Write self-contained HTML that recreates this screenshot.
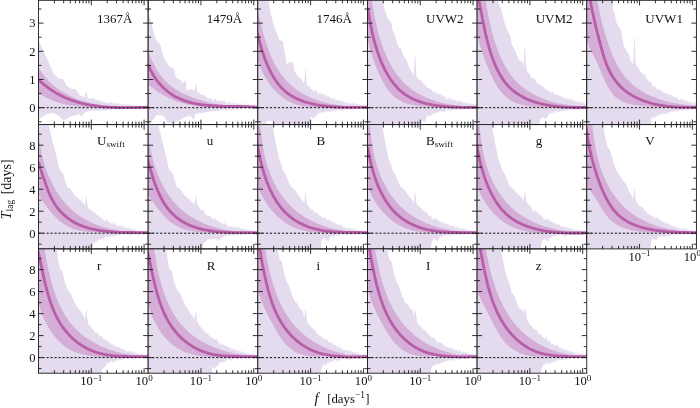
<!DOCTYPE html>
<html><head><meta charset="utf-8"><style>html,body{margin:0;padding:0;background:#fff;overflow:hidden}svg{display:block}</style></head>
<body><svg width="700" height="408" viewBox="0 0 700 408">
<rect width="700" height="408" fill="#fff"/>
<defs>
<clipPath id="c00"><rect x="38.50" y="0.30" width="109.65" height="124.30"/></clipPath>
<clipPath id="c01"><rect x="148.15" y="0.30" width="109.65" height="124.30"/></clipPath>
<clipPath id="c02"><rect x="257.80" y="0.30" width="109.65" height="124.30"/></clipPath>
<clipPath id="c03"><rect x="367.45" y="0.30" width="109.65" height="124.30"/></clipPath>
<clipPath id="c04"><rect x="477.10" y="0.30" width="109.65" height="124.30"/></clipPath>
<clipPath id="c05"><rect x="586.75" y="0.30" width="109.65" height="124.30"/></clipPath>
<clipPath id="c10"><rect x="38.50" y="124.60" width="109.65" height="124.30"/></clipPath>
<clipPath id="c11"><rect x="148.15" y="124.60" width="109.65" height="124.30"/></clipPath>
<clipPath id="c12"><rect x="257.80" y="124.60" width="109.65" height="124.30"/></clipPath>
<clipPath id="c13"><rect x="367.45" y="124.60" width="109.65" height="124.30"/></clipPath>
<clipPath id="c14"><rect x="477.10" y="124.60" width="109.65" height="124.30"/></clipPath>
<clipPath id="c15"><rect x="586.75" y="124.60" width="109.65" height="124.30"/></clipPath>
<clipPath id="c20"><rect x="38.50" y="248.90" width="109.65" height="124.30"/></clipPath>
<clipPath id="c21"><rect x="148.15" y="248.90" width="109.65" height="124.30"/></clipPath>
<clipPath id="c22"><rect x="257.80" y="248.90" width="109.65" height="124.30"/></clipPath>
<clipPath id="c23"><rect x="367.45" y="248.90" width="109.65" height="124.30"/></clipPath>
<clipPath id="c24"><rect x="477.10" y="248.90" width="109.65" height="124.30"/></clipPath>
<clipPath id="c25"><rect x="586.75" y="248.90" width="109.65" height="124.30"/></clipPath>
</defs>
<g clip-path="url(#c00)">
<path d="M38.0,38.4 53.7,73.7 58.4,78.5 63.2,79.2 67.1,86.3 71.0,88.7 75.7,89.5 80.5,95.7 84.9,97.0 85.6,93.6 85.9,91.8 86.5,91.8 86.8,93.6 87.5,97.0 88.3,98.1 88.9,98.3 90.1,98.4 91.3,98.4 92.4,97.2 93.5,99.1 94.5,99.1 95.5,99.2 96.4,100.3 97.3,100.7 98.2,99.4 99.0,99.9 99.8,100.5 100.6,101.9 101.3,101.9 102.1,100.2 102.8,100.5 103.5,102.5 104.1,103.4 104.8,101.9 105.4,101.4 106.0,103.2 106.6,101.9 107.2,103.1 107.8,104.0 108.3,103.1 108.9,102.7 109.4,103.4 109.9,102.1 110.4,102.6 110.9,102.3 111.4,102.8 111.8,102.5 112.3,102.9 112.8,102.8 113.2,103.3 113.6,103.3 114.1,103.6 114.5,104.8 114.9,101.9 115.3,104.8 115.7,103.3 116.1,102.4 116.5,103.5 116.9,103.8 117.2,104.8 117.6,102.7 118.0,104.1 118.3,104.0 118.7,102.2 119.0,102.8 119.4,104.6 119.7,104.7 120.0,105.1 120.4,104.6 120.7,104.5 121.0,104.3 121.3,105.4 121.6,103.4 121.9,104.1 122.2,104.7 122.5,102.7 122.8,105.6 123.1,103.6 123.4,104.3 123.7,106.6 123.9,103.6 124.2,103.9 124.5,106.1 124.7,103.4 125.0,104.1 125.3,105.1 125.5,105.0 125.8,105.2 126.0,105.0 126.3,106.0 126.5,105.7 126.8,105.3 127.0,104.0 127.3,104.0 127.5,102.9 127.7,105.5 128.0,103.0 128.2,105.7 128.4,106.7 128.7,103.8 128.9,104.2 129.1,104.4 129.3,105.8 129.5,104.1 129.8,104.8 130.0,104.5 130.2,104.8 130.4,106.3 130.6,104.1 130.8,105.1 131.0,105.4 131.2,106.0 131.4,103.9 131.6,106.3 131.8,105.6 132.0,106.0 132.2,105.3 132.4,103.6 132.6,104.6 132.8,106.0 133.0,105.3 133.1,105.2 133.3,107.0 133.5,107.5 133.7,105.2 133.9,107.2 134.0,103.3 134.2,103.2 134.4,106.2 134.6,105.1 134.7,105.9 134.9,105.8 135.1,105.3 135.3,106.0 135.4,105.5 135.6,103.8 135.8,105.6 135.9,105.6 136.1,107.2 136.2,104.3 136.4,105.4 136.6,105.0 136.7,105.3 136.9,107.1 137.0,105.8 137.2,105.0 137.3,105.6 137.5,106.2 137.7,104.5 137.8,105.2 138.0,107.0 138.1,106.4 138.3,105.5 138.4,105.0 138.5,105.4 138.7,104.0 138.8,106.5 139.0,105.9 139.1,105.7 139.3,104.3 139.4,104.8 139.5,106.1 139.7,105.8 139.8,105.1 140.0,106.1 140.1,106.5 140.2,104.9 140.4,105.1 140.5,104.7 140.6,104.5 140.8,106.4 140.9,106.1 141.0,106.0 141.2,104.5 141.3,104.6 141.4,105.6 141.6,105.3 141.7,105.8 141.8,105.0 141.9,106.3 142.1,107.5 142.2,107.3 142.3,107.3 142.4,105.8 142.6,106.6 142.7,105.4 142.8,106.7 142.9,105.4 143.0,105.3 143.2,105.1 143.3,106.5 143.4,106.0 143.5,106.0 143.6,104.6 143.8,105.9 143.9,104.3 144.0,107.3 144.1,105.7 144.2,106.0 144.3,105.7 144.4,104.2 144.6,104.5 144.7,105.8 144.8,107.3 144.9,104.7 145.0,105.1 145.1,105.8 145.2,104.2 145.3,104.2 145.4,105.5 145.5,105.8 145.7,105.5 145.8,107.4 145.9,105.7 146.0,106.3 146.1,107.5 146.2,107.6 146.3,104.3 146.4,105.5 146.5,107.1 146.6,104.5 146.7,105.0 146.8,104.6 146.9,104.6 147.0,104.8 147.1,106.1 147.2,107.2 147.3,107.5 147.4,106.0 147.5,104.0 147.6,105.9 147.7,105.6 147.8,106.3 147.9,105.9 148.0,104.2 148.1,106.4 148.1,107.5 148.0,107.3 147.9,107.4 147.8,106.7 147.7,108.7 147.6,109.2 147.5,108.6 147.4,108.0 147.3,108.7 147.2,107.3 147.1,107.1 147.0,108.2 146.9,108.0 146.8,109.3 146.7,105.5 146.6,108.2 146.5,106.8 146.4,108.0 146.3,108.1 146.2,109.1 146.1,107.5 146.0,107.6 145.9,107.8 145.8,108.7 145.7,108.3 145.5,108.8 145.4,107.4 145.3,108.5 145.2,107.7 145.1,108.3 145.0,108.7 144.9,109.2 144.8,108.6 144.7,108.7 144.6,108.1 144.4,109.3 144.3,108.7 144.2,108.2 144.1,108.8 144.0,107.9 143.9,108.5 143.8,109.5 143.6,107.6 143.5,108.0 143.4,108.0 143.3,109.2 143.2,107.0 143.0,108.1 142.9,107.2 142.8,107.6 142.7,109.1 142.6,109.3 142.4,108.7 142.3,108.5 142.2,107.7 142.1,109.7 141.9,108.9 141.8,108.6 141.7,108.7 141.6,106.4 141.4,107.2 141.3,109.4 141.2,108.1 141.0,107.6 140.9,108.1 140.8,108.3 140.6,108.4 140.5,108.2 140.4,110.0 140.2,107.2 140.1,109.0 140.0,109.2 139.8,108.8 139.7,108.0 139.5,107.3 139.4,109.5 139.3,108.0 139.1,107.4 139.0,108.6 138.8,109.4 138.7,108.4 138.5,109.3 138.4,107.3 138.3,108.2 138.1,108.6 138.0,107.7 137.8,107.1 137.7,109.7 137.5,108.8 137.3,107.3 137.2,108.9 137.0,107.4 136.9,109.7 136.7,108.1 136.6,109.5 136.4,108.3 136.2,109.7 136.1,107.6 135.9,108.0 135.8,107.8 135.6,107.5 135.4,106.4 135.3,108.2 135.1,109.1 134.9,108.7 134.7,109.2 134.6,108.6 134.4,108.9 134.2,107.7 134.0,108.6 133.9,107.0 133.7,109.7 133.5,109.8 133.3,108.2 133.1,108.6 133.0,107.6 132.8,107.7 132.6,107.9 132.4,107.0 132.2,108.3 132.0,108.3 131.8,108.3 131.6,109.5 131.4,109.0 131.2,108.7 131.0,107.8 130.8,109.3 130.6,107.4 130.4,108.4 130.2,108.8 130.0,108.6 129.8,108.7 129.5,107.9 129.3,107.7 129.1,109.9 128.9,106.5 128.7,108.1 128.4,108.8 128.2,109.3 128.0,108.0 127.7,110.0 127.5,108.6 127.3,110.2 127.0,108.8 126.8,108.8 126.5,109.1 126.3,109.2 126.0,108.7 125.8,109.4 125.5,108.6 125.3,108.2 125.0,109.0 124.7,107.5 124.5,108.5 124.2,108.5 123.9,108.1 123.7,109.3 123.4,109.8 123.1,107.7 122.8,108.3 122.5,109.3 122.2,109.9 121.9,109.9 121.6,109.5 121.3,108.9 121.0,109.8 120.7,109.1 120.4,108.9 120.0,108.7 119.7,110.5 119.4,110.1 119.0,109.6 118.7,110.3 118.3,108.9 118.0,108.8 117.6,109.0 117.2,108.5 116.9,110.5 116.5,110.4 116.1,109.1 115.7,108.9 115.3,109.5 114.9,109.4 114.5,108.7 114.1,109.7 113.6,108.9 113.2,108.9 112.8,108.8 112.3,109.5 111.8,109.7 111.4,110.7 110.9,110.8 110.4,110.0 109.9,110.7 109.4,109.4 108.9,109.8 108.3,109.5 107.8,109.3 107.2,110.6 106.6,110.7 106.0,109.4 105.4,110.8 104.8,110.1 104.1,110.9 103.5,110.7 102.8,109.2 102.1,111.3 101.3,110.8 100.6,110.8 99.8,110.6 99.0,110.6 89.9,110.7 85.2,112.3 81.6,116.2 78.8,113.9 74.2,115.5 69.4,117.0 66.3,119.4 63.2,120.2 58.4,115.5 53.7,113.1 47.4,113.9 41.9,117.0 38.0,120.2 Z" fill="#e4dbee"/>
<path d="M37.6,66.2 38.1,67.1 38.7,68.0 39.3,68.9 39.8,69.8 40.4,70.7 41.0,71.6 41.6,72.4 42.2,73.3 42.8,74.1 43.5,74.9 44.1,75.7 44.8,76.5 45.4,77.3 46.1,78.1 46.8,78.8 47.4,79.6 48.1,80.3 48.8,81.0 49.5,81.7 50.3,82.4 51.0,83.1 51.7,83.8 52.5,84.5 53.2,85.1 54.0,85.7 54.7,86.4 55.5,87.0 56.3,87.6 57.1,88.2 57.9,88.8 58.7,89.4 59.5,89.9 60.3,90.5 61.1,91.0 61.9,91.5 62.8,92.1 63.6,92.6 64.5,93.1 65.3,93.5 66.2,94.0 67.0,94.5 67.9,94.9 68.8,95.4 69.7,95.8 70.6,96.2 71.4,96.7 72.3,97.1 73.2,97.5 74.2,97.8 75.1,98.2 76.0,98.6 76.9,98.9 77.8,99.3 78.8,99.6 79.7,99.9 80.6,100.3 81.6,100.6 82.5,100.9 83.5,101.1 84.4,101.4 85.4,101.7 86.4,102.0 87.3,102.2 88.3,102.5 89.3,102.7 90.2,102.9 91.2,103.1 92.2,103.4 93.2,103.6 94.2,103.8 95.1,104.0 96.1,104.1 97.1,104.3 98.1,104.5 99.1,104.6 100.1,104.8 101.1,104.9 102.1,105.1 103.1,105.2 104.1,105.3 105.1,105.5 106.1,105.6 107.2,105.7 108.2,105.8 109.2,105.9 110.2,106.0 111.2,106.1 112.2,106.2 113.2,106.2 114.2,106.3 115.3,106.4 116.3,106.4 117.3,106.5 118.3,106.5 119.3,106.6 120.3,106.6 121.3,106.7 122.3,106.7 123.4,106.7 124.4,106.8 125.4,106.8 126.4,106.8 127.4,106.8 128.4,106.9 129.4,106.9 130.4,106.9 131.4,106.9 132.4,106.9 133.4,106.9 134.4,106.9 135.4,106.9 136.4,106.9 137.4,106.9 138.4,106.8 139.4,106.8 140.4,106.8 141.3,106.8 142.3,106.8 143.3,106.8 144.3,106.7 145.2,106.7 146.2,106.7 147.2,106.7 148.1,106.7 149.1,106.6 150.0,106.6 150.1,107.7 149.1,107.6 148.2,107.5 147.2,107.4 146.3,107.3 145.3,107.2 144.4,107.1 143.4,107.1 142.5,107.0 141.5,106.9 140.5,106.9 139.5,106.8 138.6,106.8 137.6,106.8 136.6,106.7 135.6,106.7 134.6,106.7 133.6,106.7 132.7,106.6 131.7,106.6 130.7,106.6 129.7,106.6 128.7,106.6 127.7,106.6 126.7,106.6 125.7,106.7 124.7,106.7 123.7,106.7 122.7,106.7 121.7,106.7 120.6,106.7 119.6,106.8 118.6,106.8 117.6,106.8 116.6,106.8 115.6,106.9 114.6,106.9 113.5,106.9 112.5,107.0 111.5,107.0 110.5,107.0 109.5,107.0 108.5,107.1 107.4,107.1 106.4,107.1 105.4,107.1 104.4,107.2 103.4,107.2 102.3,107.2 101.3,107.2 100.3,107.2 99.3,107.2 98.3,107.2 97.2,107.2 96.2,107.2 95.2,107.2 94.2,107.2 93.2,107.2 92.2,107.2 91.1,107.2 90.1,107.2 89.1,107.1 88.1,107.1 87.1,107.1 86.1,107.0 85.1,107.0 84.1,106.9 83.1,106.8 82.1,106.8 81.1,106.7 80.1,106.6 79.1,106.5 78.1,106.4 77.1,106.3 76.1,106.2 75.1,106.1 74.1,106.0 73.1,105.8 72.1,105.7 71.1,105.5 70.2,105.4 69.2,105.2 68.2,105.0 67.2,104.9 66.3,104.7 65.3,104.4 64.3,104.2 63.4,104.0 62.4,103.8 61.5,103.5 60.5,103.3 59.6,103.0 58.6,102.7 57.7,102.4 56.7,102.1 55.8,101.8 54.9,101.5 53.9,101.1 53.0,100.8 52.1,100.4 51.2,100.0 50.3,99.6 49.4,99.2 48.5,98.8 47.6,98.3 46.7,97.9 45.8,97.4 44.9,97.0 44.0,96.5 43.1,95.9 42.2,95.4 41.4,94.9 40.5,94.3 39.6,93.8 38.8,93.2 37.9,92.6 Z" fill="#d4aed6"/>
<path d="M38.2,79.5 39.0,80.2 39.7,80.9 40.5,81.6 41.3,82.3 42.0,83.0 42.8,83.6 43.6,84.3 44.4,84.9 45.2,85.6 46.0,86.2 46.8,86.8 47.6,87.4 48.4,88.0 49.3,88.6 50.1,89.2 50.9,89.7 51.8,90.3 52.6,90.8 53.5,91.4 54.3,91.9 55.2,92.4 56.0,92.9 56.9,93.4 57.7,93.9 58.6,94.4 59.5,94.8 60.4,95.3 61.3,95.8 62.2,96.2 63.0,96.6 63.9,97.0 64.8,97.5 65.7,97.9 66.7,98.2 67.6,98.6 68.5,99.0 69.4,99.4 70.3,99.7 71.2,100.1 72.2,100.4 73.1,100.7 74.0,101.0 75.0,101.4 75.9,101.7 76.9,101.9 77.8,102.2 78.8,102.5 79.7,102.8 80.7,103.0 81.6,103.3 82.6,103.5 83.5,103.7 84.5,103.9 85.5,104.2 86.4,104.4 87.4,104.6 88.4,104.7 89.4,104.9 90.3,105.1 91.3,105.3 92.3,105.4 93.3,105.6 94.3,105.7 95.2,105.9 96.2,106.0 97.2,106.1 98.2,106.2 99.2,106.4 100.2,106.5 101.2,106.6 102.2,106.7 103.2,106.8 104.2,106.8 105.2,106.9 106.2,107.0 107.2,107.1 108.2,107.1 109.2,107.2 110.2,107.2 111.2,107.3 112.2,107.3 113.2,107.4 114.2,107.4 115.2,107.5 116.2,107.5 117.2,107.5 118.2,107.5 119.2,107.6 120.2,107.6 121.2,107.6 122.3,107.6 123.3,107.6 124.3,107.6 125.3,107.6 126.3,107.6 127.3,107.6 128.3,107.6 129.3,107.6 130.3,107.6 131.3,107.6 132.3,107.6 133.3,107.6 134.3,107.6 135.3,107.6 136.3,107.5 137.3,107.5 138.3,107.5 139.3,107.5 140.3,107.5 141.3,107.5 142.3,107.4 143.3,107.4 144.2,107.4 145.2,107.4 146.2,107.4 147.2,107.4 148.2,107.3 149.2,107.3 150.1,107.3" fill="none" stroke="#b85ea8" stroke-width="2.8" stroke-linejoin="round"/>
<line x1="38.50" y1="107.70" x2="148.15" y2="107.70" stroke="#111" stroke-width="1" stroke-dasharray="2.2,1.8"/>
</g>
<path d="M91.30,124.60v-5M91.30,0.30v5M144.10,124.60v-5M144.10,0.30v5M54.39,124.60v-3M54.39,0.30v3M63.69,124.60v-3M63.69,0.30v3M70.29,124.60v-3M70.29,0.30v3M75.41,124.60v-3M75.41,0.30v3M79.59,124.60v-3M79.59,0.30v3M83.12,124.60v-3M83.12,0.30v3M86.18,124.60v-3M86.18,0.30v3M88.88,124.60v-3M88.88,0.30v3M107.19,124.60v-3M107.19,0.30v3M116.49,124.60v-3M116.49,0.30v3M123.09,124.60v-3M123.09,0.30v3M128.21,124.60v-3M128.21,0.30v3M132.39,124.60v-3M132.39,0.30v3M135.92,124.60v-3M135.92,0.30v3M138.98,124.60v-3M138.98,0.30v3M141.68,124.60v-3M141.68,0.30v3M38.50,107.70h5M148.15,107.70h-5M38.50,79.50h5M148.15,79.50h-5M38.50,51.30h5M148.15,51.30h-5M38.50,23.10h5M148.15,23.10h-5M38.50,121.80h3M148.15,121.80h-3M38.50,93.60h3M148.15,93.60h-3M38.50,65.40h3M148.15,65.40h-3M38.50,37.20h3M148.15,37.20h-3M38.50,9.00h3M148.15,9.00h-3" stroke="#1a1a1a" stroke-width="0.9" fill="none"/>
<rect x="38.50" y="0.30" width="109.65" height="124.30" fill="none" stroke="#1a1a1a" stroke-width="0.9"/>
<text x="97.10" y="23.10" font-family="'Liberation Serif', 'DejaVu Serif', serif" font-size="13" fill="#111">1367Å</text>
<text x="35.50" y="112.00" font-family="'Liberation Serif', 'DejaVu Serif', serif" font-size="12.5" text-anchor="end" fill="#111">0</text>
<text x="35.50" y="83.80" font-family="'Liberation Serif', 'DejaVu Serif', serif" font-size="12.5" text-anchor="end" fill="#111">1</text>
<text x="35.50" y="55.60" font-family="'Liberation Serif', 'DejaVu Serif', serif" font-size="12.5" text-anchor="end" fill="#111">2</text>
<text x="35.50" y="27.40" font-family="'Liberation Serif', 'DejaVu Serif', serif" font-size="12.5" text-anchor="end" fill="#111">3</text>
<g clip-path="url(#c01)">
<path d="M148.2,11.0 149.6,15.7 151.5,23.5 153.5,31.4 155.8,39.2 160.2,45.0 163.7,56.5 165.4,61.1 170.0,66.9 173.5,68.0 175.2,75.0 177.0,78.4 180.4,79.6 182.7,83.0 186.1,80.0 186.7,91.1 190.5,88.7 193.6,90.3 194.5,91.4 195.2,86.1 195.5,83.2 196.1,83.2 196.4,86.1 197.1,91.4 198.5,92.9 199.8,93.7 200.9,94.5 202.1,95.1 203.1,94.2 204.2,96.4 205.1,95.1 206.1,97.2 207.0,96.8 207.8,98.8 208.7,97.9 209.5,98.4 210.2,97.6 211.0,99.6 211.7,98.9 212.4,99.9 213.1,100.2 213.8,100.3 214.4,99.4 215.1,97.9 215.7,98.7 216.3,100.9 216.8,101.1 217.4,101.5 218.0,99.8 218.5,99.5 219.0,101.5 219.5,101.6 220.0,100.9 220.5,101.0 221.0,99.8 221.5,101.0 222.0,102.7 222.4,100.6 222.9,101.1 223.3,101.6 223.7,101.5 224.1,100.1 224.6,101.5 225.0,101.6 225.4,101.9 225.8,101.9 226.1,102.4 226.5,101.5 226.9,104.3 227.3,102.3 227.6,104.2 228.0,104.2 228.3,102.9 228.7,101.7 229.0,100.7 229.3,101.4 229.7,102.7 230.0,103.2 230.3,102.3 230.6,102.6 231.0,105.9 231.3,103.5 231.6,102.0 231.9,103.9 232.2,102.4 232.5,100.9 232.7,103.6 233.0,102.7 233.3,103.5 233.6,105.3 233.9,103.6 234.1,102.7 234.4,105.2 234.7,101.5 234.9,102.5 235.2,105.1 235.4,105.2 235.7,103.5 235.9,103.0 236.2,104.1 236.4,104.1 236.7,104.0 236.9,103.3 237.2,102.5 237.4,103.1 237.6,103.5 237.9,103.5 238.1,103.3 238.3,103.8 238.5,102.2 238.8,104.9 239.0,105.4 239.2,103.4 239.4,102.7 239.6,104.4 239.8,104.7 240.0,104.0 240.2,105.2 240.5,103.7 240.7,103.2 240.9,105.8 241.1,103.8 241.3,103.9 241.5,102.0 241.7,104.0 241.8,103.8 242.0,104.4 242.2,105.1 242.4,104.6 242.6,103.3 242.8,105.5 243.0,104.9 243.2,105.1 243.3,104.4 243.5,104.6 243.7,103.2 243.9,103.0 244.0,103.9 244.2,103.9 244.4,104.8 244.6,101.3 244.7,104.0 244.9,103.8 245.1,105.7 245.2,104.0 245.4,104.1 245.6,104.7 245.7,105.1 245.9,102.7 246.1,103.4 246.2,105.3 246.4,105.0 246.5,104.7 246.7,106.2 246.8,103.1 247.0,104.8 247.2,104.2 247.3,105.0 247.5,104.0 247.6,105.0 247.8,107.4 247.9,105.4 248.1,105.1 248.2,106.5 248.3,105.6 248.5,107.1 248.6,104.1 248.8,103.9 248.9,102.9 249.1,104.0 249.2,103.1 249.3,106.5 249.5,105.1 249.6,105.6 249.8,105.2 249.9,105.0 250.0,104.8 250.2,103.6 250.3,106.6 250.4,104.7 250.6,106.9 250.7,105.8 250.8,103.7 250.9,104.7 251.1,104.7 251.2,104.5 251.3,104.5 251.5,105.0 251.6,104.5 251.7,104.3 251.8,105.2 252.0,105.1 252.1,104.6 252.2,105.5 252.3,104.7 252.5,105.5 252.6,105.1 252.7,106.3 252.8,103.3 252.9,106.9 253.1,104.7 253.2,106.4 253.3,104.6 253.4,105.0 253.5,105.6 253.6,104.8 253.7,104.7 253.9,105.0 254.0,106.7 254.1,103.4 254.2,105.1 254.3,106.6 254.4,104.9 254.5,106.8 254.6,103.0 254.8,103.8 254.9,104.7 255.0,104.4 255.1,104.5 255.2,105.8 255.3,104.1 255.4,105.5 255.5,105.5 255.6,105.1 255.7,107.4 255.8,104.9 255.9,107.4 256.0,104.7 256.1,105.8 256.2,105.7 256.3,104.6 256.5,106.1 256.6,106.7 256.7,106.1 256.8,105.5 256.9,106.8 257.0,106.2 257.1,105.9 257.2,102.5 257.3,105.2 257.4,106.3 257.4,104.2 257.5,102.3 257.6,104.5 257.7,105.2 257.7,108.4 257.6,107.8 257.5,109.0 257.4,108.2 257.4,107.7 257.3,109.4 257.2,107.8 257.1,108.3 257.0,107.6 256.9,108.5 256.8,108.2 256.7,108.3 256.6,108.6 256.5,108.0 256.3,107.9 256.2,109.5 256.1,108.4 256.0,108.3 255.9,108.8 255.8,108.5 255.7,108.0 255.6,108.6 255.5,110.1 255.4,107.5 255.3,107.8 255.2,109.1 255.1,109.6 255.0,108.8 254.9,107.7 254.8,107.2 254.6,108.4 254.5,108.9 254.4,108.2 254.3,108.1 254.2,108.7 254.1,109.0 254.0,108.6 253.9,108.0 253.7,107.8 253.6,108.5 253.5,108.8 253.4,107.9 253.3,107.7 253.2,109.0 253.1,109.0 252.9,109.9 252.8,108.3 252.7,108.8 252.6,107.3 252.5,107.7 252.3,107.2 252.2,108.0 252.1,108.7 252.0,110.0 251.8,108.6 251.7,109.4 251.6,108.5 251.5,107.8 251.3,108.0 251.2,107.8 251.1,108.6 250.9,109.1 250.8,108.9 250.7,107.7 250.6,108.7 250.4,107.2 250.3,107.0 250.2,107.6 250.0,108.6 249.9,108.2 249.8,108.8 249.6,109.7 249.5,107.7 249.3,107.5 249.2,109.1 249.1,109.2 248.9,108.4 248.8,107.3 248.6,108.6 248.5,107.2 248.3,109.2 248.2,109.6 248.1,107.7 247.9,108.5 247.8,110.1 247.6,108.7 247.5,107.8 247.3,109.4 247.2,108.6 247.0,108.6 246.8,108.2 246.7,109.4 246.5,108.7 246.4,109.0 246.2,107.6 246.1,108.7 245.9,108.6 245.7,107.5 245.6,108.6 245.4,109.5 245.2,109.3 245.1,107.8 244.9,108.6 244.7,108.9 244.6,108.1 244.4,108.6 244.2,109.2 244.0,109.2 243.9,108.7 243.7,108.0 243.5,107.6 243.3,108.8 243.2,108.8 243.0,109.2 242.8,109.3 242.6,109.1 242.4,109.4 242.2,109.6 242.0,108.6 241.8,110.0 241.7,109.2 241.5,109.4 241.3,108.8 241.1,108.8 240.9,109.0 240.7,109.0 240.5,110.8 240.2,109.4 240.0,109.2 239.8,109.1 239.6,108.0 239.4,109.8 239.2,108.6 239.0,110.4 238.8,109.5 238.5,109.2 238.3,108.6 238.1,110.3 237.9,108.7 237.6,109.4 237.4,111.6 237.2,108.9 236.9,109.2 236.7,110.7 236.4,109.3 236.2,108.8 235.9,109.4 235.7,109.6 235.4,107.8 235.2,106.8 234.9,108.1 234.7,108.9 234.4,109.3 234.1,109.7 233.9,110.0 233.6,109.3 233.3,107.8 233.0,110.1 232.7,109.7 232.5,109.6 232.2,109.3 231.9,111.2 231.6,108.3 231.3,109.6 231.0,111.0 230.6,108.1 230.3,109.0 230.0,108.6 229.7,110.7 229.3,110.3 229.0,109.8 228.7,109.8 228.3,109.1 228.0,110.3 227.6,110.2 227.3,109.5 226.9,109.2 226.5,109.9 226.1,110.8 225.8,109.9 225.4,111.1 225.0,109.8 224.6,109.3 224.1,108.5 223.7,110.0 223.3,110.8 222.9,110.5 222.4,111.3 222.0,108.8 221.5,110.7 221.0,110.0 220.5,110.7 220.0,110.2 219.5,111.4 219.0,111.0 218.5,110.7 218.0,109.9 217.4,113.0 216.8,110.1 216.3,110.7 215.7,110.9 215.1,111.4 214.4,111.3 213.8,110.1 213.1,111.0 212.4,112.0 211.7,111.0 211.0,111.0 210.2,111.6 209.5,111.6 208.7,111.8 201.5,113.1 195.2,113.9 193.6,120.2 190.5,115.5 185.7,117.0 179.4,120.2 173.2,123.3 167.7,122.5 163.7,116.2 159.8,114.7 155.9,115.5 152.7,120.2 148.0,121.7 Z" fill="#e4dbee"/>
<path d="M147.5,48.8 147.8,49.7 148.1,50.6 148.4,51.5 148.7,52.4 149.1,53.3 149.4,54.2 149.7,55.1 150.1,56.0 150.5,56.9 150.8,57.8 151.2,58.8 151.6,59.7 152.0,60.6 152.5,61.5 152.9,62.4 153.3,63.3 153.8,64.2 154.2,65.2 154.7,66.1 155.2,67.0 155.7,67.8 156.2,68.7 156.7,69.6 157.3,70.5 157.8,71.3 158.4,72.2 159.0,73.0 159.5,73.9 160.1,74.7 160.7,75.5 161.4,76.3 162.0,77.1 162.6,77.9 163.3,78.7 164.0,79.4 164.6,80.2 165.3,80.9 166.0,81.6 166.7,82.3 167.5,83.0 168.2,83.7 168.9,84.3 169.7,85.0 170.4,85.6 171.2,86.2 172.0,86.8 172.8,87.4 173.6,87.9 174.4,88.5 175.2,89.0 176.0,89.6 176.8,90.1 177.7,90.6 178.5,91.1 179.3,91.5 180.2,92.0 181.1,92.4 181.9,92.9 182.8,93.3 183.7,93.7 184.6,94.2 185.5,94.6 186.3,95.0 187.2,95.3 188.2,95.7 189.1,96.1 190.0,96.5 190.9,96.8 191.8,97.2 192.7,97.5 193.7,97.9 194.6,98.2 195.5,98.6 196.5,98.9 197.4,99.2 198.4,99.5 199.3,99.8 200.3,100.1 201.2,100.4 202.2,100.7 203.2,101.0 204.1,101.3 205.1,101.5 206.1,101.8 207.1,102.0 208.0,102.3 209.0,102.5 210.0,102.7 211.0,103.0 212.0,103.2 212.9,103.4 213.9,103.6 214.9,103.8 215.9,104.0 216.9,104.1 217.9,104.3 218.9,104.5 219.9,104.6 220.9,104.8 221.9,104.9 222.9,105.0 223.9,105.1 224.9,105.3 225.9,105.4 226.9,105.4 227.9,105.5 228.9,105.6 229.9,105.7 230.9,105.7 231.9,105.8 233.0,105.8 234.0,105.9 235.0,105.9 236.0,106.0 237.0,106.0 238.0,106.0 239.0,106.0 240.0,106.0 241.0,106.1 242.0,106.1 243.0,106.1 244.0,106.1 245.0,106.1 246.0,106.1 247.0,106.1 248.0,106.1 249.0,106.2 249.9,106.2 250.9,106.2 251.9,106.2 252.9,106.2 253.9,106.3 254.9,106.3 255.8,106.3 256.8,106.4 257.8,106.4 258.8,106.5 259.7,106.5 259.8,107.6 258.8,107.5 257.8,107.5 256.9,107.5 255.9,107.4 254.9,107.4 253.9,107.4 253.0,107.4 252.0,107.3 251.0,107.3 250.0,107.3 249.0,107.3 248.0,107.3 247.0,107.3 246.0,107.3 245.0,107.3 244.1,107.3 243.1,107.3 242.1,107.3 241.1,107.3 240.1,107.4 239.1,107.4 238.0,107.4 237.0,107.4 236.0,107.4 235.0,107.4 234.0,107.4 233.0,107.5 232.0,107.5 231.0,107.5 230.0,107.5 229.0,107.5 228.0,107.5 227.0,107.5 226.0,107.5 224.9,107.5 223.9,107.5 222.9,107.5 221.9,107.5 220.9,107.5 219.9,107.5 218.9,107.5 217.9,107.5 216.9,107.5 215.9,107.5 214.8,107.4 213.8,107.4 212.8,107.4 211.8,107.3 210.8,107.3 209.8,107.2 208.8,107.2 207.8,107.1 206.8,107.1 205.8,107.0 204.8,106.9 203.8,106.9 202.8,106.8 201.8,106.7 200.9,106.6 199.9,106.5 198.9,106.4 197.9,106.2 196.9,106.1 195.9,106.0 194.9,105.8 194.0,105.7 193.0,105.5 192.0,105.4 191.1,105.2 190.1,105.0 189.1,104.8 188.2,104.6 187.2,104.4 186.2,104.2 185.3,104.0 184.3,103.7 183.4,103.5 182.4,103.2 181.5,102.9 180.6,102.6 179.6,102.4 178.7,102.1 177.8,101.7 176.8,101.4 175.9,101.1 175.0,100.7 174.1,100.4 173.2,100.0 172.3,99.6 171.4,99.2 170.5,98.8 169.6,98.4 168.7,98.0 167.8,97.5 166.9,97.1 166.0,96.6 165.1,96.2 164.3,95.7 163.4,95.2 162.5,94.7 161.7,94.2 160.8,93.6 160.0,93.1 159.1,92.6 158.3,92.0 157.5,91.4 156.7,90.9 155.8,90.3 155.0,89.7 154.2,89.1 153.4,88.4 152.6,87.8 151.8,87.2 151.0,86.5 150.2,85.9 149.5,85.2 148.7,84.5 147.9,83.8 147.2,83.1 Z" fill="#d4aed6"/>
<path d="M147.7,64.0 148.1,65.0 148.5,65.9 148.9,66.8 149.4,67.7 149.8,68.6 150.2,69.5 150.7,70.4 151.2,71.2 151.7,72.1 152.1,73.0 152.6,73.9 153.2,74.8 153.7,75.6 154.2,76.5 154.8,77.3 155.3,78.1 155.9,79.0 156.5,79.8 157.0,80.6 157.6,81.4 158.3,82.2 158.9,82.9 159.5,83.7 160.2,84.4 160.9,85.2 161.5,85.9 162.2,86.6 162.9,87.3 163.6,88.0 164.4,88.7 165.1,89.3 165.8,90.0 166.6,90.6 167.4,91.2 168.1,91.8 168.9,92.4 169.7,93.0 170.5,93.6 171.3,94.1 172.1,94.7 173.0,95.2 173.8,95.7 174.6,96.2 175.5,96.7 176.4,97.1 177.2,97.6 178.1,98.0 179.0,98.4 179.9,98.8 180.8,99.2 181.7,99.6 182.6,99.9 183.5,100.3 184.4,100.6 185.3,100.9 186.3,101.3 187.2,101.6 188.1,101.8 189.1,102.1 190.0,102.4 191.0,102.6 191.9,102.9 192.9,103.1 193.9,103.3 194.9,103.5 195.8,103.7 196.8,103.9 197.8,104.1 198.8,104.3 199.8,104.4 200.8,104.6 201.8,104.7 202.8,104.8 203.8,105.0 204.8,105.1 205.8,105.2 206.8,105.3 207.9,105.4 208.9,105.5 209.9,105.6 210.9,105.7 211.9,105.7 213.0,105.8 214.0,105.9 215.0,105.9 216.0,106.0 217.1,106.0 218.1,106.1 219.1,106.1 220.2,106.2 221.2,106.2 222.2,106.2 223.2,106.3 224.3,106.3 225.3,106.3 226.3,106.3 227.3,106.3 228.4,106.4 229.4,106.4 230.4,106.4 231.4,106.4 232.5,106.4 233.5,106.4 234.5,106.4 235.5,106.5 236.5,106.5 237.5,106.5 238.5,106.5 239.5,106.5 240.5,106.5 241.5,106.5 242.5,106.6 243.5,106.6 244.5,106.6 245.5,106.6 246.5,106.7 247.4,106.7 248.4,106.7 249.4,106.8 250.3,106.8 251.3,106.9 252.3,106.9 253.2,107.0 254.1,107.0 255.1,107.1 256.0,107.2 256.9,107.3 257.9,107.4 258.8,107.5 259.7,107.6" fill="none" stroke="#b85ea8" stroke-width="2.8" stroke-linejoin="round"/>
<line x1="148.15" y1="107.70" x2="257.80" y2="107.70" stroke="#111" stroke-width="1" stroke-dasharray="2.2,1.8"/>
</g>
<path d="M200.95,124.60v-5M200.95,0.30v5M253.75,124.60v-5M253.75,0.30v5M164.04,124.60v-3M164.04,0.30v3M173.34,124.60v-3M173.34,0.30v3M179.94,124.60v-3M179.94,0.30v3M185.06,124.60v-3M185.06,0.30v3M189.24,124.60v-3M189.24,0.30v3M192.77,124.60v-3M192.77,0.30v3M195.83,124.60v-3M195.83,0.30v3M198.53,124.60v-3M198.53,0.30v3M216.84,124.60v-3M216.84,0.30v3M226.14,124.60v-3M226.14,0.30v3M232.74,124.60v-3M232.74,0.30v3M237.86,124.60v-3M237.86,0.30v3M242.04,124.60v-3M242.04,0.30v3M245.57,124.60v-3M245.57,0.30v3M248.63,124.60v-3M248.63,0.30v3M251.33,124.60v-3M251.33,0.30v3M148.15,107.70h5M257.80,107.70h-5M148.15,79.50h5M257.80,79.50h-5M148.15,51.30h5M257.80,51.30h-5M148.15,23.10h5M257.80,23.10h-5M148.15,121.80h3M257.80,121.80h-3M148.15,93.60h3M257.80,93.60h-3M148.15,65.40h3M257.80,65.40h-3M148.15,37.20h3M257.80,37.20h-3M148.15,9.00h3M257.80,9.00h-3" stroke="#1a1a1a" stroke-width="0.9" fill="none"/>
<rect x="148.15" y="0.30" width="109.65" height="124.30" fill="none" stroke="#1a1a1a" stroke-width="0.9"/>
<text x="206.75" y="23.10" font-family="'Liberation Serif', 'DejaVu Serif', serif" font-size="13" fill="#111">1479Å</text>
<g clip-path="url(#c02)">
<path d="M256.8,-29.7 268.4,-29.7 268.5,0.3 270.2,11.5 273.1,23.0 277.2,34.6 279.5,40.3 282.9,40.9 283.5,46.1 285.3,55.7 286.6,64.3 290.0,62.1 293.2,62.8 294.7,71.4 297.9,76.2 301.0,78.5 303.4,82.4 304.2,84.1 304.9,74.9 305.2,69.9 305.8,69.9 306.1,74.9 306.8,84.1 307.3,85.6 308.2,86.2 309.4,86.5 310.6,88.1 311.7,89.3 312.8,90.0 313.8,91.7 314.8,90.3 315.7,90.6 316.6,91.6 317.5,91.6 318.3,94.7 319.1,94.1 319.9,91.6 320.6,93.6 321.4,94.6 322.1,92.5 322.8,95.9 323.4,94.4 324.1,94.0 324.7,95.1 325.3,94.6 325.9,96.9 326.5,96.6 327.1,95.9 327.6,95.7 328.2,96.9 328.7,95.7 329.2,97.3 329.7,96.6 330.2,97.9 330.7,98.7 331.1,97.8 331.6,98.2 332.1,98.6 332.5,99.5 332.9,99.5 333.4,99.4 333.8,99.5 334.2,98.0 334.6,97.3 335.0,98.3 335.4,103.0 335.8,99.9 336.2,99.2 336.5,100.5 336.9,100.1 337.3,100.8 337.6,100.9 338.0,99.4 338.3,99.6 338.7,101.6 339.0,99.6 339.3,100.9 339.7,100.1 340.0,101.2 340.3,101.7 340.6,100.3 340.9,102.2 341.2,100.4 341.5,100.4 341.8,101.0 342.1,101.4 342.4,100.6 342.7,98.5 343.0,100.7 343.2,101.8 343.5,102.2 343.8,101.8 344.0,104.5 344.3,102.4 344.6,101.0 344.8,101.9 345.1,102.3 345.3,102.7 345.6,102.8 345.8,102.7 346.1,101.6 346.3,103.7 346.6,103.4 346.8,102.3 347.0,101.9 347.3,103.2 347.5,102.5 347.7,101.4 348.0,103.5 348.2,102.4 348.4,104.8 348.6,99.3 348.8,103.9 349.1,102.2 349.3,101.8 349.5,103.3 349.7,105.7 349.9,101.7 350.1,104.0 350.3,104.1 350.5,103.6 350.7,102.5 350.9,102.9 351.1,105.4 351.3,103.0 351.5,103.5 351.7,103.8 351.9,104.2 352.1,105.0 352.3,105.1 352.4,103.1 352.6,102.2 352.8,104.0 353.0,102.0 353.2,102.4 353.3,103.1 353.5,102.4 353.7,103.0 353.9,104.2 354.0,104.2 354.2,104.2 354.4,103.0 354.6,105.0 354.7,104.6 354.9,101.7 355.1,103.5 355.2,104.8 355.4,103.5 355.5,104.9 355.7,103.9 355.9,106.4 356.0,103.8 356.2,103.1 356.3,104.1 356.5,103.3 356.6,103.7 356.8,103.4 357.0,103.0 357.1,105.2 357.3,104.1 357.4,104.4 357.6,102.5 357.7,105.6 357.8,102.3 358.0,104.0 358.1,104.3 358.3,102.6 358.4,105.9 358.6,103.7 358.7,103.8 358.8,104.6 359.0,105.2 359.1,105.0 359.3,103.6 359.4,104.6 359.5,104.4 359.7,105.4 359.8,105.7 359.9,104.6 360.1,104.8 360.2,105.5 360.3,104.6 360.5,104.8 360.6,105.8 360.7,104.8 360.9,104.9 361.0,104.0 361.1,104.2 361.2,104.7 361.4,105.6 361.5,103.3 361.6,104.4 361.7,105.1 361.9,105.5 362.0,104.9 362.1,104.1 362.2,105.4 362.3,104.9 362.5,105.2 362.6,104.1 362.7,105.0 362.8,104.6 362.9,104.4 363.1,103.6 363.2,103.6 363.3,103.2 363.4,106.2 363.5,104.3 363.6,106.9 363.7,103.0 363.9,104.7 364.0,106.2 364.1,103.7 364.2,103.7 364.3,105.3 364.4,105.5 364.5,105.0 364.6,104.2 364.7,104.9 364.8,107.1 365.0,106.2 365.1,105.1 365.2,104.2 365.3,104.7 365.4,106.7 365.5,106.2 365.6,103.5 365.7,104.3 365.8,105.7 365.9,106.9 366.0,103.6 366.1,105.2 366.2,106.5 366.3,106.3 366.4,103.7 366.5,104.5 366.6,105.7 366.7,104.7 366.8,105.8 366.9,105.2 367.0,106.5 367.1,103.6 367.2,104.9 367.3,106.6 367.4,104.1 367.4,108.2 367.3,109.3 367.2,107.8 367.1,108.7 367.0,108.9 366.9,107.8 366.8,108.2 366.7,108.3 366.6,107.7 366.5,109.0 366.4,108.7 366.3,109.6 366.2,107.9 366.1,107.9 366.0,109.1 365.9,108.1 365.8,108.9 365.7,110.2 365.6,109.9 365.5,108.6 365.4,107.4 365.3,109.8 365.2,108.9 365.1,108.0 365.0,108.6 364.8,107.8 364.7,108.1 364.6,109.3 364.5,109.7 364.4,107.1 364.3,109.2 364.2,110.0 364.1,107.4 364.0,108.9 363.9,108.7 363.7,108.5 363.6,109.2 363.5,109.0 363.4,108.2 363.3,108.8 363.2,109.2 363.1,109.7 362.9,108.4 362.8,108.7 362.7,109.4 362.6,108.8 362.5,109.8 362.3,109.6 362.2,108.9 362.1,109.7 362.0,108.5 361.9,108.8 361.7,108.6 361.6,108.7 361.5,108.7 361.4,108.2 361.2,108.7 361.1,109.3 361.0,108.3 360.9,109.0 360.7,109.0 360.6,108.0 360.5,109.1 360.3,108.0 360.2,108.6 360.1,107.6 359.9,109.1 359.8,111.0 359.7,106.9 359.5,109.0 359.4,108.9 359.3,109.5 359.1,108.5 359.0,107.7 358.8,109.3 358.7,108.5 358.6,109.8 358.4,108.0 358.3,107.8 358.1,108.0 358.0,108.9 357.8,108.2 357.7,109.2 357.6,108.8 357.4,109.5 357.3,108.5 357.1,107.7 357.0,109.5 356.8,108.8 356.6,109.6 356.5,109.5 356.3,108.6 356.2,109.6 356.0,109.6 355.9,108.9 355.7,108.6 355.5,107.3 355.4,110.1 355.2,108.4 355.1,109.9 354.9,108.3 354.7,109.1 354.6,108.9 354.4,109.3 354.2,109.0 354.0,109.6 353.9,109.9 353.7,109.9 353.5,108.9 353.3,108.0 353.2,108.8 353.0,109.3 352.8,108.2 352.6,108.9 352.4,109.2 352.3,108.2 352.1,108.9 351.9,109.6 351.7,109.1 351.5,108.8 351.3,110.5 351.1,110.5 350.9,109.9 350.7,108.8 350.5,109.1 350.3,108.6 350.1,109.7 349.9,109.2 349.7,109.6 349.5,109.3 349.3,109.3 349.1,110.1 348.8,109.3 348.6,107.2 348.4,108.9 348.2,109.4 348.0,110.6 347.7,109.4 347.5,109.8 347.3,108.9 347.0,109.8 346.8,108.8 346.6,108.6 346.3,108.4 346.1,108.9 345.8,110.2 345.6,108.7 345.3,109.5 345.1,109.7 344.8,108.2 344.6,108.8 344.3,108.9 344.0,109.2 343.8,109.8 343.5,110.1 343.2,109.5 343.0,108.8 342.7,110.6 342.4,110.8 342.1,110.3 341.8,110.9 341.5,110.8 341.2,109.0 340.9,110.9 340.6,111.1 340.3,109.8 340.0,110.3 339.7,110.4 339.3,111.5 339.0,110.0 338.7,110.1 338.3,109.1 338.0,110.8 337.6,110.7 337.3,108.9 336.9,110.7 336.5,109.8 336.2,109.9 335.8,110.1 335.4,112.0 335.0,110.3 334.6,111.4 334.2,109.9 333.8,110.1 333.4,112.1 332.9,111.2 332.5,110.4 332.1,112.7 331.6,110.6 331.1,111.5 330.7,110.8 330.2,112.8 329.7,111.7 329.2,111.4 328.7,111.0 328.2,111.1 327.6,111.9 327.1,111.7 326.5,111.4 325.9,109.9 325.3,112.8 324.7,112.6 324.1,112.1 323.4,112.2 322.8,111.2 322.1,112.7 321.4,112.6 320.6,112.7 319.9,112.2 319.1,113.0 318.3,113.9 316.7,115.5 313.6,118.6 310.5,117.0 308.9,134.3 273.5,134.3 272.7,121.7 269.6,120.5 266.4,121.7 265.6,134.3 257.0,134.3 Z" fill="#e4dbee"/>
<path d="M257.1,8.0 257.3,8.9 257.6,9.8 257.8,10.7 258.0,11.7 258.2,12.6 258.4,13.6 258.6,14.5 258.8,15.4 259.1,16.4 259.3,17.3 259.5,18.3 259.7,19.3 260.0,20.2 260.2,21.2 260.4,22.1 260.6,23.1 260.9,24.1 261.1,25.1 261.4,26.0 261.6,27.0 261.9,28.0 262.1,29.0 262.4,29.9 262.6,30.9 262.9,31.9 263.1,32.9 263.4,33.8 263.7,34.8 263.9,35.8 264.2,36.8 264.5,37.7 264.8,38.7 265.1,39.7 265.4,40.7 265.7,41.6 266.0,42.6 266.3,43.6 266.6,44.5 267.0,45.5 267.3,46.5 267.6,47.4 268.0,48.4 268.3,49.3 268.7,50.3 269.0,51.2 269.4,52.2 269.8,53.1 270.1,54.0 270.5,55.0 270.9,55.9 271.3,56.8 271.7,57.7 272.1,58.7 272.6,59.6 273.0,60.5 273.4,61.4 273.9,62.3 274.3,63.1 274.8,64.0 275.2,64.9 275.7,65.8 276.2,66.6 276.7,67.5 277.2,68.3 277.7,69.2 278.2,70.0 278.8,70.8 279.3,71.6 279.9,72.4 280.4,73.2 281.0,74.0 281.6,74.8 282.2,75.6 282.8,76.4 283.4,77.1 284.0,77.9 284.6,78.6 285.3,79.3 285.9,80.1 286.6,80.8 287.2,81.5 287.9,82.2 288.6,82.9 289.3,83.5 290.0,84.2 290.7,84.9 291.5,85.5 292.2,86.1 293.0,86.8 293.7,87.4 294.5,88.0 295.3,88.6 296.0,89.2 296.8,89.7 297.6,90.3 298.4,90.9 299.3,91.4 300.1,91.9 300.9,92.5 301.7,93.0 302.6,93.5 303.4,94.0 304.3,94.5 305.2,94.9 306.0,95.4 306.9,95.9 307.8,96.3 308.7,96.7 309.6,97.2 310.5,97.6 311.4,98.0 312.3,98.4 313.2,98.7 314.1,99.1 315.1,99.5 316.0,99.8 316.9,100.2 317.9,100.5 318.8,100.8 319.8,101.1 320.7,101.4 321.7,101.7 322.6,102.0 323.6,102.2 324.6,102.5 325.6,102.8 326.5,103.0 327.5,103.2 328.5,103.4 329.5,103.6 330.5,103.8 331.5,104.0 332.5,104.2 333.5,104.4 334.4,104.5 335.4,104.7 336.4,104.8 337.5,105.0 338.5,105.1 339.5,105.2 340.5,105.4 341.5,105.5 342.5,105.6 343.5,105.7 344.5,105.8 345.5,105.8 346.5,105.9 347.5,106.0 348.5,106.1 349.6,106.1 350.6,106.2 351.6,106.2 352.6,106.2 353.6,106.3 354.6,106.3 355.6,106.3 356.6,106.4 357.6,106.4 358.6,106.4 359.6,106.4 360.6,106.4 361.6,106.4 362.6,106.4 363.6,106.4 364.6,106.4 365.6,106.3 366.5,106.3 367.5,106.3 368.5,106.3 369.5,106.3 369.4,107.7 368.5,107.6 367.5,107.5 366.6,107.4 365.6,107.3 364.7,107.3 363.7,107.2 362.8,107.1 361.8,107.1 360.8,107.1 359.8,107.0 358.9,107.0 357.9,107.0 356.9,106.9 355.9,106.9 354.9,106.9 353.9,106.9 352.9,106.9 351.9,106.9 350.9,106.9 349.9,106.9 348.9,106.9 347.9,106.9 346.9,107.0 345.9,107.0 344.8,107.0 343.8,107.0 342.8,107.1 341.8,107.1 340.8,107.1 339.7,107.1 338.7,107.2 337.7,107.2 336.7,107.2 335.6,107.3 334.6,107.3 333.6,107.3 332.6,107.4 331.5,107.4 330.5,107.4 329.5,107.4 328.5,107.4 327.5,107.5 326.4,107.5 325.4,107.5 324.4,107.5 323.4,107.5 322.4,107.5 321.4,107.5 320.3,107.5 319.3,107.5 318.3,107.5 317.3,107.4 316.3,107.4 315.3,107.4 314.3,107.3 313.4,107.3 312.4,107.2 311.4,107.2 310.4,107.1 309.4,107.0 308.5,106.9 307.5,106.8 306.5,106.7 305.6,106.5 304.6,106.4 303.7,106.2 302.7,106.1 301.8,105.9 300.8,105.7 299.9,105.5 299.0,105.3 298.1,105.0 297.1,104.8 296.2,104.5 295.3,104.2 294.4,103.9 293.5,103.5 292.7,103.2 291.8,102.8 290.9,102.4 290.0,102.0 289.2,101.6 288.3,101.2 287.5,100.7 286.7,100.2 285.8,99.7 285.0,99.2 284.2,98.6 283.4,98.0 282.6,97.5 281.8,96.9 281.0,96.2 280.3,95.6 279.5,95.0 278.8,94.3 278.0,93.6 277.3,92.9 276.6,92.2 275.9,91.5 275.2,90.7 274.5,90.0 273.8,89.2 273.1,88.4 272.5,87.7 271.8,86.9 271.2,86.1 270.5,85.2 269.9,84.4 269.3,83.6 268.7,82.7 268.1,81.9 267.6,81.0 267.0,80.2 266.4,79.3 265.9,78.4 265.4,77.5 264.9,76.7 264.4,75.8 263.9,74.9 263.4,74.0 262.9,73.1 262.5,72.2 262.1,71.3 261.6,70.4 261.2,69.5 260.8,68.5 260.5,67.6 260.1,66.7 259.7,65.8 259.4,64.9 259.1,64.0 258.8,63.1 258.5,62.2 258.2,61.3 257.9,60.4 257.7,59.6 257.5,58.7 257.2,57.8 Z" fill="#d4aed6"/>
<path d="M257.1,32.6 257.3,33.5 257.6,34.4 257.8,35.4 258.1,36.3 258.3,37.2 258.5,38.1 258.8,39.1 259.1,40.0 259.3,41.0 259.6,41.9 259.8,42.9 260.1,43.8 260.4,44.8 260.7,45.7 260.9,46.7 261.2,47.7 261.5,48.6 261.8,49.6 262.1,50.5 262.4,51.5 262.7,52.5 263.1,53.5 263.4,54.4 263.7,55.4 264.1,56.3 264.4,57.3 264.7,58.3 265.1,59.2 265.5,60.2 265.8,61.1 266.2,62.1 266.6,63.0 267.0,64.0 267.4,64.9 267.8,65.9 268.2,66.8 268.6,67.7 269.0,68.6 269.5,69.6 269.9,70.5 270.4,71.4 270.8,72.3 271.3,73.1 271.8,74.0 272.3,74.9 272.7,75.8 273.3,76.6 273.8,77.5 274.3,78.3 274.8,79.1 275.4,80.0 275.9,80.8 276.5,81.6 277.0,82.4 277.6,83.1 278.2,83.9 278.8,84.7 279.4,85.4 280.1,86.1 280.7,86.8 281.3,87.5 282.0,88.2 282.7,88.9 283.4,89.6 284.0,90.2 284.8,90.9 285.5,91.5 286.2,92.1 286.9,92.7 287.7,93.2 288.5,93.8 289.2,94.3 290.0,94.9 290.8,95.4 291.6,95.9 292.4,96.4 293.3,96.8 294.1,97.3 295.0,97.8 295.8,98.2 296.7,98.6 297.6,99.0 298.4,99.4 299.3,99.8 300.2,100.2 301.1,100.5 302.1,100.9 303.0,101.2 303.9,101.5 304.8,101.8 305.8,102.1 306.7,102.4 307.7,102.7 308.7,103.0 309.6,103.2 310.6,103.5 311.6,103.7 312.6,103.9 313.6,104.2 314.6,104.4 315.6,104.6 316.6,104.8 317.6,104.9 318.6,105.1 319.6,105.3 320.6,105.5 321.6,105.6 322.6,105.7 323.7,105.9 324.7,106.0 325.7,106.1 326.8,106.2 327.8,106.4 328.8,106.5 329.9,106.5 330.9,106.6 331.9,106.7 333.0,106.8 334.0,106.9 335.0,106.9 336.1,107.0 337.1,107.0 338.1,107.1 339.2,107.1 340.2,107.2 341.2,107.2 342.3,107.3 343.3,107.3 344.3,107.3 345.3,107.3 346.3,107.4 347.4,107.4 348.4,107.4 349.4,107.4 350.4,107.4 351.4,107.4 352.4,107.4 353.4,107.4 354.4,107.4 355.3,107.4 356.3,107.4 357.3,107.4 358.3,107.4 359.2,107.4 360.2,107.4 361.1,107.4 362.1,107.4 363.0,107.4 363.9,107.4 364.8,107.4 365.7,107.4 366.6,107.4 367.5,107.4 368.4,107.4 369.3,107.4" fill="none" stroke="#b85ea8" stroke-width="2.8" stroke-linejoin="round"/>
<line x1="257.80" y1="107.70" x2="367.45" y2="107.70" stroke="#111" stroke-width="1" stroke-dasharray="2.2,1.8"/>
</g>
<path d="M310.60,124.60v-5M310.60,0.30v5M363.40,124.60v-5M363.40,0.30v5M273.69,124.60v-3M273.69,0.30v3M282.99,124.60v-3M282.99,0.30v3M289.59,124.60v-3M289.59,0.30v3M294.71,124.60v-3M294.71,0.30v3M298.89,124.60v-3M298.89,0.30v3M302.42,124.60v-3M302.42,0.30v3M305.48,124.60v-3M305.48,0.30v3M308.18,124.60v-3M308.18,0.30v3M326.49,124.60v-3M326.49,0.30v3M335.79,124.60v-3M335.79,0.30v3M342.39,124.60v-3M342.39,0.30v3M347.51,124.60v-3M347.51,0.30v3M351.69,124.60v-3M351.69,0.30v3M355.22,124.60v-3M355.22,0.30v3M358.28,124.60v-3M358.28,0.30v3M360.98,124.60v-3M360.98,0.30v3M257.80,107.70h5M367.45,107.70h-5M257.80,79.50h5M367.45,79.50h-5M257.80,51.30h5M367.45,51.30h-5M257.80,23.10h5M367.45,23.10h-5M257.80,121.80h3M367.45,121.80h-3M257.80,93.60h3M367.45,93.60h-3M257.80,65.40h3M367.45,65.40h-3M257.80,37.20h3M367.45,37.20h-3M257.80,9.00h3M367.45,9.00h-3" stroke="#1a1a1a" stroke-width="0.9" fill="none"/>
<rect x="257.80" y="0.30" width="109.65" height="124.30" fill="none" stroke="#1a1a1a" stroke-width="0.9"/>
<text x="316.40" y="23.10" font-family="'Liberation Serif', 'DejaVu Serif', serif" font-size="13" fill="#111">1746Å</text>
<g clip-path="url(#c03)">
<path d="M366.4,-29.7 382.6,-29.7 382.6,0.3 382.7,2.3 385.4,11.5 388.3,19.6 391.2,21.9 392.3,28.8 394.6,34.6 397.8,45.5 399.5,48.0 401.0,48.5 403.9,56.5 406.5,60.0 409.5,68.3 412.6,73.0 413.8,75.5 414.5,62.7 414.8,55.8 415.4,55.8 415.7,62.7 416.4,75.5 417.3,77.7 417.8,78.3 419.1,79.5 420.2,80.8 421.4,80.2 422.4,81.9 423.5,84.3 424.4,85.5 425.4,84.5 426.3,86.8 427.1,87.4 428.0,88.1 428.8,88.0 429.5,88.4 430.3,88.9 431.0,88.8 431.7,90.7 432.4,90.7 433.1,92.7 433.7,92.5 434.4,92.2 435.0,91.9 435.6,89.2 436.1,93.8 436.7,94.3 437.3,93.0 437.8,93.3 438.3,93.6 438.8,95.5 439.3,94.4 439.8,92.4 440.3,93.8 440.8,93.9 441.3,96.1 441.7,97.5 442.2,94.7 442.6,94.3 443.0,96.6 443.4,94.7 443.9,96.8 444.3,95.6 444.7,96.6 445.1,97.4 445.4,96.7 445.8,99.0 446.2,98.2 446.6,98.3 446.9,98.2 447.3,99.2 447.6,99.2 448.0,99.4 448.3,98.7 448.6,95.6 449.0,97.8 449.3,98.5 449.6,99.4 449.9,100.2 450.3,98.5 450.6,100.4 450.9,97.5 451.2,98.2 451.5,98.3 451.8,99.3 452.0,99.8 452.3,99.5 452.6,100.8 452.9,98.6 453.2,101.7 453.4,100.1 453.7,100.5 454.0,98.4 454.2,100.1 454.5,99.8 454.7,99.3 455.0,99.7 455.2,99.3 455.5,99.9 455.7,100.2 456.0,100.9 456.2,101.2 456.5,101.1 456.7,100.7 456.9,101.8 457.2,101.0 457.4,101.7 457.6,100.6 457.8,102.5 458.1,100.7 458.3,102.3 458.5,100.3 458.7,99.4 458.9,102.5 459.1,101.1 459.3,100.1 459.5,100.1 459.8,100.0 460.0,99.9 460.2,100.7 460.4,102.4 460.6,100.9 460.8,102.8 461.0,101.4 461.1,103.2 461.3,102.3 461.5,101.7 461.7,101.9 461.9,100.6 462.1,102.4 462.3,103.0 462.5,100.3 462.6,100.4 462.8,103.4 463.0,103.3 463.2,101.7 463.3,103.9 463.5,103.2 463.7,101.1 463.9,103.2 464.0,103.4 464.2,102.2 464.4,103.1 464.5,102.9 464.7,102.2 464.9,104.3 465.0,102.5 465.2,100.9 465.4,102.6 465.5,104.3 465.7,101.8 465.8,102.7 466.0,104.8 466.1,102.9 466.3,101.8 466.5,101.4 466.6,102.4 466.8,103.8 466.9,103.2 467.1,103.8 467.2,104.9 467.4,103.4 467.5,103.2 467.6,103.5 467.8,103.6 467.9,102.0 468.1,102.2 468.2,103.2 468.4,103.8 468.5,105.1 468.6,102.2 468.8,104.3 468.9,104.1 469.1,103.9 469.2,103.3 469.3,101.4 469.5,103.7 469.6,105.3 469.7,103.1 469.9,103.9 470.0,102.7 470.1,104.7 470.2,104.3 470.4,104.2 470.5,103.4 470.6,103.7 470.8,104.8 470.9,103.9 471.0,103.7 471.1,103.7 471.3,101.1 471.4,105.5 471.5,103.5 471.6,104.6 471.8,102.2 471.9,105.2 472.0,104.0 472.1,104.2 472.2,104.2 472.4,103.4 472.5,105.2 472.6,105.8 472.7,103.5 472.8,104.0 472.9,104.3 473.0,105.3 473.2,102.5 473.3,103.9 473.4,104.8 473.5,103.1 473.6,103.3 473.7,105.0 473.8,103.9 473.9,102.6 474.1,103.7 474.2,104.9 474.3,104.1 474.4,103.8 474.5,103.2 474.6,102.5 474.7,103.3 474.8,104.1 474.9,103.9 475.0,102.7 475.1,105.5 475.2,104.2 475.3,104.8 475.4,104.7 475.5,105.4 475.6,103.9 475.8,106.0 475.9,105.5 476.0,104.0 476.1,101.8 476.2,103.9 476.3,104.9 476.4,104.2 476.5,103.3 476.6,104.9 476.7,103.7 476.7,105.8 476.8,103.9 476.9,105.6 477.0,104.4 477.0,108.9 476.9,108.6 476.8,108.2 476.7,107.6 476.7,110.0 476.6,107.9 476.5,108.1 476.4,108.4 476.3,108.7 476.2,108.5 476.1,107.9 476.0,108.0 475.9,108.9 475.8,107.1 475.6,109.0 475.5,107.4 475.4,107.6 475.3,109.6 475.2,108.5 475.1,107.2 475.0,108.2 474.9,108.0 474.8,109.7 474.7,108.8 474.6,109.6 474.5,109.2 474.4,110.2 474.3,108.3 474.2,108.3 474.1,108.9 473.9,108.5 473.8,108.5 473.7,107.7 473.6,108.4 473.5,110.0 473.4,109.1 473.3,107.9 473.2,108.6 473.0,108.7 472.9,108.7 472.8,109.2 472.7,108.8 472.6,110.5 472.5,108.6 472.4,109.5 472.2,107.6 472.1,109.6 472.0,108.7 471.9,108.5 471.8,107.7 471.6,107.7 471.5,108.1 471.4,109.5 471.3,108.0 471.1,108.0 471.0,108.9 470.9,109.5 470.8,109.5 470.6,109.3 470.5,109.8 470.4,108.1 470.2,109.0 470.1,109.9 470.0,107.2 469.9,107.7 469.7,108.0 469.6,110.1 469.5,110.0 469.3,107.6 469.2,109.4 469.1,108.6 468.9,108.4 468.8,108.2 468.6,109.2 468.5,108.1 468.4,110.0 468.2,108.0 468.1,108.1 467.9,109.2 467.8,108.8 467.6,110.4 467.5,109.1 467.4,108.3 467.2,109.4 467.1,108.9 466.9,107.4 466.8,109.4 466.6,109.9 466.5,109.8 466.3,109.0 466.1,108.7 466.0,110.0 465.8,107.7 465.7,110.1 465.5,109.1 465.4,108.5 465.2,109.1 465.0,108.4 464.9,108.8 464.7,108.5 464.5,108.3 464.4,108.5 464.2,108.8 464.0,109.0 463.9,109.8 463.7,108.8 463.5,110.2 463.3,109.7 463.2,108.8 463.0,110.0 462.8,109.1 462.6,110.0 462.5,109.5 462.3,109.4 462.1,109.6 461.9,110.0 461.7,110.1 461.5,110.4 461.3,109.8 461.1,108.5 461.0,110.0 460.8,108.0 460.6,108.4 460.4,110.4 460.2,110.5 460.0,109.7 459.8,109.7 459.5,111.0 459.3,109.5 459.1,110.3 458.9,111.0 458.7,110.2 458.5,109.3 458.3,109.6 458.1,109.4 457.8,109.1 457.6,109.4 457.4,109.3 457.2,110.7 456.9,110.3 456.7,110.2 456.5,108.7 456.2,109.4 456.0,108.9 455.7,110.0 455.5,109.2 455.2,109.8 455.0,109.5 454.7,109.6 454.5,109.7 454.2,110.2 454.0,109.8 453.7,109.1 453.4,109.7 453.2,110.8 452.9,110.4 452.6,109.2 452.3,109.8 452.0,110.4 451.8,109.6 451.5,111.9 451.2,109.6 450.9,111.0 450.6,110.0 450.3,111.2 449.9,110.1 449.6,109.1 449.3,111.1 449.0,111.2 448.6,109.2 448.3,109.7 448.0,110.3 447.6,109.6 447.3,111.1 446.9,110.1 446.6,110.0 446.2,109.8 445.8,110.0 445.4,110.6 445.1,112.3 444.7,111.8 444.3,111.9 443.9,112.2 443.4,111.3 443.0,111.4 442.6,111.2 442.2,111.7 441.7,112.5 441.3,110.8 440.8,111.2 440.3,110.9 439.8,111.3 439.3,112.5 438.8,111.7 438.3,112.1 437.8,112.5 437.3,113.2 436.7,111.8 436.1,112.6 435.6,113.0 435.0,113.7 434.4,113.0 433.7,113.9 433.1,113.2 432.4,114.3 431.7,115.4 431.0,114.6 430.3,116.2 429.5,116.0 428.8,115.9 428.0,115.7 426.7,115.5 425.2,122.5 422.0,120.2 420.5,134.3 367.0,134.3 Z" fill="#e4dbee"/>
<path d="M366.7,-38.8 366.8,-37.9 367.0,-36.9 367.1,-35.9 367.2,-35.0 367.3,-34.0 367.5,-33.0 367.6,-32.1 367.7,-31.1 367.8,-30.1 368.0,-29.1 368.1,-28.2 368.2,-27.2 368.3,-26.2 368.5,-25.2 368.6,-24.2 368.7,-23.3 368.8,-22.3 368.9,-21.3 369.1,-20.3 369.2,-19.3 369.3,-18.3 369.4,-17.4 369.6,-16.4 369.7,-15.4 369.8,-14.4 369.9,-13.4 370.1,-12.4 370.2,-11.4 370.3,-10.4 370.4,-9.4 370.6,-8.5 370.7,-7.5 370.8,-6.5 371.0,-5.5 371.1,-4.5 371.2,-3.5 371.4,-2.5 371.5,-1.5 371.7,-0.5 371.8,0.5 372.0,1.4 372.1,2.4 372.3,3.4 372.4,4.4 372.6,5.4 372.8,6.4 372.9,7.4 373.1,8.4 373.3,9.4 373.4,10.4 373.6,11.4 373.8,12.3 374.0,13.3 374.1,14.3 374.3,15.3 374.5,16.3 374.7,17.3 374.9,18.3 375.1,19.2 375.3,20.2 375.5,21.2 375.7,22.2 376.0,23.2 376.2,24.2 376.4,25.1 376.6,26.1 376.9,27.1 377.1,28.1 377.3,29.0 377.6,30.0 377.9,31.0 378.1,32.0 378.4,32.9 378.6,33.9 378.9,34.9 379.2,35.9 379.5,36.8 379.8,37.8 380.0,38.7 380.3,39.7 380.7,40.7 381.0,41.6 381.3,42.6 381.6,43.5 381.9,44.5 382.3,45.5 382.6,46.4 382.9,47.4 383.3,48.3 383.7,49.3 384.0,50.2 384.4,51.1 384.8,52.1 385.2,53.0 385.5,53.9 385.9,54.9 386.3,55.8 386.8,56.7 387.2,57.6 387.6,58.5 388.0,59.5 388.5,60.4 388.9,61.3 389.4,62.1 389.8,63.0 390.3,63.9 390.8,64.8 391.3,65.7 391.8,66.5 392.3,67.4 392.8,68.2 393.3,69.1 393.8,69.9 394.4,70.8 394.9,71.6 395.5,72.4 396.0,73.2 396.6,74.0 397.2,74.8 397.8,75.6 398.4,76.4 399.0,77.1 399.6,77.9 400.2,78.6 400.9,79.4 401.5,80.1 402.1,80.8 402.8,81.5 403.5,82.2 404.2,82.9 404.9,83.6 405.6,84.3 406.3,84.9 407.0,85.6 407.7,86.2 408.5,86.8 409.2,87.4 410.0,88.0 410.7,88.6 411.5,89.2 412.3,89.8 413.1,90.3 413.9,90.9 414.7,91.4 415.5,91.9 416.4,92.5 417.2,93.0 418.1,93.5 418.9,93.9 419.8,94.4 420.6,94.9 421.5,95.3 422.4,95.8 423.3,96.2 424.2,96.6 425.1,97.1 426.0,97.5 426.9,97.9 427.8,98.2 428.7,98.6 429.7,99.0 430.6,99.3 431.5,99.7 432.5,100.0 433.4,100.3 434.4,100.7 435.3,101.0 436.3,101.3 437.3,101.6 438.2,101.8 439.2,102.1 440.2,102.4 441.2,102.6 442.1,102.9 443.1,103.1 444.1,103.3 445.1,103.5 446.1,103.8 447.1,104.0 448.1,104.2 449.1,104.3 450.1,104.5 451.1,104.7 452.1,104.8 453.1,105.0 454.1,105.1 455.1,105.3 456.2,105.4 457.2,105.5 458.2,105.6 459.2,105.7 460.2,105.8 461.2,105.9 462.2,106.0 463.2,106.0 464.2,106.1 465.3,106.1 466.3,106.2 467.3,106.2 468.3,106.3 469.3,106.3 470.3,106.3 471.3,106.3 472.3,106.3 473.3,106.3 474.3,106.3 475.3,106.3 476.3,106.2 477.2,106.2 478.2,106.1 479.2,106.1 479.1,107.7 478.1,107.6 477.1,107.5 476.1,107.4 475.2,107.4 474.2,107.3 473.2,107.2 472.2,107.2 471.2,107.1 470.2,107.1 469.3,107.0 468.3,107.0 467.3,106.9 466.3,106.9 465.3,106.9 464.3,106.9 463.3,106.9 462.3,106.9 461.3,106.8 460.3,106.8 459.3,106.8 458.3,106.8 457.3,106.8 456.3,106.8 455.3,106.9 454.3,106.9 453.3,106.9 452.3,106.9 451.3,106.9 450.3,106.9 449.3,106.9 448.3,106.9 447.3,106.9 446.3,106.9 445.3,107.0 444.3,107.0 443.3,107.0 442.3,107.0 441.3,107.0 440.3,107.0 439.3,107.0 438.2,107.0 437.2,107.0 436.2,107.0 435.2,106.9 434.2,106.9 433.2,106.9 432.2,106.9 431.2,106.8 430.2,106.8 429.1,106.8 428.1,106.7 427.1,106.7 426.1,106.6 425.1,106.5 424.1,106.5 423.0,106.4 422.0,106.3 421.0,106.2 420.0,106.1 419.0,106.0 418.0,105.9 417.0,105.7 416.0,105.6 415.0,105.4 414.0,105.3 413.0,105.1 412.0,104.9 411.0,104.7 410.0,104.5 409.1,104.2 408.1,104.0 407.2,103.7 406.2,103.4 405.3,103.1 404.4,102.7 403.5,102.4 402.6,102.0 401.7,101.6 400.9,101.2 400.0,100.7 399.2,100.2 398.4,99.7 397.6,99.2 396.8,98.7 396.0,98.1 395.3,97.6 394.5,97.0 393.8,96.3 393.1,95.7 392.4,95.0 391.7,94.3 391.1,93.6 390.4,92.9 389.8,92.2 389.2,91.4 388.6,90.6 388.0,89.8 387.4,89.0 386.9,88.2 386.3,87.4 385.8,86.6 385.2,85.7 384.7,84.8 384.2,84.0 383.7,83.1 383.2,82.2 382.8,81.3 382.3,80.4 381.8,79.5 381.4,78.6 380.9,77.7 380.5,76.8 380.0,75.8 379.6,74.9 379.2,74.0 378.7,73.1 378.3,72.1 377.9,71.2 377.5,70.3 377.1,69.3 376.7,68.4 376.3,67.5 376.0,66.5 375.6,65.6 375.2,64.6 374.9,63.7 374.5,62.7 374.2,61.8 373.8,60.8 373.5,59.9 373.2,58.9 372.8,58.0 372.5,57.0 372.2,56.1 371.9,55.1 371.6,54.2 371.3,53.2 371.0,52.3 370.7,51.3 370.5,50.4 370.2,49.4 369.9,48.5 369.7,47.5 369.4,46.6 369.2,45.7 368.9,44.7 368.7,43.8 368.4,42.8 368.2,41.9 368.0,41.0 367.8,40.0 367.6,39.1 367.4,38.2 Z" fill="#d4aed6"/>
<path d="M367.8,8.1 368.0,9.1 368.1,10.0 368.2,10.9 368.4,11.9 368.5,12.8 368.7,13.8 368.8,14.7 369.0,15.7 369.1,16.6 369.3,17.6 369.5,18.6 369.6,19.5 369.8,20.5 370.0,21.4 370.1,22.4 370.3,23.4 370.5,24.3 370.7,25.3 370.9,26.3 371.1,27.3 371.3,28.2 371.5,29.2 371.7,30.2 371.9,31.2 372.1,32.1 372.3,33.1 372.5,34.1 372.8,35.1 373.0,36.0 373.2,37.0 373.5,38.0 373.7,39.0 374.0,39.9 374.2,40.9 374.5,41.9 374.8,42.9 375.0,43.8 375.3,44.8 375.6,45.8 375.9,46.8 376.2,47.7 376.5,48.7 376.8,49.7 377.1,50.7 377.5,51.6 377.8,52.6 378.1,53.6 378.5,54.5 378.8,55.5 379.2,56.4 379.5,57.4 379.9,58.4 380.3,59.3 380.6,60.3 381.0,61.2 381.4,62.2 381.8,63.1 382.2,64.0 382.7,65.0 383.1,65.9 383.5,66.8 384.0,67.7 384.4,68.6 384.9,69.6 385.3,70.5 385.8,71.4 386.3,72.2 386.8,73.1 387.3,74.0 387.8,74.9 388.3,75.7 388.8,76.6 389.4,77.4 389.9,78.3 390.4,79.1 391.0,79.9 391.6,80.7 392.2,81.5 392.7,82.3 393.3,83.1 393.9,83.8 394.6,84.6 395.2,85.3 395.8,86.1 396.5,86.8 397.1,87.5 397.8,88.2 398.5,88.9 399.1,89.5 399.8,90.2 400.5,90.8 401.3,91.5 402.0,92.1 402.7,92.7 403.5,93.2 404.2,93.8 405.0,94.4 405.8,94.9 406.6,95.4 407.4,95.9 408.2,96.4 409.0,96.9 409.8,97.4 410.7,97.8 411.5,98.3 412.4,98.7 413.2,99.1 414.1,99.5 415.0,99.9 415.9,100.2 416.8,100.6 417.7,100.9 418.6,101.3 419.5,101.6 420.4,101.9 421.4,102.2 422.3,102.5 423.3,102.8 424.2,103.0 425.2,103.3 426.1,103.5 427.1,103.8 428.1,104.0 429.0,104.2 430.0,104.4 431.0,104.6 432.0,104.8 433.0,105.0 434.0,105.1 435.0,105.3 436.0,105.5 437.0,105.6 438.0,105.7 439.0,105.9 440.0,106.0 441.1,106.1 442.1,106.2 443.1,106.3 444.1,106.4 445.1,106.5 446.2,106.6 447.2,106.7 448.2,106.7 449.2,106.8 450.3,106.9 451.3,106.9 452.3,107.0 453.3,107.0 454.4,107.1 455.4,107.1 456.4,107.1 457.4,107.2 458.4,107.2 459.5,107.2 460.5,107.2 461.5,107.3 462.5,107.3 463.5,107.3 464.5,107.3 465.5,107.3 466.5,107.3 467.5,107.3 468.5,107.3 469.5,107.3 470.5,107.3 471.4,107.3 472.4,107.3 473.4,107.3 474.3,107.3 475.3,107.3 476.2,107.3 477.2,107.3 478.1,107.3 479.1,107.3" fill="none" stroke="#b85ea8" stroke-width="2.8" stroke-linejoin="round"/>
<line x1="367.45" y1="107.70" x2="477.10" y2="107.70" stroke="#111" stroke-width="1" stroke-dasharray="2.2,1.8"/>
</g>
<path d="M420.25,124.60v-5M420.25,0.30v5M473.05,124.60v-5M473.05,0.30v5M383.34,124.60v-3M383.34,0.30v3M392.64,124.60v-3M392.64,0.30v3M399.24,124.60v-3M399.24,0.30v3M404.36,124.60v-3M404.36,0.30v3M408.54,124.60v-3M408.54,0.30v3M412.07,124.60v-3M412.07,0.30v3M415.13,124.60v-3M415.13,0.30v3M417.83,124.60v-3M417.83,0.30v3M436.14,124.60v-3M436.14,0.30v3M445.44,124.60v-3M445.44,0.30v3M452.04,124.60v-3M452.04,0.30v3M457.16,124.60v-3M457.16,0.30v3M461.34,124.60v-3M461.34,0.30v3M464.87,124.60v-3M464.87,0.30v3M467.93,124.60v-3M467.93,0.30v3M470.63,124.60v-3M470.63,0.30v3M367.45,107.70h5M477.10,107.70h-5M367.45,79.50h5M477.10,79.50h-5M367.45,51.30h5M477.10,51.30h-5M367.45,23.10h5M477.10,23.10h-5M367.45,121.80h3M477.10,121.80h-3M367.45,93.60h3M477.10,93.60h-3M367.45,65.40h3M477.10,65.40h-3M367.45,37.20h3M477.10,37.20h-3M367.45,9.00h3M477.10,9.00h-3" stroke="#1a1a1a" stroke-width="0.9" fill="none"/>
<rect x="367.45" y="0.30" width="109.65" height="124.30" fill="none" stroke="#1a1a1a" stroke-width="0.9"/>
<text x="426.05" y="23.10" font-family="'Liberation Serif', 'DejaVu Serif', serif" font-size="13" fill="#111">UVW2</text>
<g clip-path="url(#c04)">
<path d="M476.1,-29.7 498.2,-29.7 498.3,0.3 498.4,3.5 500.0,5.8 501.8,11.5 504.6,23.0 508.1,32.3 510.4,35.7 512.1,46.1 512.7,45.5 516.3,53.5 518.7,59.7 521.0,61.3 522.6,62.0 523.5,66.4 524.2,53.4 524.5,46.4 525.1,46.4 525.4,53.4 526.1,66.4 527.5,71.7 528.7,73.3 529.9,74.5 531.0,77.0 532.1,78.4 533.1,77.6 534.1,79.2 535.0,79.3 535.9,79.9 536.8,83.8 537.6,82.4 538.4,84.1 539.2,84.5 539.9,84.9 540.7,84.3 541.4,84.8 542.1,86.8 542.7,87.9 543.4,85.4 544.0,86.7 544.6,87.9 545.2,89.6 545.8,89.5 546.4,90.1 546.9,90.0 547.5,89.1 548.0,90.3 548.5,91.9 549.0,91.1 549.5,89.9 550.0,92.8 550.4,92.1 550.9,92.6 551.4,94.1 551.8,91.8 552.2,91.9 552.7,90.3 553.1,93.1 553.5,93.8 553.9,93.4 554.3,93.6 554.7,94.7 555.1,94.4 555.5,94.6 555.8,94.3 556.2,94.4 556.6,95.7 556.9,94.7 557.3,94.5 557.6,94.5 558.0,95.0 558.3,95.5 558.6,95.9 559.0,95.7 559.3,95.4 559.6,94.2 559.9,96.6 560.2,95.1 560.5,96.0 560.8,97.5 561.1,96.7 561.4,95.7 561.7,97.4 562.0,96.5 562.3,96.4 562.5,98.2 562.8,97.8 563.1,100.4 563.3,96.2 563.6,97.4 563.9,97.9 564.1,98.9 564.4,97.4 564.6,99.3 564.9,98.0 565.1,97.2 565.4,97.8 565.6,98.0 565.9,98.0 566.1,97.6 566.3,98.1 566.6,99.3 566.8,99.3 567.0,100.4 567.3,97.7 567.5,97.6 567.7,100.8 567.9,99.1 568.1,99.2 568.4,98.0 568.6,99.3 568.8,99.1 569.0,99.1 569.2,100.3 569.4,98.4 569.6,99.4 569.8,97.6 570.0,99.8 570.2,98.3 570.4,101.3 570.6,98.2 570.8,101.2 571.0,98.8 571.2,98.1 571.4,100.0 571.6,100.0 571.7,98.9 571.9,98.6 572.1,97.6 572.3,99.7 572.5,100.4 572.6,98.1 572.8,100.3 573.0,101.8 573.2,98.5 573.3,100.9 573.5,100.9 573.7,99.8 573.9,100.8 574.0,99.4 574.2,101.0 574.4,102.3 574.5,100.3 574.7,100.1 574.8,98.8 575.0,102.7 575.2,102.8 575.3,100.4 575.5,101.1 575.6,100.9 575.8,102.4 575.9,99.5 576.1,101.8 576.3,99.0 576.4,101.9 576.6,100.6 576.7,102.7 576.9,101.9 577.0,100.8 577.1,100.7 577.3,100.3 577.4,103.2 577.6,102.7 577.7,101.0 577.9,100.4 578.0,102.2 578.1,101.8 578.3,101.3 578.4,102.0 578.6,102.6 578.7,101.9 578.8,102.6 579.0,102.0 579.1,102.3 579.2,101.6 579.4,102.9 579.5,102.3 579.6,101.9 579.8,102.4 579.9,102.0 580.0,102.1 580.2,102.8 580.3,103.2 580.4,100.7 580.5,102.2 580.7,102.5 580.8,101.3 580.9,102.9 581.0,102.2 581.2,101.9 581.3,100.7 581.4,101.1 581.5,102.7 581.6,104.4 581.8,102.2 581.9,100.5 582.0,103.9 582.1,102.9 582.2,103.9 582.4,102.1 582.5,103.6 582.6,103.1 582.7,101.5 582.8,102.5 582.9,103.0 583.0,102.0 583.2,104.1 583.3,102.5 583.4,103.8 583.5,102.7 583.6,103.6 583.7,103.6 583.8,101.1 583.9,102.8 584.0,103.8 584.1,102.7 584.3,104.6 584.4,104.4 584.5,102.4 584.6,103.4 584.7,103.8 584.8,102.6 584.9,104.9 585.0,104.1 585.1,103.4 585.2,102.5 585.3,102.5 585.4,102.6 585.5,104.2 585.6,102.5 585.7,104.3 585.8,105.8 585.9,102.1 586.0,102.8 586.1,104.6 586.2,103.8 586.3,102.7 586.4,103.5 586.5,103.5 586.6,104.3 586.7,102.7 586.7,109.3 586.6,108.0 586.5,108.9 586.4,108.3 586.3,108.9 586.2,108.5 586.1,109.5 586.0,109.7 585.9,108.8 585.8,109.4 585.7,107.9 585.6,108.5 585.5,108.6 585.4,109.0 585.3,107.6 585.2,108.5 585.1,109.8 585.0,110.4 584.9,108.1 584.8,108.8 584.7,108.2 584.6,107.5 584.5,109.3 584.4,109.6 584.3,108.4 584.1,108.1 584.0,109.0 583.9,109.3 583.8,110.8 583.7,107.8 583.6,109.7 583.5,109.4 583.4,108.7 583.3,108.7 583.2,109.1 583.0,109.6 582.9,108.9 582.8,108.0 582.7,109.6 582.6,108.8 582.5,108.9 582.4,108.9 582.2,109.2 582.1,109.8 582.0,109.5 581.9,107.8 581.8,108.5 581.6,110.1 581.5,109.7 581.4,110.1 581.3,108.7 581.2,109.9 581.0,108.6 580.9,109.8 580.8,111.1 580.7,110.0 580.5,109.6 580.4,110.5 580.3,108.4 580.2,108.3 580.0,109.2 579.9,109.0 579.8,108.6 579.6,109.4 579.5,110.7 579.4,108.9 579.2,110.0 579.1,109.4 579.0,109.7 578.8,109.7 578.7,108.4 578.6,109.2 578.4,108.8 578.3,110.2 578.1,108.8 578.0,110.1 577.9,109.2 577.7,108.0 577.6,109.2 577.4,108.6 577.3,109.1 577.1,108.2 577.0,110.3 576.9,109.3 576.7,109.3 576.6,109.6 576.4,111.2 576.3,109.5 576.1,109.9 575.9,109.5 575.8,109.0 575.6,110.0 575.5,108.8 575.3,110.1 575.2,110.7 575.0,110.8 574.8,109.9 574.7,109.6 574.5,109.3 574.4,109.5 574.2,109.1 574.0,109.8 573.9,111.7 573.7,109.7 573.5,110.2 573.3,109.5 573.2,109.4 573.0,108.8 572.8,110.5 572.6,110.2 572.5,109.5 572.3,109.3 572.1,110.1 571.9,109.9 571.7,110.5 571.6,110.3 571.4,110.1 571.2,109.6 571.0,108.6 570.8,109.8 570.6,110.7 570.4,110.9 570.2,110.0 570.0,109.8 569.8,108.1 569.6,109.6 569.4,110.0 569.2,108.7 569.0,108.8 568.8,110.3 568.6,108.3 568.4,110.9 568.1,110.3 567.9,110.1 567.7,110.5 567.5,109.4 567.3,109.9 567.0,110.6 566.8,109.4 566.6,110.9 566.3,110.8 566.1,111.4 565.9,110.4 565.6,112.1 565.4,110.1 565.1,110.5 564.9,111.7 564.6,110.5 564.4,110.1 564.1,109.7 563.9,110.2 563.6,111.3 563.3,110.1 563.1,110.7 562.8,110.7 562.5,111.2 562.3,111.6 562.0,110.7 561.7,110.3 561.4,111.0 561.1,110.6 560.8,110.2 560.5,112.7 560.2,111.8 559.9,111.0 559.6,111.5 559.3,112.2 559.0,112.3 558.6,111.9 558.3,111.6 558.0,112.3 557.6,110.2 557.3,113.1 556.9,113.1 556.6,110.5 556.2,111.0 555.8,111.5 555.5,111.1 555.1,112.8 554.7,113.3 554.3,111.8 553.9,112.7 553.5,113.5 553.1,113.5 552.7,112.0 552.2,112.5 551.8,113.4 551.4,112.7 550.9,112.5 550.4,113.4 550.0,113.5 549.5,113.6 549.0,115.1 548.5,114.8 548.0,115.0 547.5,116.9 546.9,117.9 546.4,119.0 545.8,118.5 545.2,119.2 544.6,118.1 544.0,117.5 543.4,117.3 542.7,117.0 542.1,118.8 541.4,117.9 540.7,118.7 539.9,120.0 539.2,126.5 538.4,133.4 537.6,134.3 477.0,134.3 Z" fill="#e4dbee"/>
<path d="M476.1,-44.9 476.3,-44.0 476.6,-43.1 476.9,-42.1 477.1,-41.2 477.4,-40.3 477.6,-39.3 477.9,-38.4 478.1,-37.4 478.3,-36.5 478.6,-35.6 478.8,-34.6 479.0,-33.7 479.2,-32.7 479.4,-31.8 479.7,-30.8 479.9,-29.8 480.1,-28.9 480.3,-27.9 480.5,-27.0 480.7,-26.0 480.9,-25.0 481.1,-24.1 481.3,-23.1 481.5,-22.1 481.7,-21.1 481.9,-20.2 482.0,-19.2 482.2,-18.2 482.4,-17.2 482.6,-16.3 482.8,-15.3 482.9,-14.3 483.1,-13.3 483.3,-12.3 483.5,-11.4 483.7,-10.4 483.8,-9.4 484.0,-8.4 484.2,-7.4 484.4,-6.4 484.5,-5.4 484.7,-4.4 484.9,-3.5 485.0,-2.5 485.2,-1.5 485.4,-0.5 485.6,0.5 485.7,1.5 485.9,2.5 486.1,3.5 486.3,4.5 486.5,5.5 486.6,6.5 486.8,7.5 487.0,8.4 487.2,9.4 487.4,10.4 487.6,11.4 487.8,12.4 488.0,13.4 488.1,14.4 488.3,15.4 488.5,16.4 488.7,17.4 488.9,18.4 489.2,19.4 489.4,20.3 489.6,21.3 489.8,22.3 490.0,23.3 490.2,24.3 490.5,25.3 490.7,26.3 490.9,27.2 491.2,28.2 491.4,29.2 491.6,30.2 491.9,31.2 492.1,32.1 492.4,33.1 492.7,34.1 492.9,35.1 493.2,36.0 493.5,37.0 493.7,38.0 494.0,38.9 494.3,39.9 494.6,40.9 494.9,41.8 495.2,42.8 495.5,43.7 495.8,44.7 496.2,45.6 496.5,46.6 496.8,47.6 497.2,48.5 497.5,49.4 497.9,50.4 498.2,51.3 498.6,52.3 499.0,53.2 499.3,54.1 499.7,55.1 500.1,56.0 500.5,56.9 500.9,57.8 501.3,58.7 501.8,59.6 502.2,60.5 502.6,61.4 503.1,62.3 503.5,63.2 504.0,64.1 504.4,64.9 504.9,65.8 505.4,66.7 505.9,67.5 506.4,68.4 506.9,69.2 507.4,70.0 508.0,70.9 508.5,71.7 509.1,72.5 509.6,73.3 510.2,74.1 510.7,74.9 511.3,75.6 511.9,76.4 512.5,77.2 513.1,77.9 513.8,78.6 514.4,79.4 515.0,80.1 515.7,80.8 516.4,81.5 517.0,82.2 517.7,82.9 518.4,83.5 519.1,84.2 519.9,84.8 520.6,85.5 521.3,86.1 522.1,86.7 522.8,87.3 523.6,87.9 524.4,88.5 525.1,89.1 525.9,89.6 526.7,90.2 527.6,90.7 528.4,91.3 529.2,91.8 530.0,92.3 530.9,92.8 531.7,93.3 532.6,93.8 533.4,94.3 534.3,94.7 535.2,95.2 536.1,95.6 537.0,96.0 537.9,96.5 538.8,96.9 539.7,97.3 540.6,97.7 541.5,98.1 542.5,98.4 543.4,98.8 544.3,99.2 545.3,99.5 546.2,99.8 547.2,100.2 548.1,100.5 549.1,100.8 550.0,101.1 551.0,101.4 552.0,101.7 553.0,101.9 553.9,102.2 554.9,102.4 555.9,102.7 556.9,102.9 557.9,103.1 558.9,103.4 559.9,103.6 560.9,103.8 561.9,104.0 562.9,104.1 563.9,104.3 564.9,104.5 565.9,104.6 566.9,104.8 567.9,104.9 568.9,105.0 569.9,105.1 570.9,105.3 571.9,105.4 572.9,105.4 573.9,105.5 574.9,105.6 575.9,105.7 576.9,105.7 577.9,105.8 578.9,105.8 579.9,105.9 580.9,105.9 581.9,105.9 582.9,105.9 583.9,105.9 584.9,105.9 585.9,105.9 586.9,105.8 587.9,105.8 588.8,105.8 588.7,107.7 587.7,107.6 586.8,107.4 585.8,107.3 584.9,107.2 583.9,107.1 582.9,107.0 582.0,106.9 581.0,106.8 580.0,106.7 579.1,106.7 578.1,106.6 577.1,106.6 576.1,106.5 575.1,106.5 574.1,106.5 573.1,106.5 572.1,106.5 571.2,106.5 570.2,106.5 569.2,106.5 568.2,106.6 567.2,106.6 566.2,106.6 565.2,106.6 564.2,106.7 563.1,106.7 562.1,106.8 561.1,106.8 560.1,106.8 559.1,106.9 558.1,106.9 557.1,107.0 556.1,107.0 555.1,107.1 554.1,107.1 553.1,107.1 552.0,107.2 551.0,107.2 550.0,107.2 549.0,107.3 548.0,107.3 547.0,107.3 546.0,107.3 545.0,107.3 544.0,107.3 542.9,107.3 541.9,107.3 540.9,107.3 539.9,107.3 538.9,107.2 537.9,107.2 536.9,107.1 535.9,107.1 534.9,107.0 533.9,106.9 532.9,106.8 531.9,106.7 530.9,106.6 529.9,106.5 528.9,106.4 528.0,106.2 527.0,106.0 526.0,105.9 525.0,105.7 524.1,105.5 523.1,105.2 522.1,105.0 521.2,104.7 520.3,104.5 519.3,104.2 518.4,103.9 517.5,103.5 516.6,103.2 515.7,102.8 514.8,102.5 513.9,102.1 513.1,101.6 512.2,101.2 511.4,100.7 510.6,100.2 509.8,99.7 509.0,99.2 508.2,98.7 507.4,98.1 506.7,97.5 505.9,96.9 505.2,96.2 504.5,95.6 503.8,94.9 503.2,94.2 502.5,93.5 501.8,92.8 501.2,92.0 500.6,91.3 500.0,90.5 499.4,89.7 498.8,88.9 498.2,88.1 497.7,87.3 497.1,86.4 496.6,85.6 496.1,84.7 495.6,83.9 495.1,83.0 494.6,82.1 494.1,81.2 493.7,80.3 493.2,79.4 492.7,78.5 492.3,77.6 491.9,76.7 491.4,75.8 491.0,74.8 490.6,73.9 490.2,73.0 489.8,72.0 489.4,71.1 489.0,70.2 488.6,69.3 488.2,68.3 487.9,67.4 487.5,66.5 487.1,65.6 486.7,64.6 486.4,63.7 486.0,62.8 485.7,61.8 485.3,60.9 485.0,60.0 484.6,59.1 484.3,58.1 483.9,57.2 483.6,56.3 483.3,55.3 483.0,54.4 482.6,53.5 482.3,52.6 482.0,51.6 481.7,50.7 481.4,49.7 481.1,48.8 480.8,47.9 480.5,46.9 480.3,46.0 480.0,45.0 479.7,44.1 479.5,43.1 479.2,42.2 478.9,41.2 478.7,40.3 478.4,39.3 478.2,38.3 478.0,37.4 477.7,36.4 477.5,35.4 477.3,34.5 477.1,33.5 476.9,32.5 476.7,31.5 476.5,30.5 476.3,29.5 476.1,28.5 Z" fill="#d4aed6"/>
<path d="M476.0,-13.0 476.3,-12.0 476.5,-11.0 476.7,-10.0 476.9,-9.0 477.2,-8.0 477.4,-7.0 477.6,-6.0 477.8,-5.1 478.0,-4.1 478.2,-3.1 478.4,-2.1 478.6,-1.1 478.8,-0.1 479.0,0.8 479.2,1.8 479.4,2.8 479.6,3.8 479.8,4.7 479.9,5.7 480.1,6.7 480.3,7.6 480.5,8.6 480.7,9.6 480.9,10.5 481.1,11.5 481.2,12.4 481.4,13.4 481.6,14.4 481.8,15.3 482.0,16.3 482.2,17.2 482.3,18.2 482.5,19.2 482.7,20.1 482.9,21.1 483.1,22.0 483.3,23.0 483.5,23.9 483.7,24.9 483.9,25.9 484.1,26.8 484.3,27.8 484.5,28.7 484.7,29.7 484.9,30.7 485.1,31.6 485.3,32.6 485.5,33.5 485.8,34.5 486.0,35.5 486.2,36.4 486.4,37.4 486.7,38.4 486.9,39.3 487.2,40.3 487.4,41.3 487.7,42.3 487.9,43.2 488.2,44.2 488.5,45.2 488.7,46.2 489.0,47.1 489.3,48.1 489.6,49.1 489.9,50.1 490.2,51.1 490.5,52.1 490.8,53.0 491.1,54.0 491.4,55.0 491.8,56.0 492.1,57.0 492.4,57.9 492.8,58.9 493.2,59.9 493.5,60.9 493.9,61.8 494.3,62.8 494.7,63.7 495.1,64.7 495.5,65.6 495.9,66.6 496.3,67.5 496.7,68.4 497.2,69.3 497.6,70.2 498.1,71.2 498.6,72.1 499.0,72.9 499.5,73.8 500.0,74.7 500.5,75.6 501.0,76.4 501.6,77.3 502.1,78.1 502.6,78.9 503.2,79.7 503.8,80.5 504.3,81.3 504.9,82.1 505.5,82.9 506.1,83.6 506.7,84.4 507.4,85.1 508.0,85.8 508.7,86.5 509.4,87.2 510.0,87.9 510.7,88.6 511.4,89.2 512.1,89.8 512.9,90.4 513.6,91.0 514.4,91.6 515.1,92.2 515.9,92.8 516.7,93.3 517.5,93.9 518.3,94.4 519.1,94.9 519.9,95.4 520.7,95.9 521.5,96.4 522.4,96.8 523.2,97.3 524.1,97.7 525.0,98.1 525.9,98.5 526.7,99.0 527.6,99.3 528.5,99.7 529.4,100.1 530.4,100.4 531.3,100.8 532.2,101.1 533.1,101.5 534.1,101.8 535.0,102.1 536.0,102.4 536.9,102.7 537.9,102.9 538.8,103.2 539.8,103.5 540.8,103.7 541.8,103.9 542.8,104.2 543.7,104.4 544.7,104.6 545.7,104.8 546.7,105.0 547.7,105.2 548.7,105.4 549.7,105.5 550.7,105.7 551.7,105.8 552.8,106.0 553.8,106.1 554.8,106.2 555.8,106.4 556.8,106.5 557.8,106.6 558.9,106.7 559.9,106.8 560.9,106.9 561.9,107.0 562.9,107.0 564.0,107.1 565.0,107.2 566.0,107.2 567.0,107.3 568.0,107.3 569.0,107.4 570.1,107.4 571.1,107.4 572.1,107.4 573.1,107.5 574.1,107.5 575.1,107.5 576.1,107.5 577.1,107.5 578.1,107.5 579.1,107.5 580.0,107.5 581.0,107.4 582.0,107.4 583.0,107.4 583.9,107.4 584.9,107.3 585.9,107.3 586.8,107.3 587.8,107.2 588.7,107.2" fill="none" stroke="#b85ea8" stroke-width="2.8" stroke-linejoin="round"/>
<line x1="477.10" y1="107.70" x2="586.75" y2="107.70" stroke="#111" stroke-width="1" stroke-dasharray="2.2,1.8"/>
</g>
<path d="M529.90,124.60v-5M529.90,0.30v5M582.70,124.60v-5M582.70,0.30v5M492.99,124.60v-3M492.99,0.30v3M502.29,124.60v-3M502.29,0.30v3M508.89,124.60v-3M508.89,0.30v3M514.01,124.60v-3M514.01,0.30v3M518.19,124.60v-3M518.19,0.30v3M521.72,124.60v-3M521.72,0.30v3M524.78,124.60v-3M524.78,0.30v3M527.48,124.60v-3M527.48,0.30v3M545.79,124.60v-3M545.79,0.30v3M555.09,124.60v-3M555.09,0.30v3M561.69,124.60v-3M561.69,0.30v3M566.81,124.60v-3M566.81,0.30v3M570.99,124.60v-3M570.99,0.30v3M574.52,124.60v-3M574.52,0.30v3M577.58,124.60v-3M577.58,0.30v3M580.28,124.60v-3M580.28,0.30v3M477.10,107.70h5M586.75,107.70h-5M477.10,79.50h5M586.75,79.50h-5M477.10,51.30h5M586.75,51.30h-5M477.10,23.10h5M586.75,23.10h-5M477.10,121.80h3M586.75,121.80h-3M477.10,93.60h3M586.75,93.60h-3M477.10,65.40h3M586.75,65.40h-3M477.10,37.20h3M586.75,37.20h-3M477.10,9.00h3M586.75,9.00h-3" stroke="#1a1a1a" stroke-width="0.9" fill="none"/>
<rect x="477.10" y="0.30" width="109.65" height="124.30" fill="none" stroke="#1a1a1a" stroke-width="0.9"/>
<text x="535.70" y="23.10" font-family="'Liberation Serif', 'DejaVu Serif', serif" font-size="13" fill="#111">UVM2</text>
<g clip-path="url(#c05)">
<path d="M585.8,-29.7 613.1,-29.7 613.1,0.3 613.1,9.2 614.2,11.5 616.5,23.0 618.8,26.5 621.1,30.0 621.7,34.6 624.0,46.1 627.1,51.9 628.7,53.5 631.0,62.1 631.8,62.0 633.1,64.2 633.8,47.0 634.1,37.7 634.7,37.7 635.0,47.0 635.7,64.2 637.1,66.6 638.4,67.6 639.5,70.0 640.7,71.6 641.7,72.4 642.8,74.1 643.7,75.0 644.7,74.4 645.6,76.5 646.4,78.9 647.3,79.4 648.1,78.9 648.8,82.1 649.6,81.3 650.3,81.9 651.0,82.3 651.7,83.3 652.4,87.2 653.0,85.4 653.7,87.5 654.3,86.0 654.9,86.7 655.4,85.9 656.0,88.4 656.6,89.2 657.1,88.8 657.6,89.3 658.1,89.2 658.6,89.6 659.1,90.4 659.6,90.9 660.1,89.0 660.6,89.8 661.0,90.3 661.5,89.0 661.9,92.7 662.3,92.6 662.7,91.9 663.2,91.7 663.6,91.5 664.0,92.7 664.4,93.1 664.7,92.5 665.1,92.9 665.5,94.0 665.9,92.8 666.2,93.7 666.6,92.5 666.9,94.0 667.3,93.3 667.6,94.0 667.9,94.0 668.3,94.8 668.6,93.8 668.9,94.8 669.2,95.5 669.6,95.1 669.9,93.0 670.2,95.5 670.5,95.3 670.8,94.6 671.1,94.5 671.3,95.5 671.6,98.1 671.9,94.4 672.2,95.5 672.5,96.1 672.7,97.4 673.0,96.0 673.3,98.3 673.5,96.4 673.8,96.3 674.0,96.7 674.3,96.9 674.5,98.6 674.8,96.1 675.0,97.0 675.3,97.7 675.5,97.3 675.8,97.5 676.0,98.9 676.2,97.1 676.5,96.8 676.7,96.8 676.9,98.8 677.1,96.7 677.4,98.2 677.6,96.7 677.8,99.0 678.0,98.8 678.2,98.3 678.4,99.7 678.6,100.0 678.8,99.2 679.1,100.9 679.3,99.8 679.5,100.6 679.7,99.6 679.9,99.5 680.1,98.6 680.3,99.4 680.4,98.7 680.6,98.5 680.8,99.5 681.0,97.6 681.2,101.4 681.4,99.7 681.6,98.1 681.8,98.7 681.9,99.4 682.1,99.6 682.3,100.4 682.5,99.7 682.6,100.8 682.8,100.3 683.0,99.6 683.2,99.7 683.3,99.8 683.5,100.5 683.7,100.4 683.8,98.4 684.0,100.1 684.2,99.2 684.3,102.5 684.5,100.9 684.7,100.8 684.8,99.1 685.0,99.2 685.1,101.5 685.3,101.4 685.4,100.1 685.6,100.5 685.8,101.9 685.9,100.9 686.1,100.0 686.2,100.3 686.4,100.7 686.5,101.0 686.7,101.2 686.8,100.2 686.9,101.6 687.1,102.3 687.2,102.1 687.4,100.8 687.5,101.8 687.7,100.7 687.8,103.1 687.9,101.5 688.1,101.8 688.2,100.9 688.4,103.9 688.5,102.6 688.6,101.7 688.8,101.3 688.9,103.1 689.0,101.4 689.2,101.3 689.3,101.7 689.4,103.6 689.5,101.4 689.7,101.5 689.8,102.9 689.9,101.1 690.1,103.8 690.2,101.8 690.3,103.0 690.4,103.1 690.6,101.8 690.7,101.0 690.8,102.4 690.9,101.5 691.1,102.4 691.2,103.4 691.3,101.6 691.4,103.6 691.5,102.9 691.7,100.9 691.8,103.6 691.9,103.1 692.0,102.3 692.1,102.7 692.2,104.8 692.4,102.1 692.5,102.8 692.6,104.3 692.7,102.4 692.8,102.3 692.9,102.8 693.0,102.0 693.1,102.5 693.2,102.6 693.4,103.6 693.5,103.2 693.6,102.1 693.7,102.7 693.8,103.9 693.9,104.2 694.0,104.0 694.1,102.0 694.2,101.5 694.3,103.8 694.4,101.2 694.5,103.0 694.6,103.4 694.7,102.8 694.8,103.7 694.9,102.5 695.1,103.3 695.2,103.7 695.3,105.4 695.4,103.1 695.5,100.6 695.6,103.3 695.7,102.0 695.8,104.4 695.9,102.9 696.0,102.4 696.0,102.1 696.1,103.8 696.2,102.8 696.3,103.4 696.3,109.2 696.2,109.4 696.1,108.7 696.0,109.4 696.0,110.5 695.9,108.9 695.8,108.4 695.7,110.4 695.6,110.6 695.5,109.8 695.4,110.7 695.3,109.6 695.2,109.3 695.1,109.5 694.9,109.0 694.8,110.4 694.7,108.9 694.6,110.7 694.5,109.6 694.4,110.2 694.3,110.2 694.2,108.6 694.1,108.9 694.0,109.3 693.9,109.5 693.8,109.3 693.7,107.5 693.6,109.4 693.5,109.9 693.4,109.3 693.2,108.5 693.1,110.3 693.0,107.5 692.9,110.5 692.8,109.4 692.7,111.0 692.6,108.4 692.5,109.7 692.4,109.1 692.2,109.6 692.1,108.6 692.0,109.2 691.9,108.3 691.8,110.7 691.7,110.4 691.5,108.9 691.4,110.9 691.3,109.9 691.2,109.7 691.1,110.1 690.9,109.7 690.8,108.6 690.7,109.0 690.6,109.8 690.4,108.9 690.3,109.8 690.2,109.3 690.1,110.5 689.9,110.7 689.8,109.6 689.7,110.0 689.5,109.7 689.4,110.2 689.3,110.6 689.2,109.1 689.0,110.0 688.9,110.6 688.8,110.9 688.6,109.8 688.5,109.7 688.4,108.4 688.2,109.9 688.1,108.4 687.9,109.5 687.8,109.7 687.7,110.5 687.5,109.7 687.4,109.6 687.2,111.5 687.1,111.3 686.9,109.8 686.8,110.4 686.7,109.8 686.5,110.7 686.4,109.5 686.2,109.5 686.1,109.2 685.9,110.0 685.8,111.3 685.6,111.8 685.4,108.9 685.3,109.3 685.1,109.9 685.0,109.3 684.8,110.9 684.7,109.5 684.5,108.7 684.3,110.1 684.2,110.3 684.0,111.2 683.8,110.5 683.7,110.0 683.5,109.3 683.3,109.3 683.2,112.0 683.0,109.8 682.8,111.0 682.6,111.3 682.5,110.9 682.3,110.8 682.1,110.8 681.9,109.6 681.8,111.0 681.6,109.2 681.4,110.0 681.2,110.4 681.0,109.6 680.8,110.3 680.6,110.5 680.4,109.7 680.3,109.7 680.1,111.2 679.9,110.0 679.7,110.5 679.5,110.4 679.3,110.6 679.1,110.4 678.8,111.2 678.6,111.7 678.4,110.7 678.2,110.9 678.0,111.9 677.8,110.5 677.6,111.0 677.4,110.1 677.1,110.8 676.9,112.1 676.7,110.9 676.5,110.8 676.2,111.9 676.0,110.8 675.8,109.9 675.5,111.9 675.3,110.9 675.0,113.0 674.8,110.0 674.5,109.1 674.3,111.7 674.0,110.5 673.8,112.7 673.5,111.5 673.3,112.6 673.0,111.8 672.7,111.5 672.5,112.0 672.2,110.9 671.9,110.8 671.6,111.3 671.3,111.6 671.1,111.3 670.8,112.2 670.5,111.5 670.2,111.8 669.9,111.6 669.6,112.6 669.2,111.9 668.9,113.6 668.6,111.0 668.3,112.8 667.9,113.0 667.6,112.5 667.3,113.8 666.9,112.9 666.6,114.0 666.2,113.4 665.9,113.1 665.5,114.5 665.1,113.0 664.7,113.9 664.4,115.1 664.0,113.2 663.6,112.4 663.2,113.9 662.7,114.6 662.3,113.8 661.9,114.1 661.5,114.9 661.0,114.7 660.6,114.1 660.1,113.6 659.6,114.4 659.1,113.9 658.6,116.4 658.1,115.6 657.6,115.6 657.1,115.5 656.6,116.2 656.0,115.5 655.4,117.7 654.9,116.9 654.3,117.7 653.7,118.0 653.0,117.7 652.4,116.9 651.7,116.7 651.0,123.6 650.3,129.7 649.6,134.6 648.8,134.5 648.1,134.4 647.3,134.3 587.0,134.3 Z" fill="#e4dbee"/>
<path d="M585.7,-55.7 586.0,-54.8 586.2,-53.8 586.4,-52.8 586.7,-51.9 586.9,-50.9 587.1,-50.0 587.4,-49.0 587.6,-48.0 587.8,-47.1 588.0,-46.1 588.2,-45.2 588.4,-44.2 588.7,-43.2 588.9,-42.3 589.1,-41.3 589.3,-40.3 589.5,-39.3 589.7,-38.4 589.9,-37.4 590.1,-36.4 590.3,-35.4 590.5,-34.5 590.7,-33.5 590.9,-32.5 591.1,-31.5 591.2,-30.6 591.4,-29.6 591.6,-28.6 591.8,-27.6 592.0,-26.7 592.2,-25.7 592.4,-24.7 592.6,-23.7 592.7,-22.7 592.9,-21.7 593.1,-20.8 593.3,-19.8 593.5,-18.8 593.7,-17.8 593.9,-16.8 594.0,-15.8 594.2,-14.9 594.4,-13.9 594.6,-12.9 594.8,-11.9 595.0,-10.9 595.1,-9.9 595.3,-9.0 595.5,-8.0 595.7,-7.0 595.9,-6.0 596.1,-5.0 596.3,-4.0 596.5,-3.0 596.7,-2.1 596.8,-1.1 597.0,-0.1 597.2,0.9 597.4,1.9 597.6,2.9 597.8,3.9 598.0,4.8 598.2,5.8 598.4,6.8 598.6,7.8 598.9,8.8 599.1,9.8 599.3,10.7 599.5,11.7 599.7,12.7 599.9,13.7 600.1,14.7 600.4,15.6 600.6,16.6 600.8,17.6 601.1,18.6 601.3,19.6 601.5,20.5 601.8,21.5 602.0,22.5 602.3,23.5 602.5,24.4 602.8,25.4 603.0,26.4 603.3,27.4 603.5,28.3 603.8,29.3 604.1,30.3 604.3,31.2 604.6,32.2 604.9,33.2 605.2,34.1 605.5,35.1 605.8,36.1 606.1,37.0 606.4,38.0 606.7,38.9 607.0,39.9 607.3,40.9 607.6,41.8 607.9,42.8 608.2,43.7 608.6,44.7 608.9,45.6 609.2,46.6 609.6,47.5 609.9,48.5 610.3,49.4 610.7,50.4 611.0,51.3 611.4,52.3 611.8,53.2 612.2,54.1 612.6,55.1 612.9,56.0 613.4,56.9 613.8,57.8 614.2,58.7 614.6,59.6 615.0,60.5 615.5,61.4 615.9,62.3 616.4,63.2 616.8,64.1 617.3,65.0 617.8,65.8 618.3,66.7 618.8,67.6 619.3,68.4 619.8,69.3 620.3,70.1 620.8,70.9 621.4,71.7 621.9,72.5 622.5,73.3 623.1,74.1 623.6,74.9 624.2,75.7 624.8,76.5 625.4,77.2 626.1,78.0 626.7,78.7 627.3,79.4 628.0,80.1 628.7,80.8 629.3,81.5 630.0,82.2 630.7,82.9 631.5,83.5 632.2,84.2 632.9,84.8 633.7,85.4 634.4,86.1 635.2,86.7 636.0,87.2 636.7,87.8 637.5,88.4 638.3,89.0 639.2,89.5 640.0,90.0 640.8,90.6 641.6,91.1 642.5,91.6 643.4,92.1 644.2,92.6 645.1,93.0 646.0,93.5 646.9,94.0 647.7,94.4 648.6,94.9 649.6,95.3 650.5,95.7 651.4,96.1 652.3,96.5 653.2,96.9 654.2,97.3 655.1,97.6 656.1,98.0 657.0,98.3 658.0,98.7 658.9,99.0 659.9,99.3 660.9,99.7 661.8,100.0 662.8,100.3 663.8,100.5 664.8,100.8 665.7,101.1 666.7,101.4 667.7,101.6 668.7,101.9 669.7,102.1 670.7,102.3 671.7,102.5 672.7,102.8 673.7,103.0 674.7,103.2 675.7,103.3 676.7,103.5 677.7,103.7 678.7,103.9 679.7,104.0 680.7,104.2 681.7,104.3 682.7,104.4 683.7,104.6 684.7,104.7 685.7,104.8 686.7,104.9 687.7,105.0 688.7,105.1 689.6,105.2 690.6,105.3 691.6,105.3 692.6,105.4 693.6,105.5 694.5,105.5 695.5,105.6 696.5,105.6 697.4,105.6 698.4,105.7 698.4,107.6 697.4,107.6 696.4,107.5 695.3,107.5 694.3,107.4 693.3,107.4 692.2,107.4 691.2,107.4 690.2,107.3 689.2,107.3 688.2,107.3 687.2,107.3 686.2,107.3 685.2,107.3 684.2,107.2 683.2,107.2 682.2,107.2 681.2,107.2 680.2,107.2 679.2,107.2 678.2,107.2 677.2,107.2 676.2,107.2 675.3,107.2 674.3,107.2 673.3,107.3 672.3,107.3 671.3,107.3 670.4,107.3 669.4,107.3 668.4,107.3 667.4,107.3 666.5,107.3 665.5,107.2 664.5,107.2 663.5,107.2 662.6,107.2 661.6,107.2 660.6,107.2 659.6,107.2 658.6,107.1 657.7,107.1 656.7,107.1 655.7,107.1 654.7,107.0 653.7,107.0 652.8,106.9 651.8,106.9 650.8,106.8 649.8,106.8 648.8,106.7 647.8,106.6 646.8,106.5 645.8,106.5 644.8,106.4 643.8,106.3 642.8,106.2 641.8,106.1 640.8,105.9 639.8,105.8 638.8,105.7 637.8,105.5 636.8,105.4 635.8,105.2 634.8,105.0 633.8,104.9 632.8,104.7 631.8,104.4 630.8,104.2 629.8,104.0 628.9,103.7 627.9,103.4 627.0,103.1 626.0,102.8 625.1,102.5 624.2,102.1 623.3,101.8 622.4,101.4 621.5,101.0 620.7,100.6 619.9,100.1 619.1,99.6 618.3,99.1 617.5,98.6 616.7,98.1 616.0,97.5 615.3,96.9 614.6,96.2 614.0,95.5 613.3,94.8 612.7,94.1 612.1,93.4 611.5,92.6 610.9,91.8 610.4,91.0 609.8,90.2 609.3,89.4 608.8,88.6 608.3,87.7 607.8,86.9 607.3,86.0 606.9,85.1 606.4,84.2 606.0,83.3 605.5,82.4 605.1,81.5 604.7,80.6 604.3,79.7 603.9,78.8 603.5,77.8 603.1,76.9 602.7,76.0 602.3,75.1 601.9,74.1 601.5,73.2 601.1,72.3 600.8,71.3 600.4,70.4 600.0,69.5 599.6,68.5 599.2,67.6 598.8,66.7 598.4,65.8 598.0,64.9 597.6,64.0 597.2,63.1 596.8,62.2 596.4,61.3 595.9,60.4 595.5,59.5 595.1,58.7 594.6,57.8 594.2,56.9 593.8,56.0 593.3,55.2 592.9,54.3 592.5,53.4 592.0,52.6 591.6,51.7 591.2,50.8 590.8,50.0 590.3,49.1 589.9,48.2 589.5,47.3 589.1,46.4 588.7,45.6 588.3,44.7 587.9,43.8 587.5,42.8 587.1,41.9 586.8,41.0 Z" fill="#d4aed6"/>
<path d="M585.8,-28.1 585.9,-27.1 586.0,-26.1 586.2,-25.1 586.3,-24.1 586.4,-23.1 586.5,-22.2 586.7,-21.2 586.8,-20.2 586.9,-19.2 587.1,-18.2 587.2,-17.2 587.4,-16.3 587.5,-15.3 587.7,-14.3 587.8,-13.3 588.0,-12.3 588.1,-11.4 588.3,-10.4 588.5,-9.4 588.6,-8.4 588.8,-7.4 589.0,-6.5 589.1,-5.5 589.3,-4.5 589.5,-3.5 589.6,-2.5 589.8,-1.6 590.0,-0.6 590.2,0.4 590.4,1.4 590.6,2.3 590.8,3.3 590.9,4.3 591.1,5.3 591.3,6.2 591.5,7.2 591.7,8.2 591.9,9.2 592.1,10.2 592.3,11.1 592.5,12.1 592.8,13.1 593.0,14.1 593.2,15.0 593.4,16.0 593.6,17.0 593.8,18.0 594.1,18.9 594.3,19.9 594.5,20.9 594.7,21.9 595.0,22.8 595.2,23.8 595.4,24.8 595.6,25.8 595.9,26.7 596.1,27.7 596.4,28.7 596.6,29.7 596.8,30.6 597.1,31.6 597.3,32.6 597.6,33.6 597.8,34.6 598.1,35.5 598.3,36.5 598.6,37.5 598.8,38.5 599.1,39.4 599.3,40.4 599.6,41.4 599.8,42.4 600.1,43.4 600.4,44.3 600.6,45.3 600.9,46.3 601.2,47.3 601.4,48.3 601.7,49.2 602.0,50.2 602.3,51.2 602.5,52.2 602.8,53.1 603.1,54.1 603.4,55.1 603.7,56.0 604.0,57.0 604.3,58.0 604.6,58.9 605.0,59.9 605.3,60.8 605.6,61.8 606.0,62.7 606.3,63.7 606.7,64.6 607.1,65.5 607.4,66.4 607.8,67.4 608.2,68.3 608.6,69.2 609.1,70.1 609.5,71.0 609.9,71.8 610.4,72.7 610.9,73.6 611.3,74.4 611.8,75.3 612.4,76.1 612.9,77.0 613.4,77.8 614.0,78.6 614.5,79.4 615.1,80.2 615.7,81.0 616.3,81.8 616.9,82.5 617.5,83.3 618.2,84.0 618.8,84.8 619.5,85.5 620.1,86.2 620.8,86.9 621.5,87.5 622.2,88.2 622.9,88.9 623.7,89.5 624.4,90.1 625.2,90.7 625.9,91.3 626.7,91.9 627.5,92.5 628.3,93.0 629.1,93.6 629.9,94.1 630.7,94.6 631.5,95.1 632.4,95.6 633.2,96.1 634.1,96.6 634.9,97.0 635.8,97.5 636.7,97.9 637.6,98.3 638.5,98.7 639.4,99.1 640.3,99.5 641.2,99.9 642.1,100.3 643.0,100.6 644.0,101.0 644.9,101.3 645.9,101.6 646.8,101.9 647.8,102.2 648.7,102.5 649.7,102.8 650.7,103.1 651.6,103.3 652.6,103.6 653.6,103.8 654.6,104.1 655.6,104.3 656.6,104.5 657.6,104.7 658.6,104.9 659.6,105.1 660.6,105.3 661.6,105.4 662.6,105.6 663.6,105.8 664.6,105.9 665.6,106.0 666.6,106.2 667.6,106.3 668.6,106.4 669.6,106.5 670.7,106.6 671.7,106.7 672.7,106.8 673.7,106.9 674.7,107.0 675.7,107.0 676.7,107.1 677.8,107.2 678.8,107.2 679.8,107.3 680.8,107.3 681.8,107.3 682.8,107.4 683.8,107.4 684.8,107.4 685.8,107.4 686.7,107.4 687.7,107.4 688.7,107.4 689.7,107.4 690.7,107.4 691.6,107.4 692.6,107.4 693.6,107.4 694.5,107.4 695.5,107.3 696.4,107.3 697.3,107.3 698.3,107.2" fill="none" stroke="#b85ea8" stroke-width="2.8" stroke-linejoin="round"/>
<line x1="586.75" y1="107.70" x2="696.40" y2="107.70" stroke="#111" stroke-width="1" stroke-dasharray="2.2,1.8"/>
</g>
<path d="M639.55,124.60v-5M639.55,0.30v5M692.35,124.60v-5M692.35,0.30v5M602.64,124.60v-3M602.64,0.30v3M611.94,124.60v-3M611.94,0.30v3M618.54,124.60v-3M618.54,0.30v3M623.66,124.60v-3M623.66,0.30v3M627.84,124.60v-3M627.84,0.30v3M631.37,124.60v-3M631.37,0.30v3M634.43,124.60v-3M634.43,0.30v3M637.13,124.60v-3M637.13,0.30v3M655.44,124.60v-3M655.44,0.30v3M664.74,124.60v-3M664.74,0.30v3M671.34,124.60v-3M671.34,0.30v3M676.46,124.60v-3M676.46,0.30v3M680.64,124.60v-3M680.64,0.30v3M684.17,124.60v-3M684.17,0.30v3M687.23,124.60v-3M687.23,0.30v3M689.93,124.60v-3M689.93,0.30v3M586.75,107.70h5M696.40,107.70h-5M586.75,79.50h5M696.40,79.50h-5M586.75,51.30h5M696.40,51.30h-5M586.75,23.10h5M696.40,23.10h-5M586.75,121.80h3M696.40,121.80h-3M586.75,93.60h3M696.40,93.60h-3M586.75,65.40h3M696.40,65.40h-3M586.75,37.20h3M696.40,37.20h-3M586.75,9.00h3M696.40,9.00h-3" stroke="#1a1a1a" stroke-width="0.9" fill="none"/>
<rect x="586.75" y="0.30" width="109.65" height="124.30" fill="none" stroke="#1a1a1a" stroke-width="0.9"/>
<text x="645.35" y="23.10" font-family="'Liberation Serif', 'DejaVu Serif', serif" font-size="13" fill="#111">UVW1</text>
<g clip-path="url(#c10)">
<path d="M37.5,94.6 48.8,94.6 48.9,124.6 49.0,126.3 51.2,135.5 54.1,147.0 57.0,158.6 59.3,169.0 61.5,171.5 63.3,173.6 65.1,180.5 67.4,187.4 70.3,188.6 74.9,195.5 77.8,197.8 83.6,203.3 84.9,205.9 85.6,199.6 85.9,196.2 86.5,196.2 86.8,199.6 87.5,205.9 88.3,208.0 88.9,208.5 90.1,209.5 91.3,210.6 92.4,210.8 93.5,212.8 94.5,212.1 95.5,213.7 96.4,215.4 97.3,214.1 98.2,215.1 99.0,216.2 99.8,216.4 100.6,217.2 101.3,218.4 102.1,217.8 102.8,220.3 103.5,218.9 104.1,221.3 104.8,221.7 105.4,221.2 106.0,218.9 106.6,219.7 107.2,221.1 107.8,220.2 108.3,223.1 108.9,220.4 109.4,222.7 109.9,222.2 110.4,223.9 110.9,221.6 111.4,224.2 111.8,223.6 112.3,222.9 112.8,224.4 113.2,225.2 113.6,223.2 114.1,223.7 114.5,222.3 114.9,223.8 115.3,223.8 115.7,225.1 116.1,225.2 116.5,224.8 116.9,224.7 117.2,226.4 117.6,225.6 118.0,227.2 118.3,226.6 118.7,224.8 119.0,224.9 119.4,226.4 119.7,225.1 120.0,226.3 120.4,226.6 120.7,226.7 121.0,226.8 121.3,225.7 121.6,225.1 121.9,224.6 122.2,226.4 122.5,228.5 122.8,224.8 123.1,228.2 123.4,225.1 123.7,225.8 123.9,226.6 124.2,228.5 124.5,226.3 124.7,228.1 125.0,228.5 125.3,228.6 125.5,227.5 125.8,228.0 126.0,228.2 126.3,228.6 126.5,227.8 126.8,227.5 127.0,225.0 127.3,226.7 127.5,227.9 127.7,229.3 128.0,230.6 128.2,228.0 128.4,227.8 128.7,226.9 128.9,229.7 129.1,227.0 129.3,227.4 129.5,228.0 129.8,227.6 130.0,230.4 130.2,229.2 130.4,228.2 130.6,229.9 130.8,228.1 131.0,230.1 131.2,229.7 131.4,227.7 131.6,228.3 131.8,228.9 132.0,227.5 132.2,229.8 132.4,228.6 132.6,228.7 132.8,228.3 133.0,229.1 133.1,229.8 133.3,230.0 133.5,230.2 133.7,230.7 133.9,229.8 134.0,228.8 134.2,229.9 134.4,228.6 134.6,229.7 134.7,229.4 134.9,229.5 135.1,229.7 135.3,228.8 135.4,227.9 135.6,229.5 135.8,231.6 135.9,228.5 136.1,230.0 136.2,230.8 136.4,230.5 136.6,230.2 136.7,229.8 136.9,232.5 137.0,230.8 137.2,231.3 137.3,231.2 137.5,229.4 137.7,230.6 137.8,231.6 138.0,230.6 138.1,230.2 138.3,229.6 138.4,230.9 138.5,230.5 138.7,232.0 138.8,229.0 139.0,230.8 139.1,230.0 139.3,231.3 139.4,231.1 139.5,231.6 139.7,231.8 139.8,230.7 140.0,229.6 140.1,231.2 140.2,230.7 140.4,231.4 140.5,230.2 140.6,231.5 140.8,230.4 140.9,231.6 141.0,230.8 141.2,230.9 141.3,230.9 141.4,230.0 141.6,230.3 141.7,231.5 141.8,231.3 141.9,230.7 142.1,230.6 142.2,231.3 142.3,229.5 142.4,229.9 142.6,232.1 142.7,233.4 142.8,231.8 142.9,231.0 143.0,232.3 143.2,230.3 143.3,231.4 143.4,232.6 143.5,231.3 143.6,231.8 143.8,231.6 143.9,229.9 144.0,232.7 144.1,230.9 144.2,231.6 144.3,232.0 144.4,230.3 144.6,231.9 144.7,231.3 144.8,230.5 144.9,231.6 145.0,230.1 145.1,230.1 145.2,231.1 145.3,229.4 145.4,234.3 145.5,232.3 145.7,232.3 145.8,230.6 145.9,231.7 146.0,231.9 146.1,229.9 146.2,232.1 146.3,231.2 146.4,231.4 146.5,231.1 146.6,231.6 146.7,232.6 146.8,232.4 146.9,232.2 147.0,230.8 147.1,231.5 147.2,230.7 147.3,231.9 147.4,231.2 147.5,231.3 147.6,230.4 147.7,229.2 147.8,232.1 147.9,231.1 148.0,231.5 148.1,231.6 148.1,233.6 148.0,234.8 147.9,233.7 147.8,233.7 147.7,233.5 147.6,234.2 147.5,234.5 147.4,233.1 147.3,234.1 147.2,232.3 147.1,234.5 147.0,232.6 146.9,234.6 146.8,234.7 146.7,234.4 146.6,234.2 146.5,233.5 146.4,232.4 146.3,233.9 146.2,234.7 146.1,233.9 146.0,233.9 145.9,233.5 145.8,234.2 145.7,235.3 145.5,234.3 145.4,233.4 145.3,234.4 145.2,233.0 145.1,232.8 145.0,234.2 144.9,233.6 144.8,233.6 144.7,233.6 144.6,234.7 144.4,234.9 144.3,233.5 144.2,232.6 144.1,234.4 144.0,234.8 143.9,235.0 143.8,234.7 143.6,233.9 143.5,234.8 143.4,236.0 143.3,234.2 143.2,234.8 143.0,233.5 142.9,235.1 142.8,233.7 142.7,234.0 142.6,235.1 142.4,234.3 142.3,232.5 142.2,235.3 142.1,235.2 141.9,233.3 141.8,233.3 141.7,234.2 141.6,234.1 141.4,233.7 141.3,233.8 141.2,233.4 141.0,232.6 140.9,234.2 140.8,235.2 140.6,234.6 140.5,233.3 140.4,235.0 140.2,232.7 140.1,235.7 140.0,235.1 139.8,234.7 139.7,233.7 139.5,233.8 139.4,234.6 139.3,234.2 139.1,235.1 139.0,233.9 138.8,236.4 138.7,234.7 138.5,235.6 138.4,234.8 138.3,234.5 138.1,235.9 138.0,235.7 137.8,232.6 137.7,233.4 137.5,234.6 137.3,236.0 137.2,234.8 137.0,234.4 136.9,233.9 136.7,234.9 136.6,234.9 136.4,234.3 136.2,233.7 136.1,234.4 135.9,233.5 135.8,234.3 135.6,234.6 135.4,234.1 135.3,234.2 135.1,233.3 134.9,234.6 134.7,233.8 134.6,235.0 134.4,234.4 134.2,233.4 134.0,235.5 133.9,234.2 133.7,234.1 133.5,235.2 133.3,233.3 133.1,234.7 133.0,235.1 132.8,234.0 132.6,233.7 132.4,234.5 132.2,234.5 132.0,234.8 131.8,235.7 131.6,234.2 131.4,235.6 131.2,234.1 131.0,235.4 130.8,233.9 130.6,234.9 130.4,234.3 130.2,235.3 130.0,235.2 129.8,233.7 129.5,235.0 129.3,234.7 129.1,234.6 128.9,234.8 128.7,235.4 128.4,233.8 128.2,233.7 128.0,234.7 127.7,232.9 127.5,234.9 127.3,234.4 127.0,234.1 126.8,234.0 126.5,236.2 126.3,233.7 126.0,234.6 125.8,233.1 125.5,235.3 125.3,234.5 125.0,234.0 124.7,234.6 124.5,234.9 124.2,235.5 123.9,233.6 123.7,234.9 123.4,233.7 123.1,234.4 122.8,234.3 122.5,235.1 122.2,234.6 121.9,234.7 121.6,234.0 121.3,234.2 121.0,235.0 120.7,234.2 120.4,235.9 120.0,235.6 119.7,236.3 119.4,235.4 119.0,235.0 118.7,235.0 118.3,234.5 118.0,233.7 117.6,235.4 117.2,235.5 116.9,234.5 116.5,237.0 116.1,235.0 115.7,236.6 115.3,234.8 114.9,236.5 114.5,234.6 114.1,236.8 113.6,237.0 113.2,236.4 112.8,235.9 112.3,236.9 111.8,235.0 111.4,236.3 110.9,236.4 110.4,236.5 109.9,236.1 109.4,237.1 108.9,237.6 108.3,237.3 107.8,236.6 107.2,236.8 106.6,238.0 106.0,236.0 105.4,236.1 104.8,237.5 104.1,238.2 103.5,239.7 102.8,237.9 102.1,239.0 101.3,238.5 100.6,239.5 99.8,239.6 99.0,239.7 97.7,240.2 93.0,244.2 91.5,258.3 38.0,258.3 Z" fill="#e4dbee"/>
<path d="M39.1,133.3 39.1,134.2 39.1,135.2 39.2,136.1 39.3,137.1 39.3,138.0 39.4,139.0 39.5,139.9 39.6,140.9 39.7,141.8 39.8,142.8 40.0,143.8 40.1,144.7 40.2,145.7 40.4,146.7 40.5,147.6 40.7,148.6 40.9,149.6 41.0,150.6 41.2,151.5 41.4,152.5 41.6,153.5 41.8,154.5 42.1,155.5 42.3,156.4 42.5,157.4 42.8,158.4 43.0,159.4 43.3,160.3 43.5,161.3 43.8,162.3 44.1,163.3 44.4,164.2 44.7,165.2 45.0,166.2 45.3,167.1 45.6,168.1 46.0,169.1 46.3,170.0 46.7,171.0 47.0,171.9 47.4,172.9 47.8,173.8 48.1,174.8 48.5,175.7 48.9,176.7 49.3,177.6 49.7,178.5 50.2,179.4 50.6,180.4 51.0,181.3 51.5,182.2 51.9,183.1 52.4,184.0 52.8,184.9 53.3,185.8 53.8,186.7 54.3,187.6 54.8,188.4 55.3,189.3 55.8,190.2 56.4,191.0 56.9,191.9 57.4,192.7 58.0,193.6 58.5,194.4 59.1,195.2 59.7,196.0 60.2,196.9 60.8,197.7 61.4,198.5 62.0,199.2 62.6,200.0 63.3,200.8 63.9,201.6 64.5,202.3 65.2,203.1 65.8,203.8 66.5,204.5 67.1,205.2 67.8,205.9 68.5,206.6 69.2,207.3 69.9,208.0 70.6,208.7 71.3,209.3 72.0,210.0 72.8,210.6 73.5,211.3 74.3,211.9 75.0,212.5 75.8,213.1 76.5,213.7 77.3,214.3 78.1,214.8 78.9,215.4 79.7,215.9 80.5,216.5 81.3,217.0 82.1,217.5 82.9,218.0 83.8,218.5 84.6,219.0 85.5,219.5 86.3,220.0 87.2,220.4 88.0,220.9 88.9,221.3 89.8,221.7 90.6,222.2 91.5,222.6 92.4,223.0 93.3,223.4 94.2,223.8 95.1,224.1 96.0,224.5 96.9,224.9 97.8,225.2 98.8,225.6 99.7,225.9 100.6,226.2 101.6,226.5 102.5,226.8 103.4,227.1 104.4,227.4 105.3,227.7 106.3,228.0 107.2,228.2 108.2,228.5 109.2,228.7 110.1,228.9 111.1,229.2 112.1,229.4 113.1,229.6 114.0,229.8 115.0,230.0 116.0,230.2 117.0,230.3 118.0,230.5 119.0,230.7 120.0,230.8 121.0,231.0 122.0,231.1 123.0,231.2 124.0,231.3 125.0,231.4 126.0,231.6 127.0,231.6 128.0,231.7 129.0,231.8 130.0,231.9 131.0,231.9 132.1,232.0 133.1,232.1 134.1,232.1 135.1,232.1 136.1,232.2 137.1,232.2 138.2,232.2 139.2,232.2 140.2,232.2 141.2,232.2 142.2,232.2 143.2,232.1 144.3,232.1 145.3,232.1 146.3,232.0 147.3,232.0 148.3,231.9 149.3,231.8 150.3,231.8 150.1,233.3 149.2,233.2 148.3,233.0 147.4,232.8 146.5,232.7 145.5,232.5 144.6,232.4 143.7,232.3 142.8,232.2 141.8,232.1 140.9,232.0 139.9,232.0 138.9,231.9 138.0,231.9 137.0,231.8 136.0,231.8 135.0,231.7 134.1,231.7 133.1,231.7 132.1,231.7 131.1,231.7 130.1,231.7 129.1,231.7 128.1,231.7 127.1,231.7 126.0,231.8 125.0,231.8 124.0,231.8 123.0,231.8 122.0,231.9 120.9,231.9 119.9,232.0 118.9,232.0 117.8,232.0 116.8,232.1 115.8,232.1 114.7,232.2 113.7,232.2 112.7,232.2 111.6,232.3 110.6,232.3 109.5,232.3 108.5,232.4 107.5,232.4 106.4,232.4 105.4,232.5 104.4,232.5 103.3,232.5 102.3,232.5 101.3,232.5 100.2,232.5 99.2,232.5 98.2,232.5 97.2,232.4 96.1,232.4 95.1,232.4 94.1,232.3 93.1,232.3 92.1,232.2 91.1,232.1 90.1,232.1 89.1,232.0 88.1,231.9 87.1,231.8 86.1,231.6 85.1,231.5 84.2,231.4 83.2,231.2 82.2,231.0 81.3,230.8 80.3,230.6 79.4,230.4 78.4,230.2 77.5,230.0 76.5,229.7 75.6,229.4 74.7,229.2 73.8,228.9 72.9,228.5 72.0,228.2 71.1,227.8 70.2,227.5 69.3,227.1 68.5,226.7 67.6,226.2 66.8,225.8 65.9,225.3 65.1,224.8 64.3,224.3 63.5,223.8 62.7,223.3 61.9,222.7 61.1,222.1 60.3,221.5 59.5,220.9 58.8,220.2 58.0,219.6 57.3,218.9 56.6,218.2 55.8,217.5 55.1,216.8 54.4,216.1 53.7,215.3 53.0,214.6 52.4,213.8 51.7,213.0 51.0,212.3 50.4,211.5 49.7,210.7 49.1,209.9 48.5,209.1 47.9,208.3 47.3,207.5 46.6,206.6 46.1,205.8 45.5,205.0 44.9,204.2 44.3,203.4 43.8,202.5 43.2,201.7 42.7,200.9 42.1,200.1 41.6,199.3 41.1,198.5 40.6,197.7 40.1,196.9 39.6,196.1 39.1,195.3 Z" fill="#d4aed6"/>
<path d="M38.3,161.8 38.6,162.8 38.9,163.8 39.2,164.7 39.5,165.7 39.8,166.7 40.2,167.6 40.5,168.6 40.8,169.6 41.1,170.5 41.4,171.5 41.8,172.5 42.1,173.5 42.4,174.4 42.7,175.4 43.1,176.4 43.4,177.4 43.7,178.3 44.1,179.3 44.4,180.3 44.7,181.2 45.1,182.2 45.4,183.2 45.8,184.1 46.1,185.1 46.4,186.0 46.8,187.0 47.1,187.9 47.5,188.9 47.8,189.8 48.2,190.7 48.6,191.7 49.0,192.6 49.3,193.5 49.7,194.4 50.1,195.3 50.5,196.2 51.0,197.1 51.4,198.0 51.8,198.9 52.3,199.7 52.8,200.6 53.2,201.5 53.7,202.3 54.2,203.1 54.7,204.0 55.3,204.8 55.8,205.6 56.4,206.4 57.0,207.2 57.6,208.0 58.2,208.7 58.8,209.5 59.4,210.2 60.1,211.0 60.7,211.7 61.4,212.4 62.1,213.1 62.8,213.8 63.5,214.5 64.2,215.2 65.0,215.8 65.7,216.4 66.5,217.1 67.2,217.7 68.0,218.3 68.8,218.9 69.6,219.4 70.4,220.0 71.2,220.5 72.0,221.0 72.9,221.6 73.7,222.0 74.6,222.5 75.4,223.0 76.3,223.4 77.2,223.9 78.1,224.3 79.0,224.7 79.9,225.1 80.8,225.4 81.7,225.8 82.6,226.2 83.6,226.5 84.5,226.8 85.4,227.1 86.4,227.4 87.3,227.7 88.3,228.0 89.3,228.3 90.2,228.5 91.2,228.8 92.2,229.0 93.2,229.2 94.2,229.5 95.1,229.7 96.1,229.9 97.1,230.0 98.2,230.2 99.2,230.4 100.2,230.6 101.2,230.7 102.2,230.8 103.2,231.0 104.2,231.1 105.3,231.2 106.3,231.3 107.3,231.4 108.3,231.5 109.4,231.6 110.4,231.7 111.4,231.8 112.5,231.9 113.5,232.0 114.5,232.0 115.6,232.1 116.6,232.1 117.6,232.2 118.6,232.2 119.7,232.3 120.7,232.3 121.7,232.3 122.8,232.4 123.8,232.4 124.8,232.4 125.8,232.4 126.8,232.5 127.9,232.5 128.9,232.5 129.9,232.5 130.9,232.5 131.9,232.5 132.9,232.5 133.9,232.5 134.9,232.6 135.9,232.6 136.8,232.6 137.8,232.6 138.8,232.6 139.8,232.6 140.7,232.6 141.7,232.6 142.6,232.6 143.6,232.7 144.5,232.7 145.5,232.7 146.4,232.7 147.3,232.7 148.2,232.8 149.1,232.8 150.0,232.8" fill="none" stroke="#b85ea8" stroke-width="2.8" stroke-linejoin="round"/>
<line x1="38.50" y1="233.20" x2="148.15" y2="233.20" stroke="#111" stroke-width="1" stroke-dasharray="2.2,1.8"/>
</g>
<path d="M91.30,248.90v-5M91.30,124.60v5M144.10,248.90v-5M144.10,124.60v5M54.39,248.90v-3M54.39,124.60v3M63.69,248.90v-3M63.69,124.60v3M70.29,248.90v-3M70.29,124.60v3M75.41,248.90v-3M75.41,124.60v3M79.59,248.90v-3M79.59,124.60v3M83.12,248.90v-3M83.12,124.60v3M86.18,248.90v-3M86.18,124.60v3M88.88,248.90v-3M88.88,124.60v3M107.19,248.90v-3M107.19,124.60v3M116.49,248.90v-3M116.49,124.60v3M123.09,248.90v-3M123.09,124.60v3M128.21,248.90v-3M128.21,124.60v3M132.39,248.90v-3M132.39,124.60v3M135.92,248.90v-3M135.92,124.60v3M138.98,248.90v-3M138.98,124.60v3M141.68,248.90v-3M141.68,124.60v3M38.50,233.20h5M148.15,233.20h-5M38.50,211.20h5M148.15,211.20h-5M38.50,189.20h5M148.15,189.20h-5M38.50,167.20h5M148.15,167.20h-5M38.50,145.20h5M148.15,145.20h-5M38.50,244.20h3M148.15,244.20h-3M38.50,222.20h3M148.15,222.20h-3M38.50,200.20h3M148.15,200.20h-3M38.50,178.20h3M148.15,178.20h-3M38.50,156.20h3M148.15,156.20h-3M38.50,134.20h3M148.15,134.20h-3" stroke="#1a1a1a" stroke-width="0.9" fill="none"/>
<rect x="38.50" y="124.60" width="109.65" height="124.30" fill="none" stroke="#1a1a1a" stroke-width="0.9"/>
<text x="97.10" y="145.20" font-family="'Liberation Serif', 'DejaVu Serif', serif" font-size="13" fill="#111">U<tspan font-size="9.1" dy="2.2">swift</tspan></text>
<text x="35.50" y="237.50" font-family="'Liberation Serif', 'DejaVu Serif', serif" font-size="12.5" text-anchor="end" fill="#111">0</text>
<text x="35.50" y="215.50" font-family="'Liberation Serif', 'DejaVu Serif', serif" font-size="12.5" text-anchor="end" fill="#111">2</text>
<text x="35.50" y="193.50" font-family="'Liberation Serif', 'DejaVu Serif', serif" font-size="12.5" text-anchor="end" fill="#111">4</text>
<text x="35.50" y="171.50" font-family="'Liberation Serif', 'DejaVu Serif', serif" font-size="12.5" text-anchor="end" fill="#111">6</text>
<text x="35.50" y="149.50" font-family="'Liberation Serif', 'DejaVu Serif', serif" font-size="12.5" text-anchor="end" fill="#111">8</text>
<g clip-path="url(#c11)">
<path d="M147.1,94.6 158.5,94.6 158.6,124.6 158.6,126.3 160.9,135.5 163.8,147.0 166.7,158.6 168.9,169.0 171.2,171.5 172.9,173.6 174.8,180.5 177.1,187.4 179.9,188.6 184.6,195.5 187.4,197.8 192.0,201.7 194.5,204.6 195.2,199.1 195.5,196.2 196.1,196.2 196.4,199.1 197.1,204.6 198.5,206.6 199.8,208.5 200.9,210.1 202.1,209.8 203.1,210.8 204.2,211.0 205.1,215.3 206.1,214.2 207.0,214.6 207.8,215.9 208.7,214.9 209.5,216.3 210.2,215.8 211.0,218.1 211.7,216.9 212.4,218.6 213.1,219.6 213.8,218.8 214.4,220.0 215.1,218.3 215.7,218.6 216.3,220.4 216.8,220.2 217.4,219.3 218.0,220.5 218.5,222.5 219.0,220.8 219.5,221.8 220.0,221.6 220.5,222.5 221.0,222.9 221.5,223.3 222.0,223.5 222.4,224.0 222.9,223.9 223.3,223.8 223.7,223.3 224.1,221.0 224.6,223.9 225.0,223.7 225.4,224.0 225.8,223.1 226.1,225.8 226.5,223.4 226.9,225.8 227.3,225.2 227.6,226.0 228.0,226.5 228.3,227.7 228.7,227.2 229.0,226.9 229.3,227.4 229.7,226.1 230.0,226.2 230.3,225.7 230.6,226.6 231.0,227.5 231.3,226.4 231.6,226.5 231.9,225.9 232.2,228.2 232.5,226.7 232.7,227.3 233.0,226.6 233.3,227.4 233.6,225.2 233.9,227.2 234.1,226.5 234.4,228.5 234.7,228.0 234.9,227.0 235.2,226.6 235.4,226.4 235.7,228.0 235.9,226.8 236.2,229.2 236.4,226.5 236.7,227.0 236.9,226.7 237.2,226.3 237.4,228.2 237.6,227.0 237.9,229.0 238.1,227.9 238.3,226.1 238.5,227.1 238.8,228.0 239.0,229.3 239.2,227.6 239.4,227.8 239.6,226.7 239.8,229.5 240.0,226.0 240.2,228.6 240.5,228.3 240.7,228.7 240.9,229.1 241.1,229.5 241.3,228.6 241.5,226.8 241.7,230.2 241.8,228.0 242.0,229.6 242.2,228.4 242.4,229.5 242.6,228.8 242.8,228.4 243.0,229.7 243.2,226.4 243.3,228.6 243.5,229.0 243.7,229.4 243.9,228.4 244.0,227.1 244.2,229.4 244.4,227.9 244.6,229.8 244.7,229.6 244.9,229.2 245.1,230.8 245.2,230.5 245.4,228.3 245.6,227.6 245.7,230.8 245.9,231.7 246.1,228.7 246.2,229.8 246.4,228.6 246.5,228.9 246.7,232.5 246.8,230.1 247.0,229.7 247.2,229.8 247.3,228.5 247.5,230.1 247.6,231.7 247.8,231.3 247.9,229.4 248.1,229.0 248.2,230.6 248.3,230.0 248.5,229.9 248.6,229.2 248.8,230.9 248.9,230.1 249.1,230.1 249.2,230.1 249.3,230.6 249.5,229.2 249.6,229.1 249.8,227.7 249.9,230.6 250.0,232.2 250.2,231.3 250.3,230.3 250.4,229.2 250.6,230.0 250.7,229.7 250.8,230.7 250.9,230.1 251.1,230.9 251.2,230.0 251.3,229.1 251.5,232.2 251.6,229.1 251.7,229.2 251.8,229.8 252.0,230.0 252.1,231.3 252.2,230.9 252.3,230.1 252.5,231.1 252.6,232.8 252.7,231.0 252.8,230.9 252.9,231.4 253.1,229.8 253.2,233.5 253.3,232.2 253.4,230.2 253.5,231.3 253.6,228.7 253.7,231.1 253.9,230.8 254.0,231.2 254.1,230.2 254.2,231.9 254.3,229.9 254.4,232.0 254.5,230.4 254.6,229.0 254.8,230.4 254.9,232.7 255.0,229.3 255.1,229.8 255.2,231.3 255.3,229.9 255.4,230.5 255.5,230.2 255.6,231.6 255.7,230.7 255.8,232.2 255.9,229.4 256.0,232.5 256.1,231.8 256.2,231.2 256.3,231.5 256.5,230.6 256.6,230.1 256.7,232.8 256.8,231.0 256.9,229.9 257.0,231.6 257.1,231.4 257.2,232.0 257.3,230.7 257.4,230.3 257.4,230.1 257.5,230.1 257.6,231.9 257.7,231.7 257.7,234.1 257.6,234.9 257.5,232.8 257.4,233.8 257.4,233.8 257.3,232.7 257.2,232.6 257.1,234.3 257.0,234.0 256.9,234.5 256.8,234.4 256.7,234.6 256.6,234.1 256.5,234.1 256.3,233.0 256.2,233.9 256.1,235.4 256.0,233.1 255.9,233.7 255.8,232.8 255.7,234.4 255.6,234.6 255.5,236.2 255.4,234.8 255.3,234.8 255.2,234.2 255.1,233.5 255.0,234.4 254.9,234.9 254.8,234.3 254.6,233.6 254.5,234.9 254.4,233.8 254.3,235.4 254.2,234.4 254.1,235.0 254.0,235.4 253.9,234.9 253.7,233.9 253.6,234.1 253.5,232.9 253.4,233.5 253.3,231.9 253.2,234.5 253.1,234.9 252.9,235.0 252.8,234.9 252.7,233.0 252.6,232.7 252.5,234.1 252.3,233.6 252.2,234.9 252.1,233.8 252.0,235.5 251.8,234.6 251.7,233.8 251.6,233.2 251.5,233.4 251.3,236.0 251.2,234.2 251.1,234.1 250.9,234.8 250.8,233.6 250.7,234.3 250.6,233.7 250.4,234.6 250.3,234.8 250.2,235.7 250.0,234.0 249.9,236.4 249.8,233.5 249.6,234.2 249.5,235.6 249.3,233.8 249.2,234.6 249.1,234.2 248.9,233.7 248.8,234.0 248.6,234.8 248.5,234.1 248.3,234.1 248.2,234.8 248.1,234.5 247.9,235.0 247.8,234.5 247.6,234.6 247.5,234.6 247.3,235.2 247.2,235.7 247.0,235.2 246.8,234.9 246.7,235.2 246.5,234.7 246.4,234.4 246.2,234.9 246.1,234.6 245.9,233.0 245.7,234.9 245.6,235.1 245.4,235.1 245.2,233.8 245.1,234.3 244.9,234.2 244.7,234.6 244.6,233.7 244.4,234.1 244.2,233.7 244.0,235.3 243.9,234.8 243.7,234.5 243.5,233.5 243.3,234.4 243.2,234.9 243.0,235.4 242.8,233.3 242.6,234.9 242.4,235.0 242.2,234.7 242.0,233.5 241.8,234.0 241.7,232.9 241.5,234.9 241.3,234.9 241.1,236.1 240.9,235.3 240.7,235.2 240.5,235.3 240.2,235.4 240.0,235.5 239.8,234.5 239.6,235.8 239.4,233.8 239.2,234.8 239.0,234.5 238.8,235.5 238.5,236.7 238.3,234.7 238.1,234.4 237.9,235.2 237.6,234.6 237.4,235.0 237.2,234.2 236.9,234.6 236.7,235.7 236.4,234.4 236.2,235.4 235.9,234.7 235.7,235.6 235.4,235.9 235.2,234.0 234.9,233.8 234.7,235.4 234.4,235.9 234.1,235.0 233.9,235.7 233.6,233.0 233.3,235.9 233.0,235.4 232.7,234.9 232.5,235.2 232.2,234.8 231.9,236.7 231.6,233.9 231.3,235.2 231.0,234.5 230.6,234.7 230.3,235.2 230.0,235.9 229.7,236.5 229.3,234.5 229.0,235.4 228.7,236.0 228.3,235.2 228.0,235.6 227.6,234.5 227.3,236.5 226.9,236.4 226.5,234.9 226.1,235.5 225.8,236.3 225.4,236.2 225.0,236.1 224.6,234.6 224.1,236.3 223.7,237.3 223.3,236.8 222.9,236.9 222.4,237.0 222.0,237.1 221.5,238.3 221.0,237.4 220.5,238.6 220.0,239.4 219.5,240.4 219.0,239.5 218.5,239.5 218.0,241.0 217.4,239.8 216.8,239.3 216.3,238.5 215.7,239.5 215.1,238.8 214.4,238.6 213.8,238.4 213.1,239.3 212.4,237.9 211.7,238.9 211.0,239.9 210.2,239.0 209.5,239.3 208.7,239.4 207.7,239.5 203.0,244.2 201.5,258.3 148.0,258.3 Z" fill="#e4dbee"/>
<path d="M147.9,129.9 148.0,130.9 148.0,131.8 148.1,132.8 148.2,133.7 148.3,134.7 148.4,135.6 148.5,136.6 148.6,137.6 148.7,138.5 148.9,139.5 149.0,140.5 149.1,141.4 149.3,142.4 149.4,143.4 149.6,144.4 149.7,145.3 149.9,146.3 150.1,147.3 150.3,148.3 150.5,149.3 150.7,150.2 150.9,151.2 151.1,152.2 151.3,153.2 151.5,154.2 151.7,155.2 152.0,156.1 152.2,157.1 152.5,158.1 152.7,159.1 153.0,160.1 153.3,161.0 153.5,162.0 153.8,163.0 154.1,164.0 154.4,164.9 154.7,165.9 155.0,166.9 155.4,167.8 155.7,168.8 156.0,169.8 156.4,170.7 156.7,171.7 157.1,172.6 157.4,173.6 157.8,174.5 158.2,175.4 158.6,176.4 159.0,177.3 159.4,178.2 159.8,179.2 160.2,180.1 160.6,181.0 161.1,181.9 161.5,182.8 162.0,183.7 162.4,184.6 162.9,185.5 163.3,186.4 163.8,187.3 164.3,188.1 164.8,189.0 165.3,189.9 165.8,190.7 166.4,191.6 166.9,192.4 167.4,193.2 168.0,194.1 168.5,194.9 169.1,195.7 169.6,196.5 170.2,197.3 170.8,198.1 171.4,198.9 172.0,199.7 172.6,200.4 173.2,201.2 173.9,201.9 174.5,202.7 175.1,203.4 175.8,204.1 176.5,204.9 177.1,205.6 177.8,206.3 178.5,206.9 179.2,207.6 179.9,208.3 180.6,208.9 181.3,209.6 182.1,210.2 182.8,210.9 183.6,211.5 184.3,212.1 185.1,212.7 185.9,213.3 186.6,213.8 187.4,214.4 188.2,215.0 189.0,215.5 189.9,216.0 190.7,216.6 191.5,217.1 192.3,217.6 193.2,218.1 194.0,218.6 194.9,219.1 195.7,219.5 196.6,220.0 197.5,220.4 198.4,220.9 199.2,221.3 200.1,221.7 201.0,222.1 201.9,222.5 202.8,222.9 203.7,223.3 204.7,223.7 205.6,224.1 206.5,224.4 207.4,224.8 208.4,225.1 209.3,225.4 210.3,225.8 211.2,226.1 212.2,226.4 213.1,226.7 214.1,227.0 215.0,227.2 216.0,227.5 217.0,227.8 218.0,228.0 218.9,228.3 219.9,228.5 220.9,228.8 221.9,229.0 222.9,229.2 223.9,229.4 224.9,229.6 225.8,229.8 226.8,230.0 227.8,230.1 228.8,230.3 229.8,230.5 230.8,230.6 231.8,230.7 232.8,230.9 233.9,231.0 234.9,231.1 235.9,231.2 236.9,231.3 237.9,231.4 238.9,231.5 239.9,231.6 240.9,231.7 241.9,231.7 242.9,231.8 243.9,231.9 244.9,231.9 245.9,231.9 246.9,232.0 248.0,232.0 249.0,232.0 250.0,232.0 251.0,232.0 252.0,232.0 253.0,232.0 254.0,232.0 254.9,232.0 255.9,231.9 256.9,231.9 257.9,231.9 258.9,231.8 259.9,231.7 259.7,233.3 258.8,233.1 257.9,233.0 257.0,232.9 256.1,232.8 255.2,232.7 254.3,232.6 253.3,232.5 252.4,232.4 251.4,232.4 250.5,232.3 249.5,232.3 248.6,232.2 247.6,232.2 246.6,232.2 245.6,232.1 244.7,232.1 243.7,232.1 242.7,232.1 241.7,232.1 240.7,232.1 239.7,232.1 238.7,232.1 237.7,232.1 236.7,232.2 235.7,232.2 234.6,232.2 233.6,232.2 232.6,232.3 231.6,232.3 230.6,232.3 229.5,232.4 228.5,232.4 227.5,232.4 226.5,232.5 225.4,232.5 224.4,232.5 223.4,232.6 222.3,232.6 221.3,232.6 220.3,232.6 219.2,232.7 218.2,232.7 217.2,232.7 216.2,232.7 215.1,232.7 214.1,232.7 213.1,232.7 212.0,232.7 211.0,232.7 210.0,232.7 209.0,232.7 208.0,232.6 206.9,232.6 205.9,232.6 204.9,232.5 203.9,232.4 202.9,232.4 201.9,232.3 200.9,232.2 199.9,232.1 198.9,232.0 197.9,231.9 197.0,231.8 196.0,231.7 195.0,231.5 194.0,231.4 193.1,231.2 192.1,231.0 191.2,230.8 190.2,230.6 189.3,230.4 188.3,230.2 187.4,230.0 186.5,229.7 185.5,229.4 184.6,229.2 183.7,228.9 182.8,228.6 181.9,228.2 181.0,227.9 180.2,227.5 179.3,227.1 178.4,226.7 177.6,226.3 176.7,225.9 175.9,225.5 175.1,225.0 174.2,224.5 173.4,224.0 172.6,223.5 171.8,222.9 171.0,222.4 170.2,221.8 169.5,221.2 168.7,220.6 168.0,219.9 167.2,219.3 166.5,218.6 165.8,217.9 165.1,217.2 164.4,216.4 163.7,215.7 163.0,214.9 162.3,214.2 161.6,213.4 161.0,212.6 160.3,211.8 159.7,211.0 159.0,210.2 158.4,209.4 157.8,208.6 157.2,207.7 156.5,206.9 155.9,206.1 155.3,205.3 154.8,204.4 154.2,203.6 153.6,202.8 153.0,202.0 152.5,201.2 151.9,200.4 151.3,199.6 150.8,198.8 150.3,198.0 149.7,197.3 149.2,196.5 148.7,195.8 148.1,195.1 147.6,194.3 Z" fill="#d4aed6"/>
<path d="M147.0,157.9 147.3,158.9 147.6,159.8 147.9,160.8 148.2,161.7 148.4,162.7 148.7,163.7 149.0,164.6 149.3,165.6 149.6,166.6 149.9,167.5 150.1,168.5 150.4,169.5 150.7,170.5 151.0,171.4 151.3,172.4 151.6,173.4 151.9,174.4 152.2,175.3 152.5,176.3 152.8,177.3 153.1,178.3 153.4,179.2 153.8,180.2 154.1,181.2 154.4,182.1 154.8,183.1 155.1,184.1 155.4,185.0 155.8,186.0 156.2,186.9 156.5,187.9 156.9,188.8 157.3,189.7 157.7,190.7 158.1,191.6 158.5,192.5 158.9,193.4 159.3,194.3 159.7,195.2 160.2,196.1 160.6,197.0 161.1,197.9 161.5,198.8 162.0,199.7 162.5,200.5 163.0,201.4 163.5,202.2 164.0,203.1 164.5,203.9 165.1,204.7 165.6,205.5 166.2,206.3 166.8,207.1 167.3,207.9 167.9,208.7 168.6,209.4 169.2,210.2 169.8,210.9 170.5,211.6 171.1,212.4 171.8,213.1 172.5,213.8 173.2,214.4 173.9,215.1 174.6,215.8 175.3,216.4 176.1,217.0 176.8,217.6 177.6,218.2 178.4,218.8 179.2,219.4 179.9,220.0 180.8,220.5 181.6,221.0 182.4,221.5 183.3,222.0 184.1,222.5 185.0,223.0 185.8,223.4 186.7,223.9 187.6,224.3 188.5,224.7 189.4,225.1 190.3,225.5 191.3,225.9 192.2,226.2 193.1,226.6 194.1,226.9 195.0,227.2 196.0,227.5 196.9,227.8 197.9,228.1 198.9,228.4 199.8,228.6 200.8,228.9 201.8,229.1 202.8,229.4 203.8,229.6 204.8,229.8 205.8,230.0 206.8,230.2 207.8,230.4 208.8,230.6 209.8,230.7 210.8,230.9 211.8,231.0 212.9,231.2 213.9,231.3 214.9,231.4 215.9,231.5 216.9,231.6 217.9,231.8 219.0,231.8 220.0,231.9 221.0,232.0 222.0,232.1 223.0,232.2 224.1,232.2 225.1,232.3 226.1,232.4 227.1,232.4 228.1,232.4 229.2,232.5 230.2,232.5 231.2,232.6 232.2,232.6 233.2,232.6 234.2,232.6 235.2,232.7 236.3,232.7 237.3,232.7 238.3,232.7 239.3,232.7 240.3,232.7 241.3,232.7 242.3,232.7 243.3,232.7 244.3,232.7 245.3,232.7 246.2,232.7 247.2,232.7 248.2,232.7 249.2,232.7 250.2,232.7 251.1,232.7 252.1,232.7 253.1,232.7 254.0,232.7 255.0,232.7 255.9,232.8 256.9,232.8 257.8,232.8 258.8,232.8 259.7,232.8" fill="none" stroke="#b85ea8" stroke-width="2.8" stroke-linejoin="round"/>
<line x1="148.15" y1="233.20" x2="257.80" y2="233.20" stroke="#111" stroke-width="1" stroke-dasharray="2.2,1.8"/>
</g>
<path d="M200.95,248.90v-5M200.95,124.60v5M253.75,248.90v-5M253.75,124.60v5M164.04,248.90v-3M164.04,124.60v3M173.34,248.90v-3M173.34,124.60v3M179.94,248.90v-3M179.94,124.60v3M185.06,248.90v-3M185.06,124.60v3M189.24,248.90v-3M189.24,124.60v3M192.77,248.90v-3M192.77,124.60v3M195.83,248.90v-3M195.83,124.60v3M198.53,248.90v-3M198.53,124.60v3M216.84,248.90v-3M216.84,124.60v3M226.14,248.90v-3M226.14,124.60v3M232.74,248.90v-3M232.74,124.60v3M237.86,248.90v-3M237.86,124.60v3M242.04,248.90v-3M242.04,124.60v3M245.57,248.90v-3M245.57,124.60v3M248.63,248.90v-3M248.63,124.60v3M251.33,248.90v-3M251.33,124.60v3M148.15,233.20h5M257.80,233.20h-5M148.15,211.20h5M257.80,211.20h-5M148.15,189.20h5M257.80,189.20h-5M148.15,167.20h5M257.80,167.20h-5M148.15,145.20h5M257.80,145.20h-5M148.15,244.20h3M257.80,244.20h-3M148.15,222.20h3M257.80,222.20h-3M148.15,200.20h3M257.80,200.20h-3M148.15,178.20h3M257.80,178.20h-3M148.15,156.20h3M257.80,156.20h-3M148.15,134.20h3M257.80,134.20h-3" stroke="#1a1a1a" stroke-width="0.9" fill="none"/>
<rect x="148.15" y="124.60" width="109.65" height="124.30" fill="none" stroke="#1a1a1a" stroke-width="0.9"/>
<text x="206.75" y="145.20" font-family="'Liberation Serif', 'DejaVu Serif', serif" font-size="13" fill="#111">u</text>
<g clip-path="url(#c12)">
<path d="M256.8,94.6 272.6,94.6 272.6,124.6 272.7,126.3 274.3,135.5 276.6,147.0 278.9,158.6 280.6,162.0 282.9,170.0 285.8,174.8 288.1,180.5 290.5,186.3 295.0,189.7 297.0,193.0 299.5,197.0 302.6,200.2 304.2,203.0 304.9,196.6 305.2,193.1 305.8,193.1 306.1,196.6 306.8,203.0 307.3,204.9 308.2,205.7 309.4,207.3 310.6,208.6 311.7,209.7 312.8,209.3 313.8,212.8 314.8,210.8 315.7,213.4 316.6,213.0 317.5,213.4 318.3,213.2 319.1,216.4 319.9,214.9 320.6,215.3 321.4,217.1 322.1,217.8 322.8,218.0 323.4,217.7 324.1,216.6 324.7,218.3 325.3,216.8 325.9,219.2 326.5,219.7 327.1,219.6 327.6,218.9 328.2,220.9 328.7,220.7 329.2,218.3 329.7,219.1 330.2,221.3 330.7,220.8 331.1,220.4 331.6,221.4 332.1,220.9 332.5,222.7 332.9,222.4 333.4,222.7 333.8,221.7 334.2,221.1 334.6,223.5 335.0,223.8 335.4,222.5 335.8,224.0 336.2,223.0 336.5,223.3 336.9,224.0 337.3,226.3 337.6,225.3 338.0,223.5 338.3,225.3 338.7,225.1 339.0,225.3 339.3,225.3 339.7,225.1 340.0,223.2 340.3,224.5 340.6,225.8 340.9,226.1 341.2,226.2 341.5,226.2 341.8,224.0 342.1,225.9 342.4,227.4 342.7,223.7 343.0,226.9 343.2,228.9 343.5,226.6 343.8,226.9 344.0,227.7 344.3,226.8 344.6,227.9 344.8,224.7 345.1,226.6 345.3,229.3 345.6,229.2 345.8,228.7 346.1,228.4 346.3,226.6 346.6,227.4 346.8,228.7 347.0,228.0 347.3,228.5 347.5,229.1 347.7,228.0 348.0,227.7 348.2,227.8 348.4,228.5 348.6,228.6 348.8,227.7 349.1,226.4 349.3,228.7 349.5,228.1 349.7,227.8 349.9,228.2 350.1,228.1 350.3,226.3 350.5,229.5 350.7,229.4 350.9,229.2 351.1,230.5 351.3,227.8 351.5,229.2 351.7,229.8 351.9,228.9 352.1,229.3 352.3,228.5 352.4,229.7 352.6,228.5 352.8,228.9 353.0,231.4 353.2,230.6 353.3,229.1 353.5,228.4 353.7,228.7 353.9,231.0 354.0,229.5 354.2,230.2 354.4,228.8 354.6,228.9 354.7,229.8 354.9,230.6 355.1,231.8 355.2,228.7 355.4,228.6 355.5,228.5 355.7,231.0 355.9,230.8 356.0,228.3 356.2,229.7 356.3,229.7 356.5,230.6 356.6,229.0 356.8,228.2 357.0,228.7 357.1,232.1 357.3,230.8 357.4,230.4 357.6,230.2 357.7,229.7 357.8,230.2 358.0,230.6 358.1,230.7 358.3,230.6 358.4,229.2 358.6,230.0 358.7,231.3 358.8,229.5 359.0,230.8 359.1,230.9 359.3,230.9 359.4,231.9 359.5,230.3 359.7,230.4 359.8,230.2 359.9,230.7 360.1,229.9 360.2,230.7 360.3,230.3 360.5,231.0 360.6,229.9 360.7,231.0 360.9,230.6 361.0,229.6 361.1,230.8 361.2,229.6 361.4,232.3 361.5,229.9 361.6,233.6 361.7,230.3 361.9,233.5 362.0,230.5 362.1,231.3 362.2,230.7 362.3,231.0 362.5,228.5 362.6,230.3 362.7,229.6 362.8,230.8 362.9,230.5 363.1,229.2 363.2,231.1 363.3,231.4 363.4,231.3 363.5,230.6 363.6,232.6 363.7,231.0 363.9,229.4 364.0,230.7 364.1,230.4 364.2,232.2 364.3,231.3 364.4,230.3 364.5,231.0 364.6,231.2 364.7,229.6 364.8,231.8 365.0,230.1 365.1,231.4 365.2,230.8 365.3,230.6 365.4,230.7 365.5,231.9 365.6,230.1 365.7,229.7 365.8,230.8 365.9,230.7 366.0,229.3 366.1,230.9 366.2,230.2 366.3,231.2 366.4,232.2 366.5,230.2 366.6,231.6 366.7,232.5 366.8,231.0 366.9,229.6 367.0,231.5 367.1,232.9 367.2,232.5 367.3,233.1 367.4,230.9 367.4,233.8 367.3,234.8 367.2,233.2 367.1,234.6 367.0,233.3 366.9,233.3 366.8,233.0 366.7,233.1 366.6,234.2 366.5,232.8 366.4,234.3 366.3,235.5 366.2,234.8 366.1,234.7 366.0,234.6 365.9,233.8 365.8,234.4 365.7,234.1 365.6,233.8 365.5,234.1 365.4,235.1 365.3,233.6 365.2,233.5 365.1,233.4 365.0,232.9 364.8,233.8 364.7,234.8 364.6,235.7 364.5,234.5 364.4,234.3 364.3,233.3 364.2,234.9 364.1,233.4 364.0,235.2 363.9,234.2 363.7,233.0 363.6,235.1 363.5,233.1 363.4,234.1 363.3,235.1 363.2,233.1 363.1,233.1 362.9,233.7 362.8,233.5 362.7,234.1 362.6,234.8 362.5,234.3 362.3,234.9 362.2,235.7 362.1,233.0 362.0,233.0 361.9,235.4 361.7,233.2 361.6,235.1 361.5,235.4 361.4,232.9 361.2,234.4 361.1,235.3 361.0,234.7 360.9,235.6 360.7,232.6 360.6,234.5 360.5,233.8 360.3,235.3 360.2,234.7 360.1,233.7 359.9,235.5 359.8,234.3 359.7,233.7 359.5,233.7 359.4,233.8 359.3,234.4 359.1,233.6 359.0,235.5 358.8,233.7 358.7,235.4 358.6,234.5 358.4,234.9 358.3,235.1 358.1,234.8 358.0,234.3 357.8,233.9 357.7,234.2 357.6,234.9 357.4,234.1 357.3,232.7 357.1,234.7 357.0,235.4 356.8,233.4 356.6,232.6 356.5,234.4 356.3,234.9 356.2,235.9 356.0,234.0 355.9,234.1 355.7,234.4 355.5,234.4 355.4,235.2 355.2,233.2 355.1,234.3 354.9,235.1 354.7,234.4 354.6,234.3 354.4,234.0 354.2,234.3 354.0,234.8 353.9,234.2 353.7,235.4 353.5,233.5 353.3,235.4 353.2,235.2 353.0,234.7 352.8,234.9 352.6,234.7 352.4,235.3 352.3,234.7 352.1,234.9 351.9,234.9 351.7,235.2 351.5,233.2 351.3,234.5 351.1,235.0 350.9,235.2 350.7,235.2 350.5,235.1 350.3,234.7 350.1,235.3 349.9,233.6 349.7,235.4 349.5,234.7 349.3,234.4 349.1,234.6 348.8,234.5 348.6,234.1 348.4,234.3 348.2,233.6 348.0,235.5 347.7,235.7 347.5,235.2 347.3,234.7 347.0,234.9 346.8,235.3 346.6,235.4 346.3,234.1 346.1,236.1 345.8,233.9 345.6,235.7 345.3,234.1 345.1,234.8 344.8,234.7 344.6,234.8 344.3,235.1 344.0,235.5 343.8,234.8 343.5,234.0 343.2,235.5 343.0,233.8 342.7,233.9 342.4,235.0 342.1,233.3 341.8,235.6 341.5,235.1 341.2,234.9 340.9,234.0 340.6,236.2 340.3,235.4 340.0,234.5 339.7,235.8 339.3,235.3 339.0,235.8 338.7,236.6 338.3,234.8 338.0,235.2 337.6,236.2 337.3,234.9 336.9,236.2 336.5,235.5 336.2,234.9 335.8,234.9 335.4,234.7 335.0,237.5 334.6,237.0 334.2,235.5 333.8,238.0 333.4,237.2 332.9,236.5 332.5,234.8 332.1,236.6 331.6,236.0 331.1,236.6 330.7,237.2 330.2,237.6 329.7,237.1 329.2,239.5 328.7,241.8 328.2,240.9 327.6,241.4 327.1,239.8 326.5,239.4 325.9,239.8 325.3,240.3 324.7,237.2 324.1,238.4 323.4,238.7 322.8,239.8 322.1,239.4 321.4,241.2 320.6,249.7 319.9,258.4 319.1,258.4 318.3,258.2 257.0,258.3 Z" fill="#e4dbee"/>
<path d="M257.1,85.4 257.2,86.3 257.3,87.3 257.4,88.2 257.5,89.2 257.6,90.1 257.7,91.1 257.7,92.0 257.8,93.0 257.9,93.9 258.0,94.9 258.1,95.9 258.1,96.8 258.2,97.8 258.3,98.8 258.4,99.8 258.4,100.7 258.5,101.7 258.6,102.7 258.6,103.7 258.7,104.7 258.8,105.7 258.8,106.7 258.9,107.6 259.0,108.6 259.0,109.6 259.1,110.6 259.2,111.6 259.3,112.6 259.3,113.6 259.4,114.6 259.5,115.6 259.5,116.7 259.6,117.7 259.7,118.7 259.8,119.7 259.8,120.7 259.9,121.7 260.0,122.7 260.1,123.7 260.2,124.7 260.3,125.7 260.4,126.8 260.5,127.8 260.6,128.8 260.7,129.8 260.8,130.8 260.9,131.8 261.0,132.8 261.1,133.8 261.2,134.9 261.3,135.9 261.4,136.9 261.6,137.9 261.7,138.9 261.8,139.9 262.0,140.9 262.1,141.9 262.3,142.9 262.4,143.9 262.6,145.0 262.8,146.0 262.9,147.0 263.1,148.0 263.3,149.0 263.5,150.0 263.7,151.0 263.9,151.9 264.1,152.9 264.3,153.9 264.5,154.9 264.7,155.9 264.9,156.9 265.2,157.9 265.4,158.9 265.6,159.8 265.9,160.8 266.2,161.8 266.4,162.8 266.7,163.7 267.0,164.7 267.3,165.7 267.6,166.6 267.9,167.6 268.2,168.5 268.5,169.5 268.9,170.4 269.2,171.4 269.5,172.3 269.9,173.3 270.3,174.2 270.6,175.1 271.0,176.1 271.4,177.0 271.8,177.9 272.2,178.8 272.6,179.7 273.0,180.6 273.5,181.5 273.9,182.4 274.4,183.3 274.8,184.2 275.3,185.1 275.8,185.9 276.2,186.8 276.7,187.7 277.2,188.5 277.7,189.4 278.2,190.2 278.8,191.1 279.3,191.9 279.8,192.7 280.4,193.6 280.9,194.4 281.5,195.2 282.1,196.0 282.7,196.8 283.2,197.6 283.8,198.3 284.4,199.1 285.1,199.9 285.7,200.6 286.3,201.4 287.0,202.1 287.6,202.8 288.3,203.6 288.9,204.3 289.6,205.0 290.3,205.7 291.0,206.4 291.7,207.1 292.4,207.7 293.1,208.4 293.8,209.0 294.5,209.7 295.3,210.3 296.0,210.9 296.8,211.5 297.6,212.2 298.3,212.7 299.1,213.3 299.9,213.9 300.7,214.5 301.5,215.0 302.3,215.6 303.1,216.1 303.9,216.6 304.8,217.2 305.6,217.7 306.5,218.2 307.3,218.7 308.2,219.1 309.0,219.6 309.9,220.1 310.8,220.5 311.7,221.0 312.5,221.4 313.4,221.8 314.3,222.3 315.2,222.7 316.1,223.1 317.1,223.5 318.0,223.8 318.9,224.2 319.8,224.6 320.8,224.9 321.7,225.3 322.7,225.6 323.6,225.9 324.6,226.2 325.5,226.6 326.5,226.9 327.4,227.1 328.4,227.4 329.4,227.7 330.3,228.0 331.3,228.2 332.3,228.5 333.3,228.7 334.3,228.9 335.3,229.2 336.2,229.4 337.2,229.6 338.2,229.8 339.2,229.9 340.2,230.1 341.2,230.3 342.3,230.5 343.3,230.6 344.3,230.7 345.3,230.9 346.3,231.0 347.3,231.1 348.3,231.2 349.3,231.3 350.4,231.4 351.4,231.5 352.4,231.6 353.4,231.6 354.4,231.7 355.4,231.8 356.5,231.8 357.5,231.8 358.5,231.8 359.5,231.9 360.5,231.9 361.6,231.9 362.6,231.9 363.6,231.8 364.6,231.8 365.6,231.8 366.7,231.7 367.7,231.7 368.7,231.6 369.7,231.6 369.4,233.2 368.5,233.1 367.5,233.1 366.6,233.1 365.6,233.0 364.6,233.0 363.7,233.0 362.7,232.9 361.7,232.9 360.8,232.9 359.8,232.9 358.8,232.9 357.8,232.9 356.8,232.9 355.8,232.9 354.8,233.0 353.8,233.0 352.8,233.0 351.8,233.0 350.8,233.0 349.8,233.1 348.8,233.1 347.8,233.1 346.8,233.1 345.8,233.2 344.8,233.2 343.8,233.2 342.8,233.2 341.7,233.3 340.7,233.3 339.7,233.3 338.7,233.3 337.7,233.3 336.7,233.4 335.6,233.4 334.6,233.4 333.6,233.4 332.6,233.4 331.6,233.4 330.6,233.4 329.6,233.4 328.5,233.4 327.5,233.3 326.5,233.3 325.5,233.3 324.5,233.3 323.5,233.2 322.5,233.2 321.5,233.1 320.5,233.1 319.5,233.0 318.5,232.9 317.5,232.8 316.5,232.7 315.5,232.7 314.6,232.5 313.6,232.4 312.6,232.3 311.6,232.2 310.7,232.0 309.7,231.9 308.7,231.7 307.8,231.5 306.8,231.3 305.9,231.1 304.9,230.9 304.0,230.7 303.0,230.5 302.1,230.2 301.2,230.0 300.2,229.7 299.3,229.4 298.4,229.1 297.5,228.8 296.6,228.5 295.7,228.1 294.8,227.8 293.9,227.4 293.1,227.0 292.2,226.6 291.3,226.2 290.5,225.7 289.6,225.3 288.8,224.8 287.9,224.3 287.1,223.8 286.3,223.3 285.4,222.8 284.6,222.2 283.8,221.7 283.0,221.1 282.2,220.5 281.5,219.9 280.7,219.2 279.9,218.6 279.2,217.9 278.4,217.3 277.7,216.6 277.0,215.9 276.2,215.2 275.5,214.5 274.8,213.8 274.1,213.0 273.5,212.3 272.8,211.5 272.1,210.8 271.5,210.0 270.8,209.2 270.2,208.4 269.6,207.6 268.9,206.8 268.3,206.0 267.8,205.2 267.2,204.3 266.6,203.5 266.0,202.7 265.5,201.8 265.0,201.0 264.4,200.1 263.9,199.2 263.4,198.4 262.9,197.5 262.5,196.6 262.0,195.7 261.5,194.9 261.1,194.0 260.7,193.1 260.3,192.2 259.9,191.3 259.5,190.4 259.1,189.5 258.7,188.6 258.4,187.7 258.0,186.8 257.7,186.0 257.4,185.1 257.1,184.2 Z" fill="#d4aed6"/>
<path d="M257.1,142.9 257.3,143.8 257.4,144.7 257.6,145.6 257.7,146.6 257.9,147.5 258.1,148.4 258.2,149.3 258.4,150.3 258.6,151.2 258.8,152.2 259.0,153.1 259.2,154.1 259.4,155.0 259.6,156.0 259.8,157.0 260.0,157.9 260.2,158.9 260.4,159.9 260.6,160.9 260.9,161.8 261.1,162.8 261.3,163.8 261.6,164.8 261.9,165.8 262.1,166.7 262.4,167.7 262.6,168.7 262.9,169.7 263.2,170.7 263.5,171.7 263.8,172.7 264.1,173.6 264.4,174.6 264.7,175.6 265.0,176.6 265.4,177.6 265.7,178.5 266.0,179.5 266.4,180.5 266.7,181.4 267.1,182.4 267.5,183.4 267.9,184.3 268.2,185.3 268.6,186.2 269.0,187.1 269.4,188.1 269.9,189.0 270.3,189.9 270.7,190.9 271.2,191.8 271.6,192.7 272.1,193.6 272.5,194.5 273.0,195.4 273.5,196.3 274.0,197.2 274.5,198.0 275.0,198.9 275.5,199.7 276.0,200.6 276.6,201.4 277.1,202.3 277.7,203.1 278.2,203.9 278.8,204.7 279.4,205.5 280.0,206.3 280.6,207.1 281.2,207.8 281.8,208.6 282.5,209.3 283.1,210.0 283.7,210.8 284.4,211.5 285.1,212.2 285.8,212.9 286.5,213.5 287.2,214.2 287.9,214.8 288.6,215.5 289.4,216.1 290.1,216.7 290.9,217.3 291.6,217.9 292.4,218.5 293.2,219.0 294.0,219.6 294.8,220.1 295.6,220.6 296.4,221.1 297.3,221.6 298.1,222.1 299.0,222.6 299.8,223.0 300.7,223.5 301.6,223.9 302.5,224.3 303.3,224.8 304.2,225.2 305.1,225.5 306.1,225.9 307.0,226.3 307.9,226.6 308.8,227.0 309.8,227.3 310.7,227.6 311.7,227.9 312.6,228.2 313.6,228.5 314.5,228.7 315.5,229.0 316.5,229.2 317.4,229.5 318.4,229.7 319.4,229.9 320.4,230.1 321.4,230.3 322.4,230.5 323.4,230.6 324.4,230.8 325.4,230.9 326.4,231.1 327.4,231.2 328.4,231.3 329.4,231.4 330.5,231.5 331.5,231.6 332.5,231.7 333.5,231.8 334.5,231.9 335.6,231.9 336.6,232.0 337.6,232.1 338.6,232.1 339.7,232.2 340.7,232.2 341.7,232.2 342.7,232.3 343.7,232.3 344.8,232.3 345.8,232.3 346.8,232.4 347.8,232.4 348.8,232.4 349.9,232.4 350.9,232.4 351.9,232.4 352.9,232.4 353.9,232.4 354.9,232.5 355.9,232.5 356.9,232.5 357.9,232.5 358.9,232.5 359.8,232.5 360.8,232.5 361.8,232.6 362.8,232.6 363.7,232.6 364.7,232.7 365.7,232.7 366.6,232.7 367.6,232.8 368.5,232.8 369.4,232.9" fill="none" stroke="#b85ea8" stroke-width="2.8" stroke-linejoin="round"/>
<line x1="257.80" y1="233.20" x2="367.45" y2="233.20" stroke="#111" stroke-width="1" stroke-dasharray="2.2,1.8"/>
</g>
<path d="M310.60,248.90v-5M310.60,124.60v5M363.40,248.90v-5M363.40,124.60v5M273.69,248.90v-3M273.69,124.60v3M282.99,248.90v-3M282.99,124.60v3M289.59,248.90v-3M289.59,124.60v3M294.71,248.90v-3M294.71,124.60v3M298.89,248.90v-3M298.89,124.60v3M302.42,248.90v-3M302.42,124.60v3M305.48,248.90v-3M305.48,124.60v3M308.18,248.90v-3M308.18,124.60v3M326.49,248.90v-3M326.49,124.60v3M335.79,248.90v-3M335.79,124.60v3M342.39,248.90v-3M342.39,124.60v3M347.51,248.90v-3M347.51,124.60v3M351.69,248.90v-3M351.69,124.60v3M355.22,248.90v-3M355.22,124.60v3M358.28,248.90v-3M358.28,124.60v3M360.98,248.90v-3M360.98,124.60v3M257.80,233.20h5M367.45,233.20h-5M257.80,211.20h5M367.45,211.20h-5M257.80,189.20h5M367.45,189.20h-5M257.80,167.20h5M367.45,167.20h-5M257.80,145.20h5M367.45,145.20h-5M257.80,244.20h3M367.45,244.20h-3M257.80,222.20h3M367.45,222.20h-3M257.80,200.20h3M367.45,200.20h-3M257.80,178.20h3M367.45,178.20h-3M257.80,156.20h3M367.45,156.20h-3M257.80,134.20h3M367.45,134.20h-3" stroke="#1a1a1a" stroke-width="0.9" fill="none"/>
<rect x="257.80" y="124.60" width="109.65" height="124.30" fill="none" stroke="#1a1a1a" stroke-width="0.9"/>
<text x="316.40" y="145.20" font-family="'Liberation Serif', 'DejaVu Serif', serif" font-size="13" fill="#111">B</text>
<g clip-path="url(#c13)">
<path d="M366.4,94.6 382.2,94.6 382.2,124.6 382.3,126.3 383.9,135.5 386.2,147.0 388.5,158.6 390.2,162.0 392.5,170.0 395.4,174.8 397.8,180.5 400.1,186.3 404.6,189.7 406.6,193.0 409.5,197.0 412.6,200.2 413.8,202.7 414.5,196.5 414.8,193.1 415.4,193.1 415.7,196.5 416.4,202.7 417.3,204.9 417.8,205.3 419.1,206.6 420.2,207.5 421.4,208.0 422.4,211.1 423.5,210.2 424.4,210.7 425.4,213.3 426.3,211.7 427.1,212.3 428.0,214.5 428.8,215.8 429.5,216.3 430.3,215.7 431.0,215.4 431.7,218.4 432.4,220.5 433.1,218.5 433.7,217.9 434.4,218.8 435.0,218.0 435.6,218.9 436.1,218.6 436.7,219.1 437.3,219.7 437.8,220.1 438.3,219.8 438.8,222.1 439.3,220.5 439.8,221.5 440.3,222.2 440.8,222.7 441.3,220.2 441.7,222.3 442.2,222.8 442.6,222.6 443.0,222.1 443.4,224.0 443.9,222.2 444.3,223.4 444.7,223.1 445.1,224.2 445.4,224.5 445.8,222.3 446.2,222.3 446.6,223.9 446.9,223.8 447.3,224.7 447.6,225.1 448.0,223.4 448.3,223.9 448.6,224.8 449.0,227.7 449.3,223.6 449.6,225.3 449.9,225.8 450.3,226.2 450.6,225.6 450.9,225.5 451.2,226.0 451.5,225.9 451.8,226.0 452.0,226.8 452.3,225.2 452.6,226.0 452.9,227.5 453.2,226.5 453.4,226.3 453.7,225.7 454.0,226.4 454.2,227.0 454.5,227.1 454.7,227.6 455.0,227.5 455.2,228.5 455.5,226.5 455.7,229.3 456.0,228.4 456.2,228.1 456.5,225.8 456.7,228.7 456.9,225.2 457.2,227.6 457.4,223.8 457.6,227.5 457.8,228.1 458.1,227.8 458.3,227.3 458.5,227.6 458.7,225.5 458.9,228.2 459.1,227.4 459.3,228.9 459.5,229.9 459.8,229.8 460.0,227.1 460.2,227.5 460.4,228.5 460.6,229.4 460.8,228.1 461.0,228.4 461.1,228.8 461.3,228.3 461.5,228.7 461.7,228.7 461.9,228.7 462.1,228.7 462.3,229.3 462.5,228.2 462.6,226.6 462.8,228.5 463.0,229.9 463.2,229.0 463.3,227.9 463.5,229.4 463.7,230.1 463.9,227.6 464.0,227.7 464.2,228.2 464.4,228.2 464.5,231.2 464.7,228.3 464.9,230.3 465.0,230.3 465.2,230.2 465.4,229.9 465.5,228.8 465.7,229.1 465.8,228.5 466.0,228.8 466.1,228.6 466.3,229.7 466.5,229.1 466.6,230.2 466.8,231.0 466.9,232.3 467.1,229.8 467.2,228.4 467.4,231.4 467.5,229.8 467.6,230.8 467.8,228.8 467.9,229.6 468.1,230.3 468.2,229.2 468.4,231.4 468.5,231.8 468.6,230.6 468.8,229.7 468.9,229.6 469.1,230.0 469.2,230.0 469.3,229.6 469.5,231.0 469.6,229.5 469.7,230.3 469.9,231.9 470.0,229.6 470.1,230.5 470.2,229.9 470.4,230.8 470.5,229.9 470.6,228.6 470.8,229.8 470.9,229.7 471.0,231.4 471.1,230.3 471.3,230.6 471.4,230.6 471.5,230.5 471.6,229.4 471.8,229.2 471.9,229.2 472.0,229.7 472.1,229.1 472.2,230.9 472.4,233.3 472.5,230.3 472.6,227.9 472.7,230.8 472.8,229.5 472.9,231.5 473.0,230.8 473.2,229.4 473.3,231.6 473.4,230.6 473.5,230.7 473.6,230.3 473.7,233.6 473.8,230.8 473.9,231.0 474.1,231.0 474.2,230.0 474.3,230.9 474.4,230.9 474.5,232.7 474.6,230.0 474.7,232.4 474.8,230.4 474.9,230.0 475.0,231.6 475.1,231.1 475.2,231.3 475.3,231.6 475.4,230.7 475.5,231.6 475.6,231.7 475.8,231.9 475.9,230.7 476.0,230.8 476.1,229.7 476.2,229.9 476.3,231.6 476.4,231.4 476.5,230.7 476.6,230.9 476.7,231.2 476.7,232.7 476.8,232.1 476.9,231.5 477.0,230.4 477.0,233.7 476.9,234.6 476.8,233.7 476.7,232.9 476.7,232.2 476.6,233.8 476.5,234.8 476.4,232.8 476.3,234.1 476.2,234.3 476.1,232.5 476.0,233.7 475.9,234.7 475.8,234.3 475.6,233.8 475.5,234.3 475.4,234.3 475.3,234.8 475.2,234.1 475.1,233.7 475.0,234.3 474.9,234.0 474.8,234.4 474.7,231.8 474.6,233.1 474.5,233.8 474.4,234.9 474.3,234.2 474.2,233.0 474.1,232.8 473.9,234.9 473.8,233.8 473.7,233.3 473.6,233.2 473.5,233.5 473.4,233.5 473.3,234.3 473.2,234.6 473.0,234.5 472.9,234.8 472.8,234.1 472.7,233.4 472.6,234.2 472.5,234.8 472.4,233.7 472.2,234.2 472.1,233.6 472.0,233.9 471.9,233.1 471.8,235.4 471.6,234.1 471.5,235.0 471.4,234.0 471.3,234.9 471.1,234.2 471.0,233.9 470.9,232.9 470.8,235.3 470.6,234.2 470.5,233.7 470.4,233.6 470.2,234.4 470.1,234.6 470.0,233.5 469.9,233.6 469.7,235.7 469.6,234.3 469.5,233.7 469.3,233.1 469.2,233.8 469.1,234.7 468.9,235.1 468.8,233.8 468.6,233.9 468.5,235.2 468.4,234.4 468.2,234.0 468.1,233.9 467.9,233.5 467.8,234.4 467.6,234.8 467.5,234.1 467.4,234.2 467.2,233.7 467.1,234.6 466.9,235.5 466.8,233.3 466.6,233.7 466.5,234.1 466.3,234.0 466.1,232.9 466.0,233.7 465.8,233.7 465.7,234.2 465.5,234.8 465.4,234.0 465.2,233.5 465.0,234.5 464.9,233.9 464.7,235.5 464.5,233.7 464.4,233.4 464.2,234.2 464.0,234.6 463.9,234.8 463.7,233.6 463.5,234.6 463.3,235.8 463.2,234.6 463.0,234.1 462.8,234.9 462.6,234.5 462.5,233.0 462.3,235.2 462.1,235.9 461.9,234.5 461.7,233.1 461.5,233.5 461.3,235.1 461.1,233.5 461.0,233.9 460.8,232.8 460.6,235.5 460.4,235.1 460.2,234.9 460.0,233.8 459.8,234.5 459.5,235.4 459.3,234.7 459.1,235.4 458.9,235.2 458.7,234.9 458.5,234.4 458.3,234.8 458.1,234.1 457.8,233.7 457.6,234.9 457.4,233.5 457.2,233.0 456.9,234.6 456.7,234.3 456.5,235.3 456.2,235.4 456.0,233.1 455.7,234.3 455.5,234.0 455.2,235.2 455.0,235.4 454.7,235.2 454.5,234.2 454.2,234.3 454.0,233.8 453.7,234.4 453.4,235.4 453.2,234.2 452.9,236.7 452.6,234.7 452.3,235.2 452.0,235.4 451.8,234.6 451.5,235.5 451.2,234.6 450.9,235.5 450.6,235.8 450.3,236.8 449.9,235.8 449.6,236.6 449.3,233.7 449.0,234.5 448.6,234.8 448.3,235.8 448.0,235.1 447.6,234.9 447.3,235.0 446.9,235.7 446.6,235.2 446.2,234.8 445.8,235.4 445.4,236.5 445.1,235.9 444.7,234.5 444.3,235.6 443.9,234.7 443.4,235.4 443.0,235.2 442.6,236.6 442.2,236.4 441.7,236.1 441.3,236.5 440.8,237.6 440.3,236.2 439.8,236.3 439.3,238.3 438.8,239.7 438.3,238.8 437.8,240.4 437.3,241.3 436.7,240.3 436.1,240.4 435.6,239.4 435.0,238.7 434.4,237.4 433.7,238.3 433.1,240.6 432.4,240.2 431.7,242.5 431.0,247.6 430.3,254.7 429.5,258.8 428.8,258.6 428.0,258.3 367.0,258.3 Z" fill="#e4dbee"/>
<path d="M366.8,85.4 366.9,86.3 367.0,87.3 367.0,88.2 367.1,89.2 367.2,90.1 367.3,91.1 367.4,92.0 367.5,93.0 367.6,93.9 367.6,94.9 367.7,95.9 367.8,96.8 367.9,97.8 367.9,98.8 368.0,99.7 368.1,100.7 368.2,101.7 368.2,102.7 368.3,103.7 368.4,104.7 368.4,105.6 368.5,106.6 368.6,107.6 368.6,108.6 368.7,109.6 368.8,110.6 368.8,111.6 368.9,112.6 369.0,113.6 369.1,114.6 369.1,115.6 369.2,116.6 369.3,117.6 369.3,118.7 369.4,119.7 369.5,120.7 369.6,121.7 369.7,122.7 369.8,123.7 369.8,124.7 369.9,125.7 370.0,126.7 370.1,127.8 370.2,128.8 370.3,129.8 370.4,130.8 370.5,131.8 370.6,132.8 370.7,133.8 370.9,134.8 371.0,135.9 371.1,136.9 371.2,137.9 371.4,138.9 371.5,139.9 371.6,140.9 371.8,141.9 371.9,142.9 372.1,143.9 372.2,144.9 372.4,145.9 372.6,146.9 372.7,148.0 372.9,149.0 373.1,149.9 373.3,150.9 373.5,151.9 373.7,152.9 373.9,153.9 374.1,154.9 374.3,155.9 374.6,156.9 374.8,157.9 375.0,158.9 375.3,159.8 375.5,160.8 375.8,161.8 376.1,162.8 376.3,163.7 376.6,164.7 376.9,165.7 377.2,166.6 377.5,167.6 377.8,168.5 378.2,169.5 378.5,170.4 378.8,171.4 379.2,172.3 379.5,173.3 379.9,174.2 380.3,175.1 380.7,176.0 381.0,177.0 381.4,177.9 381.8,178.8 382.3,179.7 382.7,180.6 383.1,181.5 383.5,182.4 384.0,183.3 384.5,184.2 384.9,185.1 385.4,185.9 385.9,186.8 386.4,187.7 386.9,188.5 387.4,189.4 387.9,190.2 388.4,191.1 388.9,191.9 389.5,192.7 390.0,193.5 390.6,194.4 391.1,195.2 391.7,196.0 392.3,196.8 392.9,197.5 393.5,198.3 394.1,199.1 394.7,199.8 395.3,200.6 396.0,201.3 396.6,202.1 397.2,202.8 397.9,203.5 398.6,204.3 399.2,205.0 399.9,205.7 400.6,206.3 401.3,207.0 402.0,207.7 402.7,208.3 403.5,209.0 404.2,209.6 404.9,210.3 405.7,210.9 406.4,211.5 407.2,212.1 408.0,212.7 408.8,213.3 409.5,213.9 410.3,214.4 411.1,215.0 412.0,215.5 412.8,216.1 413.6,216.6 414.4,217.1 415.3,217.6 416.1,218.1 417.0,218.6 417.8,219.1 418.7,219.6 419.6,220.0 420.4,220.5 421.3,220.9 422.2,221.3 423.1,221.8 424.0,222.2 424.9,222.6 425.8,223.0 426.7,223.4 427.6,223.8 428.6,224.1 429.5,224.5 430.4,224.8 431.4,225.2 432.3,225.5 433.3,225.9 434.2,226.2 435.2,226.5 436.1,226.8 437.1,227.1 438.1,227.3 439.0,227.6 440.0,227.9 441.0,228.1 442.0,228.4 442.9,228.6 443.9,228.9 444.9,229.1 445.9,229.3 446.9,229.5 447.9,229.7 448.9,229.9 449.9,230.0 450.9,230.2 451.9,230.4 452.9,230.5 453.9,230.7 454.9,230.8 456.0,230.9 457.0,231.1 458.0,231.2 459.0,231.3 460.0,231.4 461.0,231.4 462.1,231.5 463.1,231.6 464.1,231.7 465.1,231.7 466.1,231.7 467.1,231.8 468.2,231.8 469.2,231.8 470.2,231.8 471.2,231.8 472.2,231.8 473.3,231.8 474.3,231.8 475.3,231.8 476.3,231.7 477.3,231.7 478.3,231.6 479.3,231.6 479.1,233.2 478.1,233.1 477.2,233.1 476.2,233.0 475.3,233.0 474.3,232.9 473.3,232.9 472.4,232.9 471.4,232.8 470.4,232.8 469.4,232.8 468.5,232.8 467.5,232.8 466.5,232.8 465.5,232.8 464.5,232.8 463.5,232.8 462.5,232.8 461.5,232.8 460.5,232.8 459.5,232.9 458.5,232.9 457.5,232.9 456.4,232.9 455.4,233.0 454.4,233.0 453.4,233.0 452.4,233.0 451.4,233.1 450.3,233.1 449.3,233.1 448.3,233.1 447.3,233.1 446.2,233.2 445.2,233.2 444.2,233.2 443.2,233.2 442.2,233.2 441.1,233.2 440.1,233.2 439.1,233.2 438.1,233.2 437.1,233.2 436.0,233.2 435.0,233.2 434.0,233.1 433.0,233.1 432.0,233.0 431.0,233.0 430.0,232.9 429.0,232.9 428.0,232.8 427.0,232.7 426.0,232.6 425.0,232.6 424.0,232.4 423.0,232.3 422.0,232.2 421.0,232.1 420.1,231.9 419.1,231.8 418.1,231.6 417.1,231.4 416.2,231.3 415.2,231.1 414.3,230.9 413.3,230.6 412.4,230.4 411.4,230.1 410.5,229.9 409.6,229.6 408.7,229.3 407.7,229.0 406.8,228.7 405.9,228.4 405.0,228.0 404.1,227.7 403.2,227.3 402.3,226.9 401.5,226.5 400.6,226.1 399.7,225.6 398.9,225.2 398.0,224.7 397.2,224.2 396.4,223.7 395.5,223.1 394.7,222.6 393.9,222.0 393.1,221.4 392.3,220.8 391.5,220.2 390.7,219.6 390.0,219.0 389.2,218.3 388.4,217.7 387.7,217.0 387.0,216.3 386.2,215.6 385.5,214.9 384.8,214.1 384.1,213.4 383.4,212.6 382.7,211.9 382.1,211.1 381.4,210.3 380.8,209.6 380.1,208.8 379.5,208.0 378.9,207.1 378.3,206.3 377.7,205.5 377.1,204.7 376.5,203.8 376.0,203.0 375.4,202.1 374.9,201.3 374.4,200.4 373.9,199.5 373.4,198.7 372.9,197.8 372.4,196.9 371.9,196.0 371.5,195.2 371.0,194.3 370.6,193.4 370.2,192.5 369.8,191.6 369.4,190.7 369.1,189.9 368.7,189.0 368.4,188.1 368.0,187.2 367.7,186.3 Z" fill="#d4aed6"/>
<path d="M367.8,147.2 367.9,148.1 368.1,149.0 368.2,149.9 368.4,150.8 368.5,151.8 368.7,152.7 368.9,153.6 369.1,154.6 369.2,155.5 369.4,156.5 369.6,157.4 369.8,158.4 370.0,159.3 370.2,160.3 370.5,161.3 370.7,162.2 370.9,163.2 371.2,164.2 371.4,165.2 371.6,166.1 371.9,167.1 372.2,168.1 372.4,169.1 372.7,170.0 373.0,171.0 373.3,172.0 373.5,173.0 373.8,173.9 374.1,174.9 374.5,175.9 374.8,176.9 375.1,177.8 375.4,178.8 375.8,179.8 376.1,180.7 376.5,181.7 376.8,182.7 377.2,183.6 377.6,184.6 378.0,185.5 378.4,186.5 378.8,187.4 379.2,188.3 379.6,189.3 380.0,190.2 380.5,191.1 380.9,192.0 381.3,192.9 381.8,193.8 382.3,194.7 382.7,195.6 383.2,196.5 383.7,197.4 384.2,198.2 384.7,199.1 385.3,200.0 385.8,200.8 386.3,201.6 386.9,202.5 387.4,203.3 388.0,204.1 388.6,204.9 389.2,205.7 389.8,206.5 390.4,207.2 391.0,208.0 391.6,208.8 392.2,209.5 392.9,210.2 393.5,211.0 394.2,211.7 394.9,212.4 395.6,213.0 396.3,213.7 397.0,214.4 397.7,215.0 398.4,215.6 399.2,216.3 399.9,216.9 400.7,217.5 401.4,218.0 402.2,218.6 403.0,219.2 403.8,219.7 404.6,220.2 405.4,220.8 406.3,221.3 407.1,221.8 407.9,222.2 408.8,222.7 409.7,223.2 410.5,223.6 411.4,224.0 412.3,224.5 413.2,224.9 414.1,225.3 415.0,225.6 415.9,226.0 416.8,226.4 417.7,226.7 418.6,227.1 419.6,227.4 420.5,227.7 421.5,228.0 422.4,228.3 423.4,228.6 424.3,228.8 425.3,229.1 426.3,229.3 427.2,229.6 428.2,229.8 429.2,230.0 430.2,230.2 431.2,230.4 432.2,230.6 433.2,230.7 434.2,230.9 435.2,231.0 436.2,231.2 437.2,231.3 438.2,231.4 439.2,231.6 440.2,231.7 441.2,231.8 442.3,231.8 443.3,231.9 444.3,232.0 445.3,232.1 446.3,232.1 447.4,232.2 448.4,232.2 449.4,232.3 450.4,232.3 451.4,232.4 452.5,232.4 453.5,232.4 454.5,232.5 455.5,232.5 456.5,232.5 457.5,232.5 458.6,232.5 459.6,232.5 460.6,232.6 461.6,232.6 462.6,232.6 463.6,232.6 464.6,232.6 465.6,232.6 466.6,232.6 467.6,232.6 468.5,232.6 469.5,232.6 470.5,232.6 471.5,232.7 472.4,232.7 473.4,232.7 474.4,232.7 475.3,232.7 476.3,232.8 477.2,232.8 478.1,232.8 479.1,232.9" fill="none" stroke="#b85ea8" stroke-width="2.8" stroke-linejoin="round"/>
<line x1="367.45" y1="233.20" x2="477.10" y2="233.20" stroke="#111" stroke-width="1" stroke-dasharray="2.2,1.8"/>
</g>
<path d="M420.25,248.90v-5M420.25,124.60v5M473.05,248.90v-5M473.05,124.60v5M383.34,248.90v-3M383.34,124.60v3M392.64,248.90v-3M392.64,124.60v3M399.24,248.90v-3M399.24,124.60v3M404.36,248.90v-3M404.36,124.60v3M408.54,248.90v-3M408.54,124.60v3M412.07,248.90v-3M412.07,124.60v3M415.13,248.90v-3M415.13,124.60v3M417.83,248.90v-3M417.83,124.60v3M436.14,248.90v-3M436.14,124.60v3M445.44,248.90v-3M445.44,124.60v3M452.04,248.90v-3M452.04,124.60v3M457.16,248.90v-3M457.16,124.60v3M461.34,248.90v-3M461.34,124.60v3M464.87,248.90v-3M464.87,124.60v3M467.93,248.90v-3M467.93,124.60v3M470.63,248.90v-3M470.63,124.60v3M367.45,233.20h5M477.10,233.20h-5M367.45,211.20h5M477.10,211.20h-5M367.45,189.20h5M477.10,189.20h-5M367.45,167.20h5M477.10,167.20h-5M367.45,145.20h5M477.10,145.20h-5M367.45,244.20h3M477.10,244.20h-3M367.45,222.20h3M477.10,222.20h-3M367.45,200.20h3M477.10,200.20h-3M367.45,178.20h3M477.10,178.20h-3M367.45,156.20h3M477.10,156.20h-3M367.45,134.20h3M477.10,134.20h-3" stroke="#1a1a1a" stroke-width="0.9" fill="none"/>
<rect x="367.45" y="124.60" width="109.65" height="124.30" fill="none" stroke="#1a1a1a" stroke-width="0.9"/>
<text x="426.05" y="145.20" font-family="'Liberation Serif', 'DejaVu Serif', serif" font-size="13" fill="#111">B<tspan font-size="9.1" dy="2.2">swift</tspan></text>
<g clip-path="url(#c14)">
<path d="M476.1,94.6 491.9,94.6 491.9,124.6 492.0,126.3 493.6,135.5 495.9,147.0 498.2,158.6 499.9,162.0 502.2,170.0 505.1,174.8 507.4,180.5 509.8,186.3 514.3,189.7 516.3,193.0 519.5,195.4 522.6,198.6 523.5,200.8 524.2,195.3 524.5,192.3 525.1,192.3 525.4,195.3 526.1,200.8 527.5,203.5 528.7,205.3 529.9,205.3 531.0,207.2 532.1,209.7 533.1,212.1 534.1,209.9 535.0,211.9 535.9,209.8 536.8,212.3 537.6,212.9 538.4,213.3 539.2,214.4 539.9,214.6 540.7,216.5 541.4,213.9 542.1,218.1 542.7,215.7 543.4,219.0 544.0,219.4 544.6,220.3 545.2,218.8 545.8,218.4 546.4,218.7 546.9,220.4 547.5,219.4 548.0,219.7 548.5,220.5 549.0,218.4 549.5,218.3 550.0,221.4 550.4,221.1 550.9,221.9 551.4,222.5 551.8,221.0 552.2,221.6 552.7,223.1 553.1,221.5 553.5,223.3 553.9,222.5 554.3,222.4 554.7,222.6 555.1,223.5 555.5,223.2 555.8,222.9 556.2,225.2 556.6,224.8 556.9,223.6 557.3,224.8 557.6,225.3 558.0,224.4 558.3,224.1 558.6,223.6 559.0,225.1 559.3,224.4 559.6,225.6 559.9,224.9 560.2,225.3 560.5,226.9 560.8,226.4 561.1,226.6 561.4,226.3 561.7,226.3 562.0,227.8 562.3,226.9 562.5,226.5 562.8,226.7 563.1,227.3 563.3,226.7 563.6,226.2 563.9,228.5 564.1,226.6 564.4,227.5 564.6,225.9 564.9,227.3 565.1,227.7 565.4,227.3 565.6,225.8 565.9,227.4 566.1,228.3 566.3,228.0 566.6,225.5 566.8,228.0 567.0,226.6 567.3,227.6 567.5,228.8 567.7,228.2 567.9,227.7 568.1,226.9 568.4,229.0 568.6,228.6 568.8,226.5 569.0,228.6 569.2,226.6 569.4,226.0 569.6,228.9 569.8,228.8 570.0,228.2 570.2,227.3 570.4,227.9 570.6,228.6 570.8,228.9 571.0,230.5 571.2,230.1 571.4,228.4 571.6,229.0 571.7,229.4 571.9,230.4 572.1,228.1 572.3,229.1 572.5,230.3 572.6,229.3 572.8,227.0 573.0,228.4 573.2,231.3 573.3,227.9 573.5,229.8 573.7,229.4 573.9,229.7 574.0,230.8 574.2,230.9 574.4,230.4 574.5,231.6 574.7,229.7 574.8,230.2 575.0,229.9 575.2,227.8 575.3,231.5 575.5,227.2 575.6,229.5 575.8,228.7 575.9,230.9 576.1,229.9 576.3,230.4 576.4,229.5 576.6,227.9 576.7,230.7 576.9,228.6 577.0,228.3 577.1,229.8 577.3,231.7 577.4,229.9 577.6,229.7 577.7,229.6 577.9,230.5 578.0,228.8 578.1,230.4 578.3,229.3 578.4,229.5 578.6,230.5 578.7,231.2 578.8,230.7 579.0,229.4 579.1,230.4 579.2,229.1 579.4,229.5 579.5,231.3 579.6,230.2 579.8,228.9 579.9,231.5 580.0,230.9 580.2,230.4 580.3,230.0 580.4,230.7 580.5,230.8 580.7,230.4 580.8,231.0 580.9,230.9 581.0,232.1 581.2,229.7 581.3,232.2 581.4,228.6 581.5,232.1 581.6,229.9 581.8,230.9 581.9,230.9 582.0,232.4 582.1,231.3 582.2,230.6 582.4,230.7 582.5,231.2 582.6,230.9 582.7,231.3 582.8,231.1 582.9,230.0 583.0,229.1 583.2,231.4 583.3,230.0 583.4,231.0 583.5,230.5 583.6,231.8 583.7,229.5 583.8,229.7 583.9,229.9 584.0,231.0 584.1,230.3 584.3,231.4 584.4,231.7 584.5,229.1 584.6,228.8 584.7,230.2 584.8,230.7 584.9,231.5 585.0,232.3 585.1,231.4 585.2,231.6 585.3,231.5 585.4,232.5 585.5,230.7 585.6,232.1 585.7,233.3 585.8,231.9 585.9,232.1 586.0,229.1 586.1,231.1 586.2,230.6 586.3,229.8 586.4,231.4 586.5,231.0 586.6,230.7 586.7,229.9 586.7,233.8 586.6,235.2 586.5,233.0 586.4,232.9 586.3,235.2 586.2,235.6 586.1,232.6 586.0,234.6 585.9,232.8 585.8,234.3 585.7,232.9 585.6,234.2 585.5,234.7 585.4,235.3 585.3,234.5 585.2,232.8 585.1,234.4 585.0,233.2 584.9,233.0 584.8,234.1 584.7,233.9 584.6,233.8 584.5,234.0 584.4,233.7 584.3,232.8 584.1,235.4 584.0,233.8 583.9,234.0 583.8,233.8 583.7,234.3 583.6,235.1 583.5,234.5 583.4,233.9 583.3,232.7 583.2,232.6 583.0,235.5 582.9,233.9 582.8,234.0 582.7,234.9 582.6,234.8 582.5,234.7 582.4,232.7 582.2,234.0 582.1,232.8 582.0,234.7 581.9,233.8 581.8,234.4 581.6,233.4 581.5,234.2 581.4,233.8 581.3,234.0 581.2,234.6 581.0,234.3 580.9,235.3 580.8,234.1 580.7,234.9 580.5,233.4 580.4,234.8 580.3,233.8 580.2,234.1 580.0,233.2 579.9,234.9 579.8,234.5 579.6,233.8 579.5,233.8 579.4,235.0 579.2,234.5 579.1,233.5 579.0,234.8 578.8,234.3 578.7,233.3 578.6,234.7 578.4,233.6 578.3,233.8 578.1,234.6 578.0,233.0 577.9,233.7 577.7,233.8 577.6,233.0 577.4,235.2 577.3,234.9 577.1,234.8 577.0,234.0 576.9,235.0 576.7,235.0 576.6,233.9 576.4,234.2 576.3,233.7 576.1,233.7 575.9,232.9 575.8,234.1 575.6,232.7 575.5,235.3 575.3,233.4 575.2,235.5 575.0,235.4 574.8,234.9 574.7,236.9 574.5,235.6 574.4,234.3 574.2,235.7 574.0,233.0 573.9,234.2 573.7,233.8 573.5,233.6 573.3,233.7 573.2,233.3 573.0,235.5 572.8,233.9 572.6,234.8 572.5,233.9 572.3,234.1 572.1,234.0 571.9,236.3 571.7,232.8 571.6,233.5 571.4,234.3 571.2,234.1 571.0,235.6 570.8,234.1 570.6,234.3 570.4,234.7 570.2,234.8 570.0,234.9 569.8,234.0 569.6,233.9 569.4,234.7 569.2,233.6 569.0,234.9 568.8,234.8 568.6,234.2 568.4,234.4 568.1,235.8 567.9,235.5 567.7,235.7 567.5,235.5 567.3,234.8 567.0,234.5 566.8,235.0 566.6,233.9 566.3,234.9 566.1,235.5 565.9,234.1 565.6,235.1 565.4,236.9 565.1,236.1 564.9,236.0 564.6,237.0 564.4,236.2 564.1,235.7 563.9,234.6 563.6,236.3 563.3,234.6 563.1,234.7 562.8,235.4 562.5,235.3 562.3,234.5 562.0,234.0 561.7,236.0 561.4,235.3 561.1,234.7 560.8,234.2 560.5,234.5 560.2,234.8 559.9,236.4 559.6,233.8 559.3,236.5 559.0,235.2 558.6,235.2 558.3,235.4 558.0,235.7 557.6,235.8 557.3,234.5 556.9,235.0 556.6,234.0 556.2,236.6 555.8,235.2 555.5,235.6 555.1,236.2 554.7,237.1 554.3,235.4 553.9,236.7 553.5,236.7 553.1,235.8 552.7,236.1 552.2,235.8 551.8,237.4 551.4,237.9 550.9,237.3 550.4,237.7 550.0,238.1 549.5,238.2 549.0,238.3 548.5,239.6 548.0,241.8 547.5,241.5 546.9,241.5 546.4,239.9 545.8,238.9 545.2,239.7 544.6,238.6 544.0,239.7 543.4,239.3 542.7,240.8 542.1,241.5 541.4,243.3 540.7,250.5 539.9,258.3 539.2,258.4 538.4,258.4 537.6,258.3 477.0,258.3 Z" fill="#e4dbee"/>
<path d="M476.4,85.4 476.5,86.3 476.6,87.3 476.7,88.2 476.8,89.2 476.9,90.1 477.0,91.1 477.1,92.0 477.1,93.0 477.2,93.9 477.3,94.9 477.4,95.9 477.5,96.8 477.5,97.8 477.6,98.8 477.7,99.7 477.7,100.7 477.8,101.7 477.9,102.7 478.0,103.7 478.0,104.6 478.1,105.6 478.2,106.6 478.2,107.6 478.3,108.6 478.4,109.6 478.4,110.6 478.5,111.6 478.6,112.6 478.6,113.6 478.7,114.6 478.8,115.6 478.9,116.6 478.9,117.6 479.0,118.6 479.1,119.6 479.2,120.7 479.2,121.7 479.3,122.7 479.4,123.7 479.5,124.7 479.6,125.7 479.7,126.7 479.8,127.7 479.9,128.8 480.0,129.8 480.1,130.8 480.2,131.8 480.3,132.8 480.4,133.8 480.5,134.8 480.6,135.9 480.8,136.9 480.9,137.9 481.0,138.9 481.1,139.9 481.3,140.9 481.4,141.9 481.6,142.9 481.7,143.9 481.9,144.9 482.1,145.9 482.2,146.9 482.4,147.9 482.6,148.9 482.8,149.9 482.9,150.9 483.1,151.9 483.3,152.9 483.6,153.9 483.8,154.9 484.0,155.9 484.2,156.9 484.4,157.9 484.7,158.9 484.9,159.8 485.2,160.8 485.4,161.8 485.7,162.8 486.0,163.7 486.3,164.7 486.6,165.7 486.9,166.6 487.2,167.6 487.5,168.5 487.8,169.5 488.1,170.4 488.5,171.4 488.8,172.3 489.2,173.2 489.5,174.2 489.9,175.1 490.3,176.0 490.7,177.0 491.1,177.9 491.5,178.8 491.9,179.7 492.3,180.6 492.7,181.5 493.2,182.4 493.6,183.3 494.1,184.2 494.6,185.1 495.0,185.9 495.5,186.8 496.0,187.7 496.5,188.5 497.0,189.4 497.5,190.2 498.0,191.1 498.6,191.9 499.1,192.7 499.7,193.5 500.2,194.3 500.8,195.1 501.3,195.9 501.9,196.7 502.5,197.5 503.1,198.3 503.7,199.1 504.3,199.8 505.0,200.6 505.6,201.3 506.2,202.1 506.9,202.8 507.5,203.5 508.2,204.2 508.9,204.9 509.6,205.6 510.3,206.3 511.0,207.0 511.7,207.7 512.4,208.3 513.1,209.0 513.8,209.6 514.6,210.2 515.3,210.9 516.1,211.5 516.8,212.1 517.6,212.7 518.4,213.2 519.2,213.8 520.0,214.4 520.8,214.9 521.6,215.5 522.4,216.0 523.2,216.5 524.1,217.1 524.9,217.6 525.8,218.1 526.6,218.5 527.5,219.0 528.3,219.5 529.2,220.0 530.1,220.4 531.0,220.8 531.9,221.3 532.8,221.7 533.7,222.1 534.6,222.5 535.5,222.9 536.4,223.3 537.3,223.7 538.2,224.1 539.2,224.4 540.1,224.8 541.0,225.1 542.0,225.4 542.9,225.8 543.9,226.1 544.8,226.4 545.8,226.7 546.8,227.0 547.7,227.3 548.7,227.5 549.7,227.8 550.7,228.1 551.6,228.3 552.6,228.5 553.6,228.8 554.6,229.0 555.6,229.2 556.6,229.4 557.6,229.6 558.6,229.8 559.6,230.0 560.6,230.1 561.6,230.3 562.6,230.5 563.6,230.6 564.6,230.7 565.6,230.9 566.6,231.0 567.7,231.1 568.7,231.2 569.7,231.3 570.7,231.4 571.7,231.5 572.7,231.5 573.8,231.6 574.8,231.7 575.8,231.7 576.8,231.7 577.8,231.8 578.8,231.8 579.9,231.8 580.9,231.8 581.9,231.8 582.9,231.8 583.9,231.8 584.9,231.8 585.9,231.7 587.0,231.7 588.0,231.7 589.0,231.6 588.7,233.2 587.8,233.1 586.8,233.1 585.9,233.0 584.9,233.0 584.0,232.9 583.0,232.9 582.0,232.9 581.1,232.9 580.1,232.9 579.1,232.9 578.1,232.8 577.1,232.8 576.1,232.9 575.1,232.9 574.1,232.9 573.2,232.9 572.2,232.9 571.2,232.9 570.1,232.9 569.1,233.0 568.1,233.0 567.1,233.0 566.1,233.0 565.1,233.1 564.1,233.1 563.1,233.1 562.1,233.1 561.1,233.2 560.0,233.2 559.0,233.2 558.0,233.2 557.0,233.2 556.0,233.3 555.0,233.3 553.9,233.3 552.9,233.3 551.9,233.3 550.9,233.3 549.9,233.3 548.9,233.3 547.9,233.3 546.8,233.3 545.8,233.3 544.8,233.2 543.8,233.2 542.8,233.2 541.8,233.1 540.8,233.1 539.8,233.0 538.8,232.9 537.8,232.9 536.8,232.8 535.8,232.7 534.8,232.6 533.9,232.5 532.9,232.4 531.9,232.3 530.9,232.1 530.0,232.0 529.0,231.8 528.0,231.7 527.1,231.5 526.1,231.3 525.2,231.1 524.2,230.9 523.3,230.7 522.3,230.5 521.4,230.2 520.5,230.0 519.5,229.7 518.6,229.4 517.7,229.1 516.8,228.8 515.9,228.5 515.0,228.1 514.1,227.8 513.2,227.4 512.4,227.0 511.5,226.6 510.6,226.2 509.8,225.8 508.9,225.3 508.1,224.8 507.2,224.3 506.4,223.8 505.6,223.3 504.7,222.8 503.9,222.2 503.1,221.7 502.3,221.1 501.5,220.5 500.8,219.9 500.0,219.3 499.2,218.6 498.5,218.0 497.7,217.3 497.0,216.6 496.3,215.9 495.5,215.2 494.8,214.5 494.1,213.8 493.4,213.0 492.8,212.3 492.1,211.5 491.4,210.8 490.8,210.0 490.1,209.2 489.5,208.4 488.9,207.6 488.2,206.8 487.6,206.0 487.1,205.2 486.5,204.3 485.9,203.5 485.3,202.6 484.8,201.8 484.3,200.9 483.7,200.1 483.2,199.2 482.7,198.4 482.2,197.5 481.8,196.6 481.3,195.7 480.8,194.8 480.4,194.0 480.0,193.1 479.6,192.2 479.2,191.3 478.8,190.4 478.4,189.5 478.0,188.6 477.7,187.7 477.3,186.8 477.0,186.0 476.7,185.1 476.4,184.2 Z" fill="#d4aed6"/>
<path d="M476.4,142.9 476.6,143.8 476.7,144.7 476.9,145.6 477.0,146.6 477.2,147.5 477.4,148.5 477.5,149.4 477.7,150.4 477.9,151.3 478.1,152.3 478.3,153.2 478.5,154.2 478.7,155.1 478.9,156.1 479.1,157.1 479.3,158.0 479.5,159.0 479.7,160.0 479.9,160.9 480.2,161.9 480.4,162.9 480.6,163.8 480.9,164.8 481.1,165.8 481.4,166.8 481.7,167.7 481.9,168.7 482.2,169.7 482.5,170.7 482.8,171.6 483.1,172.6 483.4,173.6 483.7,174.6 484.0,175.5 484.3,176.5 484.7,177.5 485.0,178.4 485.3,179.4 485.7,180.4 486.0,181.3 486.4,182.3 486.8,183.3 487.1,184.2 487.5,185.2 487.9,186.1 488.3,187.1 488.7,188.0 489.1,188.9 489.6,189.9 490.0,190.8 490.4,191.7 490.9,192.6 491.3,193.6 491.8,194.5 492.3,195.4 492.8,196.3 493.3,197.1 493.8,198.0 494.3,198.9 494.8,199.8 495.3,200.6 495.8,201.5 496.4,202.3 496.9,203.1 497.5,203.9 498.1,204.7 498.7,205.5 499.3,206.3 499.9,207.1 500.5,207.9 501.1,208.6 501.7,209.4 502.4,210.1 503.0,210.8 503.7,211.5 504.4,212.2 505.0,212.9 505.7,213.6 506.4,214.3 507.2,214.9 507.9,215.5 508.6,216.1 509.4,216.7 510.1,217.3 510.9,217.9 511.7,218.5 512.5,219.0 513.3,219.5 514.1,220.0 514.9,220.6 515.7,221.0 516.6,221.5 517.4,222.0 518.3,222.5 519.1,222.9 520.0,223.3 520.9,223.7 521.8,224.2 522.6,224.6 523.5,224.9 524.4,225.3 525.4,225.7 526.3,226.0 527.2,226.4 528.1,226.7 529.1,227.0 530.0,227.3 531.0,227.6 531.9,227.9 532.9,228.2 533.8,228.5 534.8,228.7 535.8,229.0 536.8,229.2 537.7,229.5 538.7,229.7 539.7,229.9 540.7,230.1 541.7,230.3 542.7,230.5 543.7,230.7 544.7,230.8 545.7,231.0 546.7,231.2 547.7,231.3 548.8,231.5 549.8,231.6 550.8,231.7 551.8,231.8 552.8,232.0 553.9,232.1 554.9,232.2 555.9,232.3 556.9,232.3 558.0,232.4 559.0,232.5 560.0,232.6 561.0,232.6 562.1,232.7 563.1,232.7 564.1,232.8 565.1,232.8 566.1,232.9 567.2,232.9 568.2,232.9 569.2,233.0 570.2,233.0 571.2,233.0 572.2,233.0 573.2,233.0 574.2,233.0 575.2,233.0 576.2,233.0 577.2,233.0 578.2,233.0 579.2,233.0 580.1,233.0 581.1,233.0 582.1,232.9 583.1,232.9 584.0,232.9 585.0,232.9 585.9,232.8 586.9,232.8 587.8,232.8 588.7,232.8" fill="none" stroke="#b85ea8" stroke-width="2.8" stroke-linejoin="round"/>
<line x1="477.10" y1="233.20" x2="586.75" y2="233.20" stroke="#111" stroke-width="1" stroke-dasharray="2.2,1.8"/>
</g>
<path d="M529.90,248.90v-5M529.90,124.60v5M582.70,248.90v-5M582.70,124.60v5M492.99,248.90v-3M492.99,124.60v3M502.29,248.90v-3M502.29,124.60v3M508.89,248.90v-3M508.89,124.60v3M514.01,248.90v-3M514.01,124.60v3M518.19,248.90v-3M518.19,124.60v3M521.72,248.90v-3M521.72,124.60v3M524.78,248.90v-3M524.78,124.60v3M527.48,248.90v-3M527.48,124.60v3M545.79,248.90v-3M545.79,124.60v3M555.09,248.90v-3M555.09,124.60v3M561.69,248.90v-3M561.69,124.60v3M566.81,248.90v-3M566.81,124.60v3M570.99,248.90v-3M570.99,124.60v3M574.52,248.90v-3M574.52,124.60v3M577.58,248.90v-3M577.58,124.60v3M580.28,248.90v-3M580.28,124.60v3M477.10,233.20h5M586.75,233.20h-5M477.10,211.20h5M586.75,211.20h-5M477.10,189.20h5M586.75,189.20h-5M477.10,167.20h5M586.75,167.20h-5M477.10,145.20h5M586.75,145.20h-5M477.10,244.20h3M586.75,244.20h-3M477.10,222.20h3M586.75,222.20h-3M477.10,200.20h3M586.75,200.20h-3M477.10,178.20h3M586.75,178.20h-3M477.10,156.20h3M586.75,156.20h-3M477.10,134.20h3M586.75,134.20h-3" stroke="#1a1a1a" stroke-width="0.9" fill="none"/>
<rect x="477.10" y="124.60" width="109.65" height="124.30" fill="none" stroke="#1a1a1a" stroke-width="0.9"/>
<text x="535.70" y="145.20" font-family="'Liberation Serif', 'DejaVu Serif', serif" font-size="13" fill="#111">g</text>
<g clip-path="url(#c15)">
<path d="M585.8,94.6 603.2,94.6 603.3,124.6 603.3,126.3 605.0,135.5 607.3,147.0 609.6,149.3 612.5,158.6 616.0,170.0 619.4,174.8 622.9,180.5 626.0,184.0 628.7,190.7 631.0,193.9 633.1,199.3 633.8,192.7 634.1,189.1 634.7,189.1 635.0,192.7 635.7,199.3 637.1,203.0 638.4,204.5 639.5,206.0 640.7,206.3 641.7,207.5 642.8,207.0 643.7,209.1 644.7,211.1 645.6,210.2 646.4,211.3 647.3,212.9 648.1,214.9 648.8,213.0 649.6,214.8 650.3,215.6 651.0,214.8 651.7,216.3 652.4,216.8 653.0,216.9 653.7,214.7 654.3,217.8 654.9,218.2 655.4,217.9 656.0,218.0 656.6,216.1 657.1,218.8 657.6,218.3 658.1,216.8 658.6,219.9 659.1,219.0 659.6,218.8 660.1,220.5 660.6,219.9 661.0,221.1 661.5,220.0 661.9,222.0 662.3,220.8 662.7,221.9 663.2,221.3 663.6,223.0 664.0,220.8 664.4,222.2 664.7,222.0 665.1,222.7 665.5,223.8 665.9,224.2 666.2,223.3 666.6,222.2 666.9,223.3 667.3,224.1 667.6,221.7 667.9,222.5 668.3,223.8 668.6,224.1 668.9,223.7 669.2,223.2 669.6,226.2 669.9,224.8 670.2,224.1 670.5,225.2 670.8,227.0 671.1,225.1 671.3,223.7 671.6,225.3 671.9,225.7 672.2,223.1 672.5,228.4 672.7,226.4 673.0,226.2 673.3,226.7 673.5,227.8 673.8,225.7 674.0,226.6 674.3,227.0 674.5,226.5 674.8,226.4 675.0,225.3 675.3,227.5 675.5,226.7 675.8,225.9 676.0,227.3 676.2,225.4 676.5,229.0 676.7,228.3 676.9,228.2 677.1,228.2 677.4,228.2 677.6,225.7 677.8,226.9 678.0,226.6 678.2,226.4 678.4,228.1 678.6,229.2 678.8,228.6 679.1,228.4 679.3,229.0 679.5,228.0 679.7,228.0 679.9,227.8 680.1,228.4 680.3,229.4 680.4,229.3 680.6,227.9 680.8,229.3 681.0,229.3 681.2,228.7 681.4,230.4 681.6,229.0 681.8,227.2 681.9,227.6 682.1,229.6 682.3,228.3 682.5,230.2 682.6,228.3 682.8,228.5 683.0,229.1 683.2,228.3 683.3,228.1 683.5,228.9 683.7,228.9 683.8,229.9 684.0,228.4 684.2,228.2 684.3,228.8 684.5,228.5 684.7,227.8 684.8,228.3 685.0,228.1 685.1,227.1 685.3,229.7 685.4,228.8 685.6,230.6 685.8,230.9 685.9,228.9 686.1,228.7 686.2,228.3 686.4,230.9 686.5,230.6 686.7,230.1 686.8,228.7 686.9,230.3 687.1,227.7 687.2,229.6 687.4,229.6 687.5,227.8 687.7,232.2 687.8,229.7 687.9,230.1 688.1,229.7 688.2,229.6 688.4,229.0 688.5,229.9 688.6,229.4 688.8,230.8 688.9,231.0 689.0,229.1 689.2,230.3 689.3,230.9 689.4,230.0 689.5,229.6 689.7,231.6 689.8,229.8 689.9,229.1 690.1,231.8 690.2,230.7 690.3,231.1 690.4,231.4 690.6,230.3 690.7,227.7 690.8,229.5 690.9,229.8 691.1,229.6 691.2,230.1 691.3,229.6 691.4,230.3 691.5,231.1 691.7,230.0 691.8,230.0 691.9,231.2 692.0,230.1 692.1,229.6 692.2,230.0 692.4,229.4 692.5,229.1 692.6,230.0 692.7,229.0 692.8,231.0 692.9,229.9 693.0,231.9 693.1,230.1 693.2,231.4 693.4,231.7 693.5,230.6 693.6,230.3 693.7,231.6 693.8,233.2 693.9,229.9 694.0,230.1 694.1,228.3 694.2,231.3 694.3,230.5 694.4,230.8 694.5,229.5 694.6,230.7 694.7,231.7 694.8,230.0 694.9,231.6 695.1,230.6 695.2,230.9 695.3,232.0 695.4,231.3 695.5,231.1 695.6,229.2 695.7,231.5 695.8,230.6 695.9,231.4 696.0,232.0 696.0,231.5 696.1,230.8 696.2,231.6 696.3,231.9 696.3,234.1 696.2,234.0 696.1,233.5 696.0,234.3 696.0,234.3 695.9,234.1 695.8,233.7 695.7,233.9 695.6,234.9 695.5,234.3 695.4,234.1 695.3,233.6 695.2,233.3 695.1,233.9 694.9,234.4 694.8,235.3 694.7,234.1 694.6,233.0 694.5,233.7 694.4,234.6 694.3,232.8 694.2,234.6 694.1,233.0 694.0,234.6 693.9,234.9 693.8,234.6 693.7,234.9 693.6,232.9 693.5,234.7 693.4,233.6 693.2,233.5 693.1,232.9 693.0,233.0 692.9,233.2 692.8,234.9 692.7,233.8 692.6,234.5 692.5,236.1 692.4,234.5 692.2,235.7 692.1,233.6 692.0,233.7 691.9,234.3 691.8,233.5 691.7,234.7 691.5,234.5 691.4,234.1 691.3,234.1 691.2,234.2 691.1,234.8 690.9,232.6 690.8,233.8 690.7,233.3 690.6,234.0 690.4,233.6 690.3,233.6 690.2,234.5 690.1,235.3 689.9,233.4 689.8,235.4 689.7,235.6 689.5,232.2 689.4,234.5 689.3,233.7 689.2,235.5 689.0,234.1 688.9,235.7 688.8,233.8 688.6,234.1 688.5,233.1 688.4,233.9 688.2,233.8 688.1,233.6 687.9,234.4 687.8,233.9 687.7,234.0 687.5,233.0 687.4,234.5 687.2,233.7 687.1,233.9 686.9,234.6 686.8,234.2 686.7,233.5 686.5,234.2 686.4,233.4 686.2,233.8 686.1,234.3 685.9,234.2 685.8,235.2 685.6,234.0 685.4,234.0 685.3,234.7 685.1,234.3 685.0,234.6 684.8,235.2 684.7,234.4 684.5,234.4 684.3,234.0 684.2,235.2 684.0,235.6 683.8,234.1 683.7,233.0 683.5,233.8 683.3,234.4 683.2,233.5 683.0,234.7 682.8,234.6 682.6,235.8 682.5,235.3 682.3,233.8 682.1,233.8 681.9,234.4 681.8,234.0 681.6,235.1 681.4,235.2 681.2,234.7 681.0,233.7 680.8,234.2 680.6,235.0 680.4,233.8 680.3,234.0 680.1,236.5 679.9,234.1 679.7,233.5 679.5,233.4 679.3,234.0 679.1,235.1 678.8,234.7 678.6,233.9 678.4,234.2 678.2,234.2 678.0,233.7 677.8,234.8 677.6,235.3 677.4,234.8 677.1,234.5 676.9,234.6 676.7,237.0 676.5,234.8 676.2,234.9 676.0,234.8 675.8,235.8 675.5,234.1 675.3,235.5 675.0,233.8 674.8,235.3 674.5,235.5 674.3,234.4 674.0,234.0 673.8,235.0 673.5,235.3 673.3,235.8 673.0,234.1 672.7,233.3 672.5,235.1 672.2,235.5 671.9,234.5 671.6,235.0 671.3,236.1 671.1,234.6 670.8,234.9 670.5,236.0 670.2,235.2 669.9,235.0 669.6,237.0 669.2,235.5 668.9,236.6 668.6,236.5 668.3,234.6 667.9,234.5 667.6,234.6 667.3,236.2 666.9,236.1 666.6,236.4 666.2,235.7 665.9,236.6 665.5,235.7 665.1,236.2 664.7,237.5 664.4,236.4 664.0,237.2 663.6,236.6 663.2,236.1 662.7,234.6 662.3,236.7 661.9,235.9 661.5,235.7 661.0,235.2 660.6,235.6 660.1,238.1 659.6,236.2 659.1,237.1 658.6,237.5 658.1,235.5 657.6,237.5 657.1,239.0 656.6,240.2 656.0,239.7 655.4,239.9 654.9,238.6 654.3,239.0 653.7,239.7 653.0,239.5 652.4,238.7 651.7,238.4 651.0,244.3 650.3,252.6 649.6,258.3 648.8,258.2 648.1,258.2 647.3,258.3 587.0,258.3 Z" fill="#e4dbee"/>
<path d="M586.0,82.2 586.2,83.2 586.4,84.1 586.6,85.0 586.8,85.9 587.0,86.8 587.2,87.8 587.4,88.7 587.6,89.6 587.7,90.6 587.9,91.5 588.1,92.5 588.2,93.4 588.4,94.4 588.5,95.4 588.7,96.3 588.8,97.3 589.0,98.2 589.1,99.2 589.3,100.2 589.4,101.2 589.5,102.1 589.7,103.1 589.8,104.1 589.9,105.1 590.1,106.1 590.2,107.1 590.3,108.1 590.4,109.1 590.5,110.0 590.7,111.0 590.8,112.0 590.9,113.0 591.0,114.0 591.1,115.0 591.2,116.0 591.4,117.1 591.5,118.1 591.6,119.1 591.7,120.1 591.8,121.1 591.9,122.1 592.1,123.1 592.2,124.1 592.3,125.1 592.4,126.1 592.5,127.2 592.7,128.2 592.8,129.2 592.9,130.2 593.1,131.2 593.2,132.2 593.3,133.2 593.5,134.3 593.6,135.3 593.7,136.3 593.9,137.3 594.0,138.3 594.2,139.3 594.3,140.3 594.5,141.3 594.7,142.3 594.8,143.3 595.0,144.4 595.2,145.4 595.3,146.4 595.5,147.4 595.7,148.4 595.9,149.4 596.1,150.4 596.3,151.4 596.5,152.4 596.7,153.3 596.9,154.3 597.2,155.3 597.4,156.3 597.6,157.3 597.9,158.3 598.1,159.3 598.4,160.2 598.6,161.2 598.9,162.2 599.2,163.2 599.4,164.1 599.7,165.1 600.0,166.1 600.3,167.0 600.6,168.0 601.0,168.9 601.3,169.9 601.6,170.8 602.0,171.8 602.3,172.7 602.7,173.6 603.0,174.6 603.4,175.5 603.8,176.4 604.2,177.3 604.6,178.3 605.0,179.2 605.4,180.1 605.8,181.0 606.3,181.9 606.7,182.8 607.1,183.6 607.6,184.5 608.1,185.4 608.5,186.3 609.0,187.1 609.5,188.0 610.0,188.8 610.5,189.7 611.0,190.5 611.5,191.4 612.1,192.2 612.6,193.0 613.2,193.8 613.7,194.6 614.3,195.4 614.9,196.2 615.4,197.0 616.0,197.8 616.6,198.6 617.2,199.3 617.8,200.1 618.5,200.8 619.1,201.6 619.7,202.3 620.4,203.0 621.0,203.8 621.7,204.5 622.4,205.2 623.1,205.9 623.8,206.5 624.5,207.2 625.2,207.9 625.9,208.5 626.6,209.2 627.3,209.8 628.1,210.4 628.8,211.0 629.6,211.7 630.4,212.3 631.1,212.8 631.9,213.4 632.7,214.0 633.5,214.5 634.3,215.1 635.1,215.6 636.0,216.2 636.8,216.7 637.6,217.2 638.5,217.7 639.3,218.2 640.2,218.7 641.0,219.2 641.9,219.6 642.8,220.1 643.6,220.5 644.5,221.0 645.4,221.4 646.3,221.8 647.2,222.2 648.1,222.6 649.0,223.0 650.0,223.4 650.9,223.8 651.8,224.1 652.7,224.5 653.7,224.9 654.6,225.2 655.6,225.5 656.5,225.8 657.5,226.2 658.4,226.5 659.4,226.8 660.4,227.0 661.3,227.3 662.3,227.6 663.3,227.8 664.3,228.1 665.3,228.3 666.2,228.6 667.2,228.8 668.2,229.0 669.2,229.2 670.2,229.4 671.2,229.6 672.2,229.8 673.2,229.9 674.2,230.1 675.2,230.3 676.3,230.4 677.3,230.5 678.3,230.7 679.3,230.8 680.3,230.9 681.3,231.0 682.3,231.1 683.4,231.2 684.4,231.3 685.4,231.3 686.4,231.4 687.4,231.4 688.5,231.5 689.5,231.5 690.5,231.5 691.5,231.6 692.5,231.6 693.6,231.6 694.6,231.6 695.6,231.6 696.6,231.5 697.6,231.5 698.7,231.5 698.3,233.3 697.4,233.1 696.5,233.0 695.6,232.8 694.7,232.7 693.8,232.6 692.8,232.5 691.9,232.4 691.0,232.4 690.0,232.3 689.1,232.2 688.1,232.2 687.1,232.1 686.2,232.1 685.2,232.1 684.2,232.0 683.3,232.0 682.3,232.0 681.3,232.0 680.3,232.0 679.3,232.0 678.3,232.0 677.3,232.0 676.3,232.0 675.3,232.0 674.3,232.1 673.3,232.1 672.3,232.1 671.3,232.1 670.3,232.2 669.3,232.2 668.2,232.2 667.2,232.3 666.2,232.3 665.2,232.3 664.1,232.3 663.1,232.4 662.1,232.4 661.1,232.4 660.0,232.4 659.0,232.4 658.0,232.5 657.0,232.5 655.9,232.5 654.9,232.5 653.9,232.5 652.8,232.5 651.8,232.4 650.8,232.4 649.8,232.4 648.7,232.3 647.7,232.3 646.7,232.3 645.7,232.2 644.7,232.1 643.7,232.1 642.6,232.0 641.6,231.9 640.6,231.8 639.6,231.7 638.6,231.5 637.6,231.4 636.6,231.2 635.6,231.1 634.6,230.9 633.6,230.7 632.6,230.5 631.7,230.3 630.7,230.1 629.7,229.9 628.7,229.6 627.8,229.3 626.8,229.0 625.9,228.7 624.9,228.4 624.0,228.1 623.1,227.7 622.2,227.4 621.3,227.0 620.4,226.6 619.5,226.2 618.7,225.7 617.8,225.3 617.0,224.8 616.2,224.3 615.4,223.8 614.6,223.2 613.8,222.7 613.0,222.1 612.3,221.5 611.6,220.9 610.9,220.2 610.2,219.5 609.5,218.9 608.8,218.2 608.2,217.4 607.6,216.7 606.9,215.9 606.3,215.2 605.7,214.4 605.2,213.6 604.6,212.8 604.0,212.0 603.5,211.1 602.9,210.3 602.4,209.5 601.9,208.6 601.3,207.8 600.8,206.9 600.3,206.0 599.8,205.2 599.2,204.3 598.7,203.5 598.2,202.6 597.7,201.7 597.2,200.9 596.6,200.0 596.1,199.1 595.6,198.3 595.0,197.4 594.5,196.6 593.9,195.8 593.4,194.9 592.8,194.1 592.2,193.3 591.7,192.5 591.1,191.7 590.5,190.9 589.8,190.1 589.2,189.4 588.6,188.6 587.9,187.9 587.2,187.2 586.6,186.5 Z" fill="#d4aed6"/>
<path d="M585.9,126.4 586.0,127.4 586.2,128.4 586.3,129.4 586.4,130.4 586.6,131.4 586.7,132.4 586.9,133.4 587.0,134.4 587.2,135.4 587.3,136.4 587.5,137.4 587.7,138.4 587.8,139.4 588.0,140.3 588.2,141.3 588.4,142.3 588.6,143.3 588.7,144.3 588.9,145.3 589.1,146.2 589.3,147.2 589.5,148.2 589.7,149.1 589.9,150.1 590.2,151.1 590.4,152.1 590.6,153.0 590.8,154.0 591.1,155.0 591.3,155.9 591.5,156.9 591.8,157.8 592.0,158.8 592.3,159.8 592.5,160.7 592.8,161.7 593.0,162.6 593.3,163.6 593.6,164.5 593.8,165.5 594.1,166.4 594.4,167.4 594.7,168.3 595.0,169.3 595.2,170.2 595.5,171.2 595.8,172.1 596.1,173.1 596.5,174.0 596.8,175.0 597.1,175.9 597.4,176.9 597.7,177.8 598.1,178.8 598.4,179.7 598.7,180.7 599.1,181.6 599.4,182.6 599.8,183.5 600.1,184.4 600.5,185.4 600.9,186.3 601.2,187.3 601.6,188.2 602.0,189.1 602.4,190.1 602.8,191.0 603.2,191.9 603.6,192.8 604.0,193.8 604.5,194.7 604.9,195.6 605.4,196.5 605.8,197.4 606.3,198.3 606.8,199.2 607.2,200.0 607.7,200.9 608.2,201.8 608.7,202.7 609.3,203.5 609.8,204.4 610.3,205.2 610.9,206.0 611.5,206.9 612.0,207.7 612.6,208.5 613.2,209.3 613.8,210.1 614.5,210.8 615.1,211.6 615.8,212.3 616.4,213.1 617.1,213.8 617.8,214.5 618.5,215.1 619.2,215.8 620.0,216.4 620.7,217.0 621.5,217.6 622.3,218.2 623.0,218.8 623.8,219.4 624.7,219.9 625.5,220.4 626.3,220.9 627.1,221.4 628.0,221.9 628.9,222.3 629.7,222.8 630.6,223.2 631.5,223.6 632.4,224.0 633.3,224.4 634.2,224.8 635.1,225.1 636.0,225.5 637.0,225.8 637.9,226.1 638.9,226.5 639.8,226.8 640.8,227.1 641.7,227.3 642.7,227.6 643.7,227.9 644.6,228.1 645.6,228.4 646.6,228.6 647.6,228.8 648.5,229.0 649.5,229.2 650.5,229.4 651.5,229.6 652.5,229.8 653.5,230.0 654.5,230.2 655.5,230.3 656.5,230.5 657.5,230.6 658.5,230.7 659.5,230.9 660.5,231.0 661.6,231.1 662.6,231.2 663.6,231.3 664.6,231.4 665.6,231.5 666.6,231.6 667.6,231.7 668.7,231.8 669.7,231.8 670.7,231.9 671.7,232.0 672.7,232.0 673.7,232.1 674.7,232.1 675.8,232.2 676.8,232.2 677.8,232.3 678.8,232.3 679.8,232.4 680.8,232.4 681.8,232.4 682.8,232.4 683.8,232.5 684.8,232.5 685.8,232.5 686.8,232.5 687.8,232.5 688.7,232.6 689.7,232.6 690.7,232.6 691.7,232.6 692.6,232.6 693.6,232.6 694.6,232.6 695.5,232.7 696.5,232.7 697.4,232.7 698.4,232.7" fill="none" stroke="#b85ea8" stroke-width="2.8" stroke-linejoin="round"/>
<line x1="586.75" y1="233.20" x2="696.40" y2="233.20" stroke="#111" stroke-width="1" stroke-dasharray="2.2,1.8"/>
</g>
<path d="M639.55,248.90v-5M639.55,124.60v5M692.35,248.90v-5M692.35,124.60v5M602.64,248.90v-3M602.64,124.60v3M611.94,248.90v-3M611.94,124.60v3M618.54,248.90v-3M618.54,124.60v3M623.66,248.90v-3M623.66,124.60v3M627.84,248.90v-3M627.84,124.60v3M631.37,248.90v-3M631.37,124.60v3M634.43,248.90v-3M634.43,124.60v3M637.13,248.90v-3M637.13,124.60v3M655.44,248.90v-3M655.44,124.60v3M664.74,248.90v-3M664.74,124.60v3M671.34,248.90v-3M671.34,124.60v3M676.46,248.90v-3M676.46,124.60v3M680.64,248.90v-3M680.64,124.60v3M684.17,248.90v-3M684.17,124.60v3M687.23,248.90v-3M687.23,124.60v3M689.93,248.90v-3M689.93,124.60v3M586.75,233.20h5M696.40,233.20h-5M586.75,211.20h5M696.40,211.20h-5M586.75,189.20h5M696.40,189.20h-5M586.75,167.20h5M696.40,167.20h-5M586.75,145.20h5M696.40,145.20h-5M586.75,244.20h3M696.40,244.20h-3M586.75,222.20h3M696.40,222.20h-3M586.75,200.20h3M696.40,200.20h-3M586.75,178.20h3M696.40,178.20h-3M586.75,156.20h3M696.40,156.20h-3M586.75,134.20h3M696.40,134.20h-3" stroke="#1a1a1a" stroke-width="0.9" fill="none"/>
<rect x="586.75" y="124.60" width="109.65" height="124.30" fill="none" stroke="#1a1a1a" stroke-width="0.9"/>
<text x="645.35" y="145.20" font-family="'Liberation Serif', 'DejaVu Serif', serif" font-size="13" fill="#111">V</text>
<text x="639.55" y="261.10" font-family="'Liberation Serif', 'DejaVu Serif', serif" font-size="12.6" text-anchor="middle" fill="#111">10<tspan font-size="9" dy="-4.8">−1</tspan></text>
<text x="692.35" y="261.10" font-family="'Liberation Serif', 'DejaVu Serif', serif" font-size="12.6" text-anchor="middle" fill="#111">10<tspan font-size="9" dy="-4.8">0</tspan></text>
<g clip-path="url(#c20)">
<path d="M37.5,218.9 57.0,218.9 57.0,248.9 57.0,250.3 58.2,259.5 59.9,268.7 62.2,271.0 65.1,282.6 67.4,289.5 69.7,291.8 70.8,294.1 73.1,298.8 75.4,304.5 78.0,308.0 79.7,310.0 82.0,313.1 84.4,317.1 84.9,320.3 85.6,313.6 85.9,310.0 86.5,310.0 86.8,313.6 87.5,320.3 88.3,324.2 88.9,324.8 90.1,325.9 91.3,327.4 92.4,329.3 93.5,329.7 94.5,331.6 95.5,333.0 96.4,331.7 97.3,333.7 98.2,333.4 99.0,334.7 99.8,337.2 100.6,335.8 101.3,335.7 102.1,335.9 102.8,338.6 103.5,338.5 104.1,338.8 104.8,340.6 105.4,338.4 106.0,340.2 106.6,341.0 107.2,340.8 107.8,342.2 108.3,341.2 108.9,341.7 109.4,342.5 109.9,341.7 110.4,344.0 110.9,344.2 111.4,344.8 111.8,342.8 112.3,344.2 112.8,345.0 113.2,346.2 113.6,342.9 114.1,344.8 114.5,346.8 114.9,346.6 115.3,346.8 115.7,346.2 116.1,347.3 116.5,346.5 116.9,345.8 117.2,347.4 117.6,345.4 118.0,346.5 118.3,346.8 118.7,347.8 119.0,347.4 119.4,346.7 119.7,347.4 120.0,348.0 120.4,348.9 120.7,348.5 121.0,349.1 121.3,347.2 121.6,348.0 121.9,349.4 122.2,348.2 122.5,348.9 122.8,349.1 123.1,348.2 123.4,350.2 123.7,349.0 123.9,350.6 124.2,349.9 124.5,348.9 124.7,350.3 125.0,350.4 125.3,349.4 125.5,350.4 125.8,350.3 126.0,350.5 126.3,350.4 126.5,351.8 126.8,351.4 127.0,351.3 127.3,352.5 127.5,351.0 127.7,350.9 128.0,350.3 128.2,350.6 128.4,350.9 128.7,351.6 128.9,352.2 129.1,351.4 129.3,351.1 129.5,350.7 129.8,350.4 130.0,352.6 130.2,351.3 130.4,351.1 130.6,351.2 130.8,352.5 131.0,352.3 131.2,353.0 131.4,351.3 131.6,351.9 131.8,350.3 132.0,353.3 132.2,352.5 132.4,351.3 132.6,350.0 132.8,352.8 133.0,351.6 133.1,351.6 133.3,352.4 133.5,350.5 133.7,352.5 133.9,352.3 134.0,352.7 134.2,353.8 134.4,353.1 134.6,350.7 134.7,352.0 134.9,351.2 135.1,352.2 135.3,352.5 135.4,354.4 135.6,353.2 135.8,351.8 135.9,352.5 136.1,353.0 136.2,353.1 136.4,353.2 136.6,354.5 136.7,353.0 136.9,354.5 137.0,351.7 137.2,353.9 137.3,353.3 137.5,353.4 137.7,353.0 137.8,353.6 138.0,354.6 138.1,352.6 138.3,354.7 138.4,356.2 138.5,351.2 138.7,352.6 138.8,352.7 139.0,354.6 139.1,354.8 139.3,353.7 139.4,355.2 139.5,352.1 139.7,355.7 139.8,353.3 140.0,355.2 140.1,355.7 140.2,354.3 140.4,353.7 140.5,351.8 140.6,354.0 140.8,355.3 140.9,355.1 141.0,355.1 141.2,353.7 141.3,353.7 141.4,354.1 141.6,353.7 141.7,354.5 141.8,353.8 141.9,353.5 142.1,353.3 142.2,354.7 142.3,353.8 142.4,354.4 142.6,354.3 142.7,352.9 142.8,353.2 142.9,353.6 143.0,355.4 143.2,353.5 143.3,354.1 143.4,354.3 143.5,354.3 143.6,354.6 143.8,354.8 143.9,353.6 144.0,355.4 144.1,355.1 144.2,355.6 144.3,355.3 144.4,356.4 144.6,355.8 144.7,355.2 144.8,353.9 144.9,353.7 145.0,354.6 145.1,352.4 145.2,354.9 145.3,354.2 145.4,356.3 145.5,353.4 145.7,355.2 145.8,354.2 145.9,355.3 146.0,354.9 146.1,357.3 146.2,353.9 146.3,353.4 146.4,354.9 146.5,356.6 146.6,357.4 146.7,353.2 146.8,354.5 146.9,355.5 147.0,355.7 147.1,354.1 147.2,354.3 147.3,356.2 147.4,353.7 147.5,355.0 147.6,354.3 147.7,357.0 147.8,356.4 147.9,354.9 148.0,356.1 148.1,354.6 148.1,358.1 148.0,357.6 147.9,357.0 147.8,357.6 147.7,356.6 147.6,358.4 147.5,356.9 147.4,358.0 147.3,359.6 147.2,358.2 147.1,357.6 147.0,358.2 146.9,357.9 146.8,359.3 146.7,358.2 146.6,357.1 146.5,358.9 146.4,359.8 146.3,357.7 146.2,358.4 146.1,357.9 146.0,358.3 145.9,357.5 145.8,358.2 145.7,356.4 145.5,359.4 145.4,356.9 145.3,357.3 145.2,359.2 145.1,357.5 145.0,357.7 144.9,359.9 144.8,358.9 144.7,357.0 144.6,358.2 144.4,357.0 144.3,357.6 144.2,357.5 144.1,356.8 144.0,356.9 143.9,359.2 143.8,357.8 143.6,356.5 143.5,357.1 143.4,358.9 143.3,357.3 143.2,358.8 143.0,359.8 142.9,358.2 142.8,358.5 142.7,357.8 142.6,358.0 142.4,358.9 142.3,358.4 142.2,358.0 142.1,358.0 141.9,359.2 141.8,357.6 141.7,358.5 141.6,357.9 141.4,358.1 141.3,358.0 141.2,358.2 141.0,358.0 140.9,358.8 140.8,356.4 140.6,359.5 140.5,357.5 140.4,357.4 140.2,358.2 140.1,357.0 140.0,359.0 139.8,357.2 139.7,358.2 139.5,357.8 139.4,359.8 139.3,357.5 139.1,357.8 139.0,360.0 138.8,358.5 138.7,358.4 138.5,358.8 138.4,357.4 138.3,357.3 138.1,358.8 138.0,357.6 137.8,359.1 137.7,358.5 137.5,357.8 137.3,357.4 137.2,357.7 137.0,359.7 136.9,359.3 136.7,357.7 136.6,359.3 136.4,359.1 136.2,358.8 136.1,358.0 135.9,358.2 135.8,359.9 135.6,357.4 135.4,358.4 135.3,356.9 135.1,356.5 134.9,359.2 134.7,357.9 134.6,358.5 134.4,359.6 134.2,359.2 134.0,357.6 133.9,360.6 133.7,359.1 133.5,359.3 133.3,359.3 133.1,359.5 133.0,358.2 132.8,358.5 132.6,359.5 132.4,358.8 132.2,358.3 132.0,358.4 131.8,359.1 131.6,358.9 131.4,358.9 131.2,357.3 131.0,358.0 130.8,357.7 130.6,358.6 130.4,358.6 130.2,358.1 130.0,358.7 129.8,359.5 129.5,357.8 129.3,359.4 129.1,358.0 128.9,359.8 128.7,358.7 128.4,360.5 128.2,358.9 128.0,360.7 127.7,359.2 127.5,359.1 127.3,358.0 127.0,358.2 126.8,359.3 126.5,358.3 126.3,359.3 126.0,358.6 125.8,359.6 125.5,358.0 125.3,358.5 125.0,358.5 124.7,358.6 124.5,358.8 124.2,359.7 123.9,361.2 123.7,359.4 123.4,359.4 123.1,358.5 122.8,358.7 122.5,359.1 122.2,359.6 121.9,359.7 121.6,360.1 121.3,359.7 121.0,360.5 120.7,360.5 120.4,359.3 120.0,360.6 119.7,359.8 119.4,360.1 119.0,359.5 118.7,360.5 118.3,360.1 118.0,359.6 117.6,359.5 117.2,358.9 116.9,360.4 116.5,360.8 116.1,360.9 115.7,360.4 115.3,360.9 114.9,359.6 114.5,361.8 114.1,361.3 113.6,361.4 113.2,362.2 112.8,363.0 112.3,362.3 111.8,360.5 111.4,360.4 110.9,361.6 110.4,362.6 109.9,361.5 109.4,363.5 108.9,362.5 108.3,362.5 107.8,363.0 107.2,363.7 106.6,364.3 106.0,366.2 105.4,365.7 104.8,367.5 104.1,366.7 103.5,367.9 102.8,367.8 102.1,370.4 101.3,377.8 100.6,382.2 99.8,382.3 99.0,382.5 38.0,382.3 Z" fill="#e4dbee"/>
<path d="M37.7,198.0 37.8,198.9 38.0,199.9 38.2,200.8 38.3,201.7 38.5,202.7 38.6,203.6 38.8,204.6 38.9,205.5 39.1,206.5 39.2,207.4 39.4,208.4 39.5,209.3 39.6,210.3 39.8,211.2 39.9,212.2 40.0,213.2 40.2,214.1 40.3,215.1 40.4,216.1 40.6,217.1 40.7,218.0 40.8,219.0 41.0,220.0 41.1,221.0 41.2,221.9 41.3,222.9 41.5,223.9 41.6,224.9 41.7,225.9 41.8,226.9 42.0,227.9 42.1,228.9 42.2,229.9 42.3,230.8 42.5,231.8 42.6,232.8 42.7,233.8 42.8,234.8 43.0,235.8 43.1,236.8 43.2,237.8 43.4,238.8 43.5,239.8 43.6,240.8 43.8,241.8 43.9,242.8 44.0,243.8 44.2,244.8 44.3,245.8 44.5,246.8 44.6,247.8 44.7,248.8 44.9,249.9 45.0,250.9 45.2,251.9 45.4,252.9 45.5,253.9 45.7,254.9 45.8,255.9 46.0,256.9 46.2,257.9 46.3,258.9 46.5,259.9 46.7,260.9 46.9,261.9 47.1,262.9 47.2,263.9 47.4,264.9 47.6,265.9 47.8,266.9 48.0,267.9 48.2,268.9 48.4,269.9 48.6,270.9 48.9,271.8 49.1,272.8 49.3,273.8 49.5,274.8 49.8,275.8 50.0,276.8 50.3,277.8 50.5,278.7 50.8,279.7 51.0,280.7 51.3,281.7 51.5,282.7 51.8,283.6 52.1,284.6 52.4,285.6 52.7,286.5 53.0,287.5 53.3,288.5 53.6,289.4 53.9,290.4 54.2,291.4 54.5,292.3 54.8,293.3 55.2,294.2 55.5,295.1 55.9,296.1 56.2,297.0 56.6,298.0 57.0,298.9 57.3,299.8 57.7,300.7 58.1,301.6 58.5,302.5 58.9,303.5 59.3,304.4 59.7,305.3 60.1,306.1 60.6,307.0 61.0,307.9 61.5,308.8 61.9,309.7 62.4,310.5 62.9,311.4 63.3,312.2 63.8,313.1 64.3,313.9 64.8,314.8 65.3,315.6 65.9,316.4 66.4,317.2 66.9,318.0 67.5,318.8 68.0,319.6 68.6,320.4 69.2,321.2 69.7,322.0 70.3,322.7 70.9,323.5 71.5,324.2 72.2,325.0 72.8,325.7 73.4,326.4 74.1,327.1 74.7,327.8 75.4,328.5 76.1,329.2 76.8,329.9 77.5,330.6 78.2,331.2 78.9,331.9 79.6,332.5 80.4,333.2 81.1,333.8 81.8,334.4 82.6,335.0 83.4,335.6 84.1,336.2 84.9,336.8 85.7,337.4 86.5,338.0 87.3,338.5 88.1,339.1 88.9,339.6 89.8,340.1 90.6,340.7 91.4,341.2 92.3,341.7 93.1,342.2 94.0,342.7 94.9,343.1 95.7,343.6 96.6,344.1 97.5,344.5 98.4,345.0 99.3,345.4 100.2,345.8 101.1,346.3 102.0,346.7 102.9,347.1 103.9,347.5 104.8,347.8 105.7,348.2 106.6,348.6 107.6,348.9 108.5,349.3 109.5,349.6 110.4,349.9 111.4,350.2 112.4,350.6 113.3,350.9 114.3,351.1 115.3,351.4 116.2,351.7 117.2,352.0 118.2,352.2 119.2,352.5 120.2,352.7 121.1,352.9 122.1,353.2 123.1,353.4 124.1,353.6 125.1,353.8 126.1,353.9 127.1,354.1 128.1,354.3 129.1,354.4 130.1,354.6 131.2,354.7 132.2,354.8 133.2,354.9 134.2,355.1 135.2,355.2 136.2,355.2 137.2,355.3 138.2,355.4 139.2,355.5 140.3,355.5 141.3,355.6 142.3,355.6 143.3,355.6 144.3,355.6 145.3,355.6 146.3,355.6 147.3,355.6 148.4,355.6 149.4,355.6 150.4,355.5 150.1,357.2 149.2,357.1 148.3,357.0 147.4,357.0 146.5,356.9 145.6,356.8 144.7,356.8 143.7,356.7 142.8,356.7 141.9,356.6 140.9,356.6 140.0,356.6 139.0,356.6 138.0,356.6 137.1,356.6 136.1,356.6 135.1,356.6 134.1,356.6 133.1,356.6 132.1,356.6 131.1,356.6 130.1,356.6 129.1,356.7 128.1,356.7 127.1,356.7 126.1,356.7 125.0,356.8 124.0,356.8 123.0,356.8 121.9,356.9 120.9,356.9 119.9,356.9 118.8,357.0 117.8,357.0 116.8,357.0 115.7,357.0 114.7,357.1 113.6,357.1 112.6,357.1 111.5,357.1 110.5,357.1 109.4,357.1 108.4,357.1 107.4,357.1 106.3,357.1 105.3,357.1 104.2,357.1 103.2,357.1 102.2,357.0 101.1,357.0 100.1,356.9 99.1,356.9 98.0,356.8 97.0,356.7 96.0,356.7 95.0,356.6 94.0,356.5 92.9,356.4 91.9,356.3 90.9,356.1 89.9,356.0 89.0,355.8 88.0,355.7 87.0,355.5 86.0,355.3 85.0,355.1 84.1,354.9 83.1,354.7 82.2,354.4 81.2,354.2 80.3,353.9 79.3,353.6 78.4,353.3 77.5,353.0 76.6,352.7 75.7,352.4 74.8,352.0 73.9,351.6 73.0,351.2 72.2,350.8 71.3,350.4 70.5,349.9 69.6,349.5 68.8,349.0 68.0,348.5 67.2,348.0 66.4,347.4 65.6,346.9 64.8,346.3 64.0,345.7 63.2,345.1 62.5,344.5 61.8,343.9 61.0,343.2 60.3,342.6 59.6,341.9 58.9,341.2 58.2,340.5 57.5,339.8 56.8,339.0 56.2,338.3 55.5,337.5 54.9,336.8 54.3,336.0 53.6,335.2 53.0,334.4 52.4,333.6 51.8,332.7 51.3,331.9 50.7,331.1 50.1,330.2 49.6,329.4 49.0,328.5 48.5,327.6 48.0,326.7 47.5,325.8 47.0,324.9 46.5,324.0 46.0,323.1 45.6,322.2 45.1,321.3 44.7,320.4 44.3,319.4 43.8,318.5 43.4,317.6 43.0,316.6 42.6,315.7 42.3,314.7 41.9,313.8 41.6,312.8 41.2,311.9 40.9,310.9 40.6,310.0 40.2,309.0 39.9,308.1 39.7,307.1 39.4,306.1 39.1,305.2 38.9,304.2 Z" fill="#d4aed6"/>
<path d="M37.9,250.5 38.1,251.4 38.3,252.3 38.5,253.2 38.7,254.2 39.0,255.1 39.2,256.0 39.4,256.9 39.6,257.8 39.8,258.8 40.0,259.7 40.2,260.7 40.4,261.6 40.6,262.6 40.8,263.5 41.0,264.5 41.2,265.4 41.4,266.4 41.6,267.4 41.8,268.3 42.0,269.3 42.3,270.3 42.5,271.3 42.7,272.2 42.9,273.2 43.1,274.2 43.3,275.2 43.5,276.2 43.7,277.2 44.0,278.1 44.2,279.1 44.4,280.1 44.6,281.1 44.9,282.1 45.1,283.1 45.3,284.1 45.6,285.1 45.8,286.1 46.1,287.0 46.3,288.0 46.6,289.0 46.8,290.0 47.1,291.0 47.4,292.0 47.6,293.0 47.9,293.9 48.2,294.9 48.5,295.9 48.8,296.9 49.1,297.8 49.4,298.8 49.7,299.8 50.0,300.7 50.3,301.7 50.6,302.7 51.0,303.6 51.3,304.6 51.7,305.5 52.0,306.5 52.4,307.4 52.8,308.3 53.1,309.3 53.5,310.2 53.9,311.1 54.3,312.1 54.7,313.0 55.1,313.9 55.6,314.8 56.0,315.7 56.4,316.6 56.9,317.5 57.3,318.3 57.8,319.2 58.3,320.1 58.8,320.9 59.3,321.8 59.8,322.6 60.3,323.5 60.8,324.3 61.4,325.2 61.9,326.0 62.5,326.8 63.1,327.6 63.6,328.4 64.2,329.2 64.8,330.0 65.5,330.7 66.1,331.5 66.7,332.3 67.4,333.0 68.0,333.7 68.7,334.5 69.4,335.2 70.1,335.9 70.8,336.6 71.5,337.3 72.2,338.0 72.9,338.6 73.6,339.3 74.4,339.9 75.1,340.6 75.9,341.2 76.7,341.8 77.5,342.4 78.2,343.0 79.0,343.6 79.8,344.1 80.6,344.7 81.5,345.2 82.3,345.8 83.1,346.3 84.0,346.8 84.8,347.3 85.7,347.7 86.5,348.2 87.4,348.7 88.3,349.1 89.1,349.5 90.0,349.9 90.9,350.3 91.8,350.7 92.7,351.1 93.6,351.4 94.6,351.7 95.5,352.1 96.4,352.4 97.3,352.7 98.3,352.9 99.2,353.2 100.2,353.4 101.1,353.7 102.1,353.9 103.0,354.1 104.0,354.3 105.0,354.5 105.9,354.7 106.9,354.9 107.9,355.0 108.9,355.2 109.9,355.3 110.8,355.5 111.8,355.6 112.8,355.7 113.8,355.8 114.8,355.9 115.8,356.0 116.8,356.1 117.8,356.1 118.8,356.2 119.9,356.3 120.9,356.3 121.9,356.4 122.9,356.4 123.9,356.5 124.9,356.5 125.9,356.5 127.0,356.5 128.0,356.6 129.0,356.6 130.0,356.6 131.0,356.6 132.1,356.6 133.1,356.6 134.1,356.6 135.1,356.6 136.1,356.6 137.1,356.6 138.2,356.6 139.2,356.6 140.2,356.6 141.2,356.6 142.2,356.6 143.2,356.6 144.2,356.6 145.2,356.6 146.3,356.6 147.3,356.6 148.3,356.6 149.3,356.6 150.3,356.6" fill="none" stroke="#b85ea8" stroke-width="2.8" stroke-linejoin="round"/>
<line x1="38.50" y1="357.60" x2="148.15" y2="357.60" stroke="#111" stroke-width="1" stroke-dasharray="2.2,1.8"/>
</g>
<path d="M91.30,373.20v-5M91.30,248.90v5M144.10,373.20v-5M144.10,248.90v5M54.39,373.20v-3M54.39,248.90v3M63.69,373.20v-3M63.69,248.90v3M70.29,373.20v-3M70.29,248.90v3M75.41,373.20v-3M75.41,248.90v3M79.59,373.20v-3M79.59,248.90v3M83.12,373.20v-3M83.12,248.90v3M86.18,373.20v-3M86.18,248.90v3M88.88,373.20v-3M88.88,248.90v3M107.19,373.20v-3M107.19,248.90v3M116.49,373.20v-3M116.49,248.90v3M123.09,373.20v-3M123.09,248.90v3M128.21,373.20v-3M128.21,248.90v3M132.39,373.20v-3M132.39,248.90v3M135.92,373.20v-3M135.92,248.90v3M138.98,373.20v-3M138.98,248.90v3M141.68,373.20v-3M141.68,248.90v3M38.50,357.60h5M148.15,357.60h-5M38.50,335.60h5M148.15,335.60h-5M38.50,313.60h5M148.15,313.60h-5M38.50,291.60h5M148.15,291.60h-5M38.50,269.60h5M148.15,269.60h-5M38.50,368.60h3M148.15,368.60h-3M38.50,346.60h3M148.15,346.60h-3M38.50,324.60h3M148.15,324.60h-3M38.50,302.60h3M148.15,302.60h-3M38.50,280.60h3M148.15,280.60h-3M38.50,258.60h3M148.15,258.60h-3" stroke="#1a1a1a" stroke-width="0.9" fill="none"/>
<rect x="38.50" y="248.90" width="109.65" height="124.30" fill="none" stroke="#1a1a1a" stroke-width="0.9"/>
<text x="97.10" y="269.60" font-family="'Liberation Serif', 'DejaVu Serif', serif" font-size="13" fill="#111">r</text>
<text x="35.50" y="361.90" font-family="'Liberation Serif', 'DejaVu Serif', serif" font-size="12.5" text-anchor="end" fill="#111">0</text>
<text x="35.50" y="339.90" font-family="'Liberation Serif', 'DejaVu Serif', serif" font-size="12.5" text-anchor="end" fill="#111">2</text>
<text x="35.50" y="317.90" font-family="'Liberation Serif', 'DejaVu Serif', serif" font-size="12.5" text-anchor="end" fill="#111">4</text>
<text x="35.50" y="295.90" font-family="'Liberation Serif', 'DejaVu Serif', serif" font-size="12.5" text-anchor="end" fill="#111">6</text>
<text x="35.50" y="273.90" font-family="'Liberation Serif', 'DejaVu Serif', serif" font-size="12.5" text-anchor="end" fill="#111">8</text>
<text x="91.30" y="385.40" font-family="'Liberation Serif', 'DejaVu Serif', serif" font-size="12.6" text-anchor="middle" fill="#111">10<tspan font-size="9" dy="-4.8">−1</tspan></text>
<text x="144.10" y="385.40" font-family="'Liberation Serif', 'DejaVu Serif', serif" font-size="12.6" text-anchor="middle" fill="#111">10<tspan font-size="9" dy="-4.8">0</tspan></text>
<g clip-path="url(#c21)">
<path d="M147.1,218.9 166.3,218.9 166.4,248.9 166.4,250.3 167.6,259.5 169.2,268.7 171.6,271.0 174.4,282.6 176.8,289.5 179.1,291.8 180.2,294.1 182.4,298.8 184.8,304.5 187.4,308.0 190.5,313.9 193.6,317.1 194.5,320.4 195.2,314.3 195.5,311.0 196.1,311.0 196.4,314.3 197.1,320.4 198.5,324.4 199.8,325.7 200.9,327.0 202.1,329.1 203.1,330.4 204.2,330.1 205.1,332.5 206.1,333.6 207.0,332.6 207.8,334.3 208.7,334.7 209.5,336.5 210.2,335.8 211.0,337.0 211.7,338.6 212.4,337.5 213.1,338.3 213.8,338.3 214.4,339.8 215.1,340.2 215.7,339.0 216.3,338.8 216.8,340.5 217.4,340.2 218.0,340.7 218.5,342.3 219.0,344.0 219.5,342.9 220.0,346.0 220.5,342.1 221.0,345.3 221.5,344.6 222.0,342.9 222.4,344.0 222.9,343.8 223.3,344.0 223.7,345.6 224.1,346.1 224.6,345.8 225.0,345.6 225.4,346.7 225.8,345.1 226.1,345.9 226.5,344.1 226.9,347.8 227.3,347.6 227.6,346.7 228.0,347.8 228.3,346.5 228.7,347.4 229.0,346.7 229.3,347.8 229.7,347.3 230.0,347.3 230.3,348.7 230.6,348.0 231.0,350.0 231.3,349.5 231.6,348.1 231.9,347.9 232.2,347.5 232.5,350.1 232.7,348.7 233.0,349.2 233.3,349.2 233.6,349.8 233.9,348.4 234.1,349.4 234.4,350.1 234.7,348.2 234.9,349.8 235.2,351.3 235.4,350.2 235.7,349.6 235.9,350.8 236.2,350.0 236.4,350.3 236.7,350.3 236.9,352.2 237.2,349.6 237.4,350.6 237.6,352.5 237.9,350.7 238.1,352.0 238.3,350.6 238.5,349.1 238.8,350.7 239.0,351.0 239.2,352.8 239.4,352.0 239.6,352.6 239.8,350.0 240.0,350.7 240.2,350.2 240.5,352.3 240.7,352.1 240.9,351.3 241.1,351.0 241.3,352.9 241.5,352.4 241.7,352.9 241.8,351.0 242.0,351.7 242.2,353.0 242.4,352.8 242.6,352.4 242.8,351.4 243.0,353.4 243.2,352.7 243.3,351.0 243.5,351.0 243.7,352.5 243.9,351.7 244.0,352.8 244.2,352.6 244.4,352.9 244.6,352.8 244.7,352.7 244.9,352.8 245.1,352.4 245.2,352.3 245.4,353.0 245.6,351.8 245.7,353.5 245.9,353.5 246.1,353.3 246.2,352.5 246.4,354.0 246.5,351.9 246.7,354.5 246.8,353.1 247.0,353.2 247.2,354.8 247.3,352.3 247.5,353.5 247.6,353.0 247.8,353.1 247.9,353.0 248.1,353.1 248.2,352.7 248.3,354.6 248.5,355.4 248.6,354.2 248.8,354.0 248.9,352.9 249.1,353.5 249.2,354.3 249.3,353.4 249.5,354.0 249.6,354.6 249.8,355.6 249.9,354.8 250.0,355.1 250.2,353.9 250.3,354.1 250.4,352.7 250.6,354.6 250.7,354.8 250.8,353.2 250.9,355.1 251.1,353.6 251.2,353.7 251.3,354.4 251.5,353.2 251.6,354.5 251.7,354.3 251.8,355.8 252.0,354.2 252.1,352.9 252.2,352.7 252.3,354.1 252.5,354.4 252.6,355.7 252.7,355.3 252.8,354.0 252.9,354.8 253.1,354.4 253.2,356.4 253.3,355.1 253.4,352.6 253.5,354.4 253.6,354.1 253.7,354.8 253.9,354.2 254.0,353.5 254.1,354.2 254.2,353.5 254.3,356.1 254.4,353.5 254.5,354.9 254.6,355.1 254.8,353.9 254.9,354.2 255.0,354.6 255.1,355.7 255.2,353.4 255.3,356.4 255.4,353.1 255.5,354.3 255.6,355.9 255.7,354.6 255.8,356.1 255.9,355.4 256.0,355.7 256.1,355.1 256.2,356.6 256.3,353.9 256.5,355.2 256.6,355.3 256.7,355.5 256.8,354.9 256.9,355.2 257.0,356.3 257.1,354.7 257.2,355.5 257.3,355.8 257.4,356.7 257.4,357.1 257.5,355.2 257.6,354.1 257.7,354.8 257.7,358.2 257.6,357.5 257.5,359.2 257.4,359.1 257.4,357.3 257.3,358.8 257.2,358.2 257.1,357.9 257.0,358.3 256.9,357.7 256.8,358.8 256.7,358.2 256.6,358.9 256.5,357.1 256.3,357.5 256.2,359.2 256.1,357.7 256.0,357.9 255.9,357.3 255.8,357.3 255.7,357.6 255.6,357.6 255.5,359.9 255.4,357.9 255.3,357.4 255.2,357.9 255.1,357.7 255.0,358.2 254.9,357.9 254.8,357.6 254.6,358.0 254.5,358.2 254.4,360.2 254.3,357.9 254.2,358.9 254.1,357.1 254.0,359.6 253.9,358.1 253.7,358.7 253.6,356.5 253.5,357.5 253.4,359.4 253.3,358.0 253.2,358.1 253.1,358.2 252.9,357.9 252.8,357.7 252.7,357.0 252.6,357.5 252.5,358.1 252.3,358.3 252.2,359.1 252.1,357.2 252.0,358.5 251.8,357.8 251.7,359.2 251.6,359.3 251.5,358.6 251.3,357.4 251.2,356.7 251.1,358.1 250.9,357.6 250.8,357.6 250.7,358.3 250.6,357.9 250.4,357.9 250.3,356.3 250.2,358.0 250.0,357.2 249.9,358.5 249.8,357.4 249.6,360.2 249.5,359.7 249.3,357.2 249.2,356.8 249.1,358.9 248.9,358.4 248.8,359.0 248.6,357.8 248.5,358.2 248.3,359.1 248.2,356.7 248.1,357.5 247.9,358.4 247.8,359.2 247.6,358.8 247.5,358.0 247.3,358.1 247.2,358.7 247.0,359.4 246.8,357.2 246.7,359.0 246.5,359.2 246.4,358.5 246.2,358.6 246.1,358.7 245.9,358.2 245.7,357.7 245.6,359.5 245.4,357.5 245.2,358.2 245.1,357.9 244.9,358.6 244.7,358.6 244.6,358.5 244.4,359.2 244.2,357.4 244.0,360.2 243.9,358.3 243.7,358.8 243.5,357.6 243.3,358.6 243.2,360.8 243.0,358.4 242.8,359.0 242.6,358.9 242.4,358.0 242.2,358.5 242.0,358.8 241.8,359.6 241.7,358.2 241.5,358.1 241.3,358.3 241.1,357.5 240.9,358.0 240.7,357.7 240.5,358.0 240.2,358.7 240.0,357.7 239.8,357.7 239.6,358.7 239.4,358.0 239.2,358.4 239.0,359.7 238.8,357.2 238.5,360.4 238.3,358.5 238.1,358.9 237.9,360.0 237.6,358.9 237.4,358.7 237.2,359.3 236.9,359.3 236.7,357.6 236.4,359.2 236.2,360.2 235.9,359.0 235.7,358.5 235.4,359.4 235.2,358.5 234.9,359.0 234.7,358.1 234.4,358.0 234.1,358.9 233.9,358.8 233.6,359.5 233.3,359.8 233.0,356.5 232.7,361.0 232.5,359.4 232.2,360.1 231.9,360.3 231.6,357.8 231.3,360.5 231.0,360.0 230.6,360.4 230.3,360.2 230.0,361.0 229.7,359.8 229.3,358.8 229.0,359.5 228.7,359.7 228.3,359.2 228.0,360.4 227.6,359.5 227.3,360.1 226.9,359.4 226.5,359.8 226.1,359.3 225.8,360.6 225.4,362.9 225.0,361.3 224.6,361.5 224.1,362.7 223.7,362.2 223.3,360.5 222.9,362.0 222.4,362.4 222.0,362.3 221.5,362.2 221.0,361.9 220.5,362.7 220.0,362.4 219.5,362.5 219.0,364.0 218.5,364.3 218.0,364.8 217.4,365.6 216.8,367.2 216.3,366.1 215.7,368.5 215.1,367.9 214.4,367.9 213.8,367.6 213.1,367.0 212.4,367.1 211.7,374.3 211.0,381.5 210.2,382.3 209.5,382.1 208.7,382.3 148.0,382.3 Z" fill="#e4dbee"/>
<path d="M147.3,200.0 147.5,201.0 147.6,201.9 147.8,202.8 148.0,203.8 148.1,204.7 148.3,205.6 148.4,206.6 148.6,207.5 148.7,208.5 148.9,209.4 149.0,210.4 149.2,211.3 149.3,212.3 149.4,213.3 149.6,214.2 149.7,215.2 149.8,216.2 150.0,217.1 150.1,218.1 150.2,219.1 150.4,220.1 150.5,221.0 150.6,222.0 150.8,223.0 150.9,224.0 151.0,225.0 151.1,226.0 151.3,226.9 151.4,227.9 151.5,228.9 151.7,229.9 151.8,230.9 151.9,231.9 152.0,232.9 152.2,233.9 152.3,234.9 152.4,235.9 152.5,236.9 152.7,237.9 152.8,238.9 152.9,239.9 153.1,240.9 153.2,241.9 153.3,242.9 153.5,243.9 153.6,244.9 153.7,245.9 153.9,246.9 154.0,247.9 154.2,248.9 154.3,249.9 154.5,250.9 154.6,251.9 154.8,252.9 154.9,253.9 155.1,254.9 155.3,255.9 155.4,257.0 155.6,258.0 155.7,259.0 155.9,260.0 156.1,261.0 156.3,262.0 156.5,263.0 156.6,264.0 156.8,265.0 157.0,266.0 157.2,267.0 157.4,268.0 157.6,269.0 157.8,269.9 158.0,270.9 158.2,271.9 158.5,272.9 158.7,273.9 158.9,274.9 159.1,275.9 159.4,276.9 159.6,277.9 159.9,278.8 160.1,279.8 160.4,280.8 160.6,281.8 160.9,282.8 161.2,283.7 161.4,284.7 161.7,285.7 162.0,286.6 162.3,287.6 162.6,288.6 162.9,289.5 163.2,290.5 163.5,291.4 163.8,292.4 164.2,293.3 164.5,294.3 164.9,295.2 165.2,296.2 165.6,297.1 165.9,298.0 166.3,298.9 166.7,299.9 167.0,300.8 167.4,301.7 167.8,302.6 168.2,303.5 168.6,304.4 169.1,305.3 169.5,306.2 169.9,307.1 170.4,307.9 170.8,308.8 171.3,309.7 171.7,310.5 172.2,311.4 172.7,312.3 173.2,313.1 173.7,313.9 174.2,314.8 174.7,315.6 175.2,316.4 175.8,317.2 176.3,318.0 176.8,318.8 177.4,319.6 178.0,320.4 178.6,321.1 179.1,321.9 179.7,322.7 180.3,323.4 181.0,324.2 181.6,324.9 182.2,325.6 182.9,326.3 183.5,327.0 184.2,327.7 184.9,328.4 185.6,329.1 186.3,329.8 187.0,330.5 187.7,331.1 188.4,331.8 189.1,332.4 189.9,333.0 190.6,333.7 191.4,334.3 192.2,334.9 192.9,335.5 193.7,336.1 194.5,336.6 195.3,337.2 196.1,337.8 196.9,338.3 197.8,338.9 198.6,339.4 199.4,339.9 200.3,340.4 201.1,340.9 202.0,341.4 202.8,341.9 203.7,342.4 204.6,342.9 205.5,343.4 206.4,343.8 207.2,344.3 208.1,344.7 209.0,345.1 210.0,345.6 210.9,346.0 211.8,346.4 212.7,346.8 213.6,347.2 214.6,347.5 215.5,347.9 216.5,348.3 217.4,348.6 218.4,349.0 219.3,349.3 220.3,349.6 221.2,349.9 222.2,350.3 223.2,350.6 224.1,350.8 225.1,351.1 226.1,351.4 227.1,351.7 228.1,351.9 229.0,352.2 230.0,352.4 231.0,352.7 232.0,352.9 233.0,353.1 234.0,353.3 235.0,353.5 236.0,353.7 237.0,353.9 238.0,354.0 239.0,354.2 240.0,354.3 241.0,354.5 242.0,354.6 243.0,354.8 244.0,354.9 245.0,355.0 246.0,355.1 247.0,355.2 248.0,355.3 249.0,355.3 250.0,355.4 251.0,355.5 252.0,355.5 253.0,355.6 254.0,355.6 255.0,355.6 256.0,355.6 256.9,355.6 257.9,355.6 258.9,355.6 259.9,355.6 259.7,357.2 258.8,357.1 257.9,357.0 257.0,357.0 256.1,356.9 255.2,356.8 254.3,356.8 253.4,356.8 252.4,356.7 251.5,356.7 250.5,356.7 249.6,356.7 248.6,356.6 247.6,356.6 246.7,356.6 245.7,356.6 244.7,356.6 243.7,356.7 242.7,356.7 241.7,356.7 240.7,356.7 239.7,356.7 238.7,356.8 237.7,356.8 236.7,356.8 235.6,356.8 234.6,356.9 233.6,356.9 232.6,356.9 231.5,357.0 230.5,357.0 229.4,357.0 228.4,357.0 227.4,357.1 226.3,357.1 225.3,357.1 224.2,357.1 223.2,357.1 222.2,357.2 221.1,357.2 220.1,357.2 219.0,357.2 218.0,357.2 216.9,357.2 215.9,357.1 214.9,357.1 213.8,357.1 212.8,357.1 211.8,357.0 210.7,357.0 209.7,356.9 208.7,356.9 207.6,356.8 206.6,356.7 205.6,356.6 204.6,356.5 203.6,356.4 202.6,356.3 201.6,356.2 200.6,356.1 199.6,355.9 198.6,355.8 197.6,355.6 196.6,355.4 195.6,355.2 194.6,355.0 193.7,354.8 192.7,354.6 191.8,354.3 190.8,354.1 189.9,353.8 188.9,353.5 188.0,353.2 187.1,352.9 186.2,352.6 185.3,352.2 184.4,351.9 183.5,351.5 182.6,351.1 181.8,350.7 180.9,350.3 180.0,349.8 179.2,349.3 178.4,348.9 177.5,348.4 176.7,347.8 175.9,347.3 175.1,346.8 174.3,346.2 173.5,345.6 172.8,345.0 172.0,344.4 171.3,343.8 170.5,343.1 169.8,342.5 169.1,341.8 168.4,341.1 167.7,340.4 167.0,339.7 166.3,339.0 165.6,338.2 165.0,337.5 164.3,336.7 163.7,336.0 163.1,335.2 162.4,334.4 161.8,333.6 161.2,332.8 160.7,331.9 160.1,331.1 159.5,330.2 159.0,329.4 158.4,328.5 157.9,327.7 157.4,326.8 156.8,325.9 156.3,325.0 155.9,324.1 155.4,323.2 154.9,322.3 154.5,321.4 154.0,320.4 153.6,319.5 153.2,318.6 152.8,317.6 152.4,316.7 152.0,315.8 151.6,314.8 151.2,313.8 150.9,312.9 150.5,311.9 150.2,311.0 149.9,310.0 149.6,309.0 149.3,308.1 149.0,307.1 148.7,306.1 148.5,305.2 148.2,304.2 Z" fill="#d4aed6"/>
<path d="M147.5,251.5 147.7,252.4 147.9,253.3 148.1,254.2 148.3,255.1 148.6,256.1 148.8,257.0 149.0,257.9 149.2,258.8 149.4,259.8 149.6,260.7 149.8,261.7 150.0,262.6 150.2,263.6 150.4,264.5 150.6,265.5 150.8,266.5 151.0,267.4 151.2,268.4 151.4,269.4 151.6,270.4 151.8,271.3 152.1,272.3 152.3,273.3 152.5,274.3 152.7,275.3 152.9,276.2 153.1,277.2 153.3,278.2 153.6,279.2 153.8,280.2 154.0,281.2 154.2,282.2 154.5,283.2 154.7,284.2 155.0,285.1 155.2,286.1 155.4,287.1 155.7,288.1 156.0,289.1 156.2,290.1 156.5,291.1 156.7,292.1 157.0,293.1 157.3,294.0 157.6,295.0 157.9,296.0 158.2,297.0 158.5,297.9 158.8,298.9 159.1,299.9 159.4,300.9 159.7,301.8 160.0,302.8 160.4,303.7 160.7,304.7 161.1,305.6 161.4,306.6 161.8,307.5 162.1,308.5 162.5,309.4 162.9,310.3 163.3,311.3 163.7,312.2 164.1,313.1 164.5,314.0 165.0,314.9 165.4,315.8 165.8,316.7 166.3,317.6 166.7,318.5 167.2,319.4 167.7,320.2 168.2,321.1 168.7,322.0 169.2,322.8 169.7,323.7 170.3,324.5 170.8,325.3 171.3,326.1 171.9,327.0 172.5,327.8 173.1,328.6 173.7,329.4 174.3,330.1 174.9,330.9 175.5,331.7 176.2,332.4 176.8,333.2 177.5,333.9 178.1,334.7 178.8,335.4 179.5,336.1 180.2,336.8 180.9,337.5 181.6,338.2 182.4,338.8 183.1,339.5 183.9,340.1 184.6,340.8 185.4,341.4 186.1,342.0 186.9,342.6 187.7,343.2 188.5,343.8 189.3,344.3 190.1,344.9 191.0,345.4 191.8,346.0 192.6,346.5 193.5,347.0 194.3,347.5 195.2,348.0 196.0,348.4 196.9,348.9 197.8,349.3 198.7,349.7 199.6,350.1 200.5,350.5 201.4,350.9 202.3,351.2 203.2,351.6 204.1,351.9 205.0,352.2 206.0,352.5 206.9,352.8 207.8,353.1 208.8,353.4 209.7,353.6 210.7,353.8 211.6,354.1 212.6,354.3 213.6,354.5 214.5,354.7 215.5,354.8 216.5,355.0 217.5,355.1 218.5,355.3 219.4,355.4 220.4,355.5 221.4,355.7 222.4,355.8 223.4,355.9 224.4,355.9 225.4,356.0 226.4,356.1 227.4,356.2 228.4,356.2 229.5,356.3 230.5,356.3 231.5,356.4 232.5,356.4 233.5,356.4 234.5,356.5 235.6,356.5 236.6,356.5 237.6,356.5 238.6,356.5 239.6,356.6 240.7,356.6 241.7,356.6 242.7,356.6 243.7,356.6 244.7,356.6 245.8,356.6 246.8,356.6 247.8,356.6 248.8,356.6 249.8,356.6 250.8,356.6 251.9,356.6 252.9,356.6 253.9,356.6 254.9,356.6 255.9,356.6 256.9,356.6 257.9,356.6 258.9,356.6 259.9,356.6" fill="none" stroke="#b85ea8" stroke-width="2.8" stroke-linejoin="round"/>
<line x1="148.15" y1="357.60" x2="257.80" y2="357.60" stroke="#111" stroke-width="1" stroke-dasharray="2.2,1.8"/>
</g>
<path d="M200.95,373.20v-5M200.95,248.90v5M253.75,373.20v-5M253.75,248.90v5M164.04,373.20v-3M164.04,248.90v3M173.34,373.20v-3M173.34,248.90v3M179.94,373.20v-3M179.94,248.90v3M185.06,373.20v-3M185.06,248.90v3M189.24,373.20v-3M189.24,248.90v3M192.77,373.20v-3M192.77,248.90v3M195.83,373.20v-3M195.83,248.90v3M198.53,373.20v-3M198.53,248.90v3M216.84,373.20v-3M216.84,248.90v3M226.14,373.20v-3M226.14,248.90v3M232.74,373.20v-3M232.74,248.90v3M237.86,373.20v-3M237.86,248.90v3M242.04,373.20v-3M242.04,248.90v3M245.57,373.20v-3M245.57,248.90v3M248.63,373.20v-3M248.63,248.90v3M251.33,373.20v-3M251.33,248.90v3M148.15,357.60h5M257.80,357.60h-5M148.15,335.60h5M257.80,335.60h-5M148.15,313.60h5M257.80,313.60h-5M148.15,291.60h5M257.80,291.60h-5M148.15,269.60h5M257.80,269.60h-5M148.15,368.60h3M257.80,368.60h-3M148.15,346.60h3M257.80,346.60h-3M148.15,324.60h3M257.80,324.60h-3M148.15,302.60h3M257.80,302.60h-3M148.15,280.60h3M257.80,280.60h-3M148.15,258.60h3M257.80,258.60h-3" stroke="#1a1a1a" stroke-width="0.9" fill="none"/>
<rect x="148.15" y="248.90" width="109.65" height="124.30" fill="none" stroke="#1a1a1a" stroke-width="0.9"/>
<text x="206.75" y="269.60" font-family="'Liberation Serif', 'DejaVu Serif', serif" font-size="13" fill="#111">R</text>
<text x="200.95" y="385.40" font-family="'Liberation Serif', 'DejaVu Serif', serif" font-size="12.6" text-anchor="middle" fill="#111">10<tspan font-size="9" dy="-4.8">−1</tspan></text>
<text x="253.75" y="385.40" font-family="'Liberation Serif', 'DejaVu Serif', serif" font-size="12.6" text-anchor="middle" fill="#111">10<tspan font-size="9" dy="-4.8">0</tspan></text>
<g clip-path="url(#c22)">
<path d="M256.8,218.9 277.6,218.9 277.7,248.9 277.8,250.3 279.5,259.5 281.8,261.8 283.5,271.0 287.0,282.6 288.7,284.9 291.5,293.5 295.0,302.2 297.1,303.0 299.5,307.7 301.8,310.9 302.6,310.0 304.2,317.7 304.9,312.0 305.2,309.0 305.8,309.0 306.1,312.0 306.8,317.7 307.3,322.6 308.2,323.6 309.4,325.2 310.6,326.1 311.7,328.0 312.8,329.2 313.8,327.9 314.8,331.1 315.7,330.2 316.6,334.2 317.5,332.8 318.3,334.7 319.1,336.3 319.9,334.9 320.6,335.5 321.4,336.3 322.1,339.2 322.8,336.7 323.4,338.2 324.1,338.8 324.7,339.2 325.3,339.6 325.9,339.5 326.5,339.6 327.1,340.6 327.6,339.2 328.2,343.4 328.7,341.2 329.2,341.7 329.7,341.7 330.2,343.1 330.7,341.9 331.1,341.8 331.6,344.0 332.1,343.8 332.5,343.2 332.9,345.5 333.4,344.8 333.8,345.1 334.2,344.2 334.6,344.2 335.0,345.3 335.4,344.7 335.8,345.8 336.2,346.7 336.5,347.1 336.9,346.3 337.3,346.4 337.6,346.8 338.0,346.9 338.3,345.9 338.7,345.5 339.0,348.2 339.3,347.0 339.7,347.0 340.0,348.2 340.3,348.7 340.6,349.1 340.9,348.0 341.2,346.9 341.5,349.6 341.8,347.6 342.1,348.8 342.4,348.3 342.7,349.6 343.0,352.0 343.2,350.9 343.5,349.8 343.8,349.1 344.0,350.1 344.3,349.5 344.6,349.5 344.8,351.2 345.1,349.4 345.3,351.1 345.6,350.1 345.8,349.9 346.1,350.0 346.3,350.3 346.6,350.4 346.8,349.4 347.0,351.0 347.3,351.9 347.5,351.5 347.7,350.7 348.0,351.7 348.2,350.0 348.4,350.1 348.6,349.9 348.8,350.0 349.1,350.1 349.3,351.1 349.5,351.0 349.7,350.8 349.9,351.9 350.1,351.1 350.3,352.4 350.5,353.0 350.7,351.0 350.9,353.4 351.1,351.4 351.3,351.6 351.5,352.5 351.7,350.1 351.9,350.6 352.1,351.7 352.3,351.8 352.4,350.2 352.6,352.6 352.8,351.5 353.0,352.4 353.2,351.6 353.3,353.4 353.5,351.4 353.7,351.4 353.9,350.4 354.0,352.4 354.2,353.2 354.4,354.0 354.6,352.5 354.7,353.0 354.9,351.7 355.1,353.3 355.2,353.4 355.4,353.0 355.5,351.7 355.7,351.7 355.9,353.6 356.0,351.1 356.2,354.4 356.3,351.4 356.5,353.7 356.6,351.0 356.8,353.4 357.0,354.3 357.1,354.1 357.3,355.0 357.4,355.1 357.6,352.9 357.7,351.8 357.8,353.1 358.0,351.8 358.1,353.8 358.3,352.3 358.4,352.8 358.6,352.4 358.7,353.3 358.8,353.6 359.0,353.9 359.1,355.2 359.3,353.9 359.4,353.9 359.5,354.1 359.7,355.7 359.8,355.6 359.9,353.6 360.1,354.1 360.2,353.7 360.3,354.1 360.5,354.0 360.6,354.9 360.7,354.0 360.9,356.0 361.0,355.1 361.1,353.9 361.2,353.3 361.4,354.6 361.5,356.6 361.6,353.6 361.7,354.7 361.9,355.7 362.0,354.9 362.1,354.2 362.2,354.1 362.3,353.7 362.5,352.6 362.6,354.3 362.7,353.7 362.8,354.5 362.9,354.5 363.1,352.8 363.2,353.7 363.3,354.9 363.4,355.0 363.5,353.0 363.6,354.8 363.7,354.8 363.9,353.3 364.0,354.4 364.1,354.0 364.2,353.4 364.3,353.7 364.4,355.1 364.5,354.1 364.6,352.9 364.7,355.2 364.8,354.6 365.0,353.1 365.1,352.9 365.2,354.2 365.3,354.0 365.4,354.2 365.5,354.9 365.6,354.7 365.7,353.3 365.8,354.8 365.9,355.1 366.0,356.1 366.1,354.5 366.2,356.0 366.3,353.9 366.4,353.0 366.5,355.5 366.6,353.6 366.7,355.6 366.8,353.8 366.9,355.4 367.0,355.4 367.1,355.0 367.2,354.4 367.3,353.4 367.4,355.2 367.4,357.1 367.3,356.8 367.2,358.5 367.1,360.0 367.0,357.7 366.9,358.4 366.8,359.2 366.7,359.1 366.6,357.8 366.5,358.2 366.4,357.7 366.3,358.0 366.2,358.2 366.1,359.5 366.0,358.2 365.9,358.0 365.8,356.7 365.7,357.8 365.6,357.1 365.5,357.5 365.4,357.3 365.3,358.5 365.2,358.4 365.1,357.1 365.0,358.0 364.8,358.8 364.7,358.0 364.6,358.0 364.5,357.4 364.4,359.7 364.3,357.7 364.2,357.1 364.1,357.9 364.0,358.9 363.9,357.4 363.7,357.3 363.6,358.7 363.5,358.9 363.4,358.6 363.3,358.9 363.2,358.1 363.1,359.1 362.9,358.9 362.8,357.2 362.7,357.8 362.6,357.8 362.5,359.1 362.3,358.7 362.2,358.6 362.1,357.5 362.0,357.9 361.9,357.8 361.7,358.8 361.6,358.5 361.5,357.6 361.4,359.5 361.2,358.0 361.1,357.0 361.0,358.1 360.9,357.9 360.7,359.5 360.6,358.4 360.5,359.1 360.3,359.0 360.2,358.5 360.1,358.3 359.9,357.7 359.8,357.8 359.7,357.5 359.5,358.8 359.4,358.0 359.3,359.6 359.1,359.7 359.0,359.0 358.8,357.5 358.7,359.9 358.6,358.9 358.4,358.7 358.3,360.0 358.1,356.7 358.0,358.1 357.8,358.0 357.7,357.6 357.6,358.2 357.4,358.7 357.3,358.5 357.1,358.3 357.0,357.6 356.8,358.4 356.6,357.6 356.5,358.4 356.3,358.2 356.2,358.8 356.0,357.3 355.9,359.1 355.7,359.2 355.5,357.2 355.4,358.8 355.2,358.3 355.1,358.7 354.9,358.1 354.7,359.3 354.6,356.9 354.4,358.7 354.2,358.9 354.0,358.7 353.9,359.1 353.7,359.5 353.5,358.2 353.3,357.9 353.2,358.7 353.0,359.0 352.8,357.7 352.6,358.3 352.4,360.7 352.3,357.1 352.1,357.9 351.9,357.8 351.7,356.8 351.5,358.8 351.3,358.9 351.1,359.6 350.9,358.8 350.7,360.4 350.5,358.0 350.3,358.1 350.1,357.9 349.9,357.3 349.7,360.5 349.5,359.7 349.3,359.3 349.1,360.4 348.8,359.2 348.6,360.0 348.4,359.3 348.2,358.5 348.0,358.7 347.7,358.9 347.5,360.2 347.3,359.2 347.0,358.2 346.8,360.9 346.6,359.4 346.3,358.8 346.1,360.1 345.8,359.5 345.6,358.9 345.3,358.7 345.1,359.9 344.8,359.1 344.6,358.7 344.3,359.8 344.0,358.7 343.8,358.3 343.5,358.6 343.2,359.8 343.0,359.4 342.7,360.0 342.4,358.5 342.1,359.1 341.8,360.2 341.5,359.5 341.2,359.5 340.9,359.5 340.6,359.3 340.3,359.3 340.0,359.3 339.7,359.6 339.3,360.1 339.0,360.4 338.7,361.9 338.3,361.8 338.0,359.9 337.6,359.8 337.3,361.4 336.9,360.6 336.5,360.9 336.2,360.1 335.8,360.5 335.4,359.2 335.0,360.6 334.6,359.5 334.2,360.8 333.8,361.0 333.4,360.9 332.9,361.0 332.5,363.3 332.1,361.0 331.6,361.7 331.1,361.6 330.7,362.0 330.2,362.3 329.7,362.1 329.2,361.4 328.7,363.2 328.2,363.6 327.6,362.1 327.1,364.2 326.5,364.6 325.9,364.7 325.3,365.9 324.7,364.3 324.1,365.4 323.4,363.8 322.8,365.8 322.1,367.2 321.4,368.7 320.6,374.7 319.9,382.5 319.1,382.3 318.3,382.3 257.0,382.3 Z" fill="#e4dbee"/>
<path d="M257.0,191.8 257.2,192.7 257.4,193.7 257.5,194.6 257.7,195.5 257.8,196.4 258.0,197.3 258.1,198.3 258.3,199.2 258.4,200.1 258.6,201.1 258.7,202.0 258.8,202.9 259.0,203.9 259.1,204.8 259.3,205.8 259.4,206.7 259.5,207.7 259.7,208.7 259.8,209.6 259.9,210.6 260.1,211.6 260.2,212.5 260.3,213.5 260.5,214.5 260.6,215.5 260.7,216.4 260.8,217.4 261.0,218.4 261.1,219.4 261.2,220.4 261.4,221.4 261.5,222.3 261.6,223.3 261.7,224.3 261.9,225.3 262.0,226.3 262.1,227.3 262.3,228.3 262.4,229.3 262.5,230.3 262.7,231.3 262.8,232.3 262.9,233.3 263.1,234.3 263.2,235.3 263.4,236.4 263.5,237.4 263.6,238.4 263.8,239.4 263.9,240.4 264.1,241.4 264.2,242.4 264.4,243.4 264.5,244.4 264.7,245.4 264.8,246.5 265.0,247.5 265.2,248.5 265.3,249.5 265.5,250.5 265.6,251.5 265.8,252.5 266.0,253.5 266.2,254.6 266.3,255.6 266.5,256.6 266.7,257.6 266.9,258.6 267.1,259.6 267.3,260.6 267.5,261.6 267.7,262.6 267.9,263.6 268.1,264.6 268.3,265.6 268.5,266.6 268.7,267.6 269.0,268.6 269.2,269.6 269.4,270.6 269.7,271.6 269.9,272.6 270.1,273.6 270.4,274.6 270.6,275.6 270.9,276.5 271.2,277.5 271.4,278.5 271.7,279.5 272.0,280.5 272.3,281.4 272.5,282.4 272.8,283.4 273.1,284.3 273.4,285.3 273.7,286.3 274.0,287.2 274.4,288.2 274.7,289.1 275.0,290.1 275.3,291.0 275.7,292.0 276.0,292.9 276.4,293.9 276.7,294.8 277.1,295.7 277.5,296.6 277.9,297.6 278.2,298.5 278.6,299.4 279.0,300.3 279.4,301.2 279.8,302.1 280.2,303.0 280.7,303.9 281.1,304.8 281.5,305.7 282.0,306.6 282.4,307.4 282.9,308.3 283.4,309.2 283.8,310.0 284.3,310.9 284.8,311.7 285.3,312.6 285.8,313.4 286.3,314.2 286.8,315.1 287.4,315.9 287.9,316.7 288.4,317.5 289.0,318.3 289.6,319.1 290.1,319.9 290.7,320.7 291.3,321.4 291.9,322.2 292.5,323.0 293.1,323.7 293.7,324.5 294.3,325.2 295.0,325.9 295.6,326.7 296.3,327.4 297.0,328.1 297.6,328.8 298.3,329.5 299.0,330.2 299.7,330.8 300.4,331.5 301.1,332.2 301.9,332.8 302.6,333.5 303.3,334.1 304.1,334.8 304.8,335.4 305.6,336.0 306.4,336.6 307.1,337.2 307.9,337.8 308.7,338.4 309.5,339.0 310.3,339.5 311.1,340.1 312.0,340.6 312.8,341.2 313.6,341.7 314.5,342.2 315.3,342.7 316.2,343.2 317.0,343.7 317.9,344.2 318.8,344.7 319.6,345.1 320.5,345.6 321.4,346.0 322.3,346.5 323.2,346.9 324.1,347.3 325.0,347.7 325.9,348.1 326.8,348.5 327.8,348.9 328.7,349.2 329.6,349.6 330.6,349.9 331.5,350.3 332.5,350.6 333.4,350.9 334.4,351.2 335.3,351.5 336.3,351.8 337.3,352.1 338.2,352.3 339.2,352.6 340.2,352.8 341.2,353.1 342.2,353.3 343.2,353.5 344.2,353.7 345.2,353.9 346.2,354.1 347.2,354.3 348.2,354.4 349.2,354.6 350.2,354.7 351.2,354.8 352.2,354.9 353.2,355.1 354.3,355.1 355.3,355.2 356.3,355.3 357.4,355.4 358.4,355.4 359.4,355.5 360.5,355.5 361.5,355.5 362.5,355.5 363.6,355.5 364.6,355.5 365.6,355.5 366.7,355.4 367.7,355.4 368.8,355.3 369.8,355.3 369.3,357.5 368.5,357.2 367.6,356.9 366.8,356.6 365.9,356.3 365.0,356.1 364.1,355.8 363.3,355.6 362.3,355.4 361.4,355.3 360.5,355.1 359.6,355.0 358.6,354.9 357.7,354.8 356.7,354.7 355.8,354.6 354.8,354.6 353.8,354.5 352.8,354.5 351.8,354.5 350.8,354.5 349.8,354.5 348.8,354.5 347.8,354.5 346.8,354.6 345.8,354.6 344.7,354.7 343.7,354.7 342.7,354.8 341.6,354.9 340.6,354.9 339.5,355.0 338.5,355.1 337.4,355.2 336.4,355.3 335.3,355.4 334.3,355.5 333.2,355.6 332.2,355.6 331.1,355.7 330.1,355.8 329.0,355.9 327.9,356.0 326.9,356.1 325.8,356.1 324.8,356.2 323.7,356.3 322.7,356.3 321.6,356.4 320.6,356.4 319.6,356.4 318.5,356.4 317.5,356.4 316.5,356.4 315.4,356.4 314.4,356.4 313.4,356.4 312.4,356.3 311.4,356.2 310.4,356.2 309.4,356.1 308.4,355.9 307.4,355.8 306.5,355.7 305.5,355.5 304.6,355.3 303.6,355.1 302.7,354.9 301.8,354.6 300.8,354.3 299.9,354.0 299.0,353.7 298.1,353.4 297.3,353.0 296.4,352.6 295.5,352.1 294.7,351.6 293.8,351.1 293.0,350.6 292.2,350.0 291.4,349.4 290.6,348.8 289.9,348.2 289.1,347.5 288.4,346.9 287.6,346.2 286.9,345.5 286.2,344.8 285.5,344.0 284.9,343.3 284.2,342.5 283.6,341.7 282.9,340.9 282.3,340.2 281.7,339.4 281.2,338.6 280.6,337.8 280.1,336.9 279.6,336.1 279.0,335.3 278.5,334.5 278.0,333.7 277.6,332.8 277.1,332.0 276.6,331.2 276.1,330.3 275.6,329.5 275.2,328.6 274.7,327.8 274.2,326.9 273.7,326.1 273.3,325.2 272.8,324.3 272.3,323.5 271.8,322.6 271.3,321.7 270.9,320.8 270.4,319.9 269.9,319.1 269.4,318.2 269.0,317.3 268.5,316.4 268.0,315.5 267.6,314.6 267.1,313.7 266.7,312.8 266.2,311.9 265.8,311.0 265.3,310.0 264.9,309.1 264.5,308.2 264.1,307.3 263.7,306.4 263.3,305.4 262.9,304.5 262.5,303.6 262.1,302.6 261.8,301.7 261.4,300.8 261.1,299.8 260.7,298.9 260.4,297.9 260.1,297.0 259.8,296.0 259.5,295.1 259.3,294.1 259.0,293.2 258.8,292.2 258.5,291.3 258.3,290.3 258.1,289.4 257.9,288.4 257.7,287.5 257.6,286.5 257.4,285.5 257.3,284.6 257.2,283.6 257.1,282.6 257.0,281.7 256.9,280.7 Z" fill="#d4aed6"/>
<path d="M256.9,233.3 257.0,234.3 257.2,235.3 257.4,236.2 257.6,237.2 257.8,238.2 258.0,239.2 258.2,240.2 258.3,241.1 258.5,242.1 258.7,243.1 258.9,244.1 259.1,245.0 259.2,246.0 259.4,247.0 259.6,247.9 259.7,248.9 259.9,249.9 260.1,250.9 260.3,251.8 260.4,252.8 260.6,253.8 260.8,254.7 260.9,255.7 261.1,256.7 261.3,257.6 261.5,258.6 261.6,259.6 261.8,260.5 262.0,261.5 262.1,262.5 262.3,263.5 262.5,264.4 262.7,265.4 262.9,266.4 263.1,267.3 263.2,268.3 263.4,269.3 263.6,270.3 263.8,271.2 264.0,272.2 264.2,273.2 264.4,274.1 264.6,275.1 264.8,276.1 265.0,277.1 265.2,278.0 265.5,279.0 265.7,280.0 265.9,281.0 266.1,282.0 266.4,282.9 266.6,283.9 266.8,284.9 267.1,285.9 267.3,286.9 267.6,287.8 267.8,288.8 268.1,289.8 268.4,290.8 268.6,291.8 268.9,292.7 269.2,293.7 269.5,294.7 269.8,295.7 270.1,296.7 270.4,297.6 270.7,298.6 271.0,299.6 271.3,300.5 271.7,301.5 272.0,302.5 272.3,303.4 272.7,304.4 273.0,305.3 273.4,306.3 273.8,307.2 274.2,308.2 274.6,309.1 274.9,310.0 275.3,310.9 275.8,311.9 276.2,312.8 276.6,313.7 277.0,314.6 277.5,315.5 277.9,316.4 278.4,317.3 278.8,318.2 279.3,319.1 279.8,320.0 280.3,320.8 280.8,321.7 281.3,322.5 281.8,323.4 282.4,324.2 282.9,325.1 283.5,325.9 284.0,326.7 284.6,327.5 285.2,328.3 285.8,329.1 286.4,329.9 287.0,330.7 287.6,331.5 288.3,332.2 288.9,333.0 289.6,333.7 290.2,334.4 290.9,335.2 291.6,335.9 292.3,336.6 293.0,337.3 293.7,338.0 294.4,338.6 295.1,339.3 295.8,339.9 296.6,340.6 297.3,341.2 298.1,341.8 298.9,342.4 299.6,343.0 300.4,343.6 301.2,344.2 302.0,344.7 302.8,345.3 303.6,345.8 304.4,346.3 305.3,346.8 306.1,347.3 306.9,347.8 307.8,348.3 308.6,348.7 309.5,349.2 310.4,349.6 311.3,350.0 312.1,350.4 313.0,350.8 313.9,351.1 314.8,351.5 315.7,351.8 316.6,352.1 317.5,352.5 318.5,352.8 319.4,353.0 320.3,353.3 321.2,353.6 322.2,353.8 323.1,354.0 324.1,354.3 325.0,354.5 326.0,354.7 327.0,354.9 327.9,355.0 328.9,355.2 329.9,355.4 330.8,355.5 331.8,355.7 332.8,355.8 333.8,355.9 334.8,356.0 335.8,356.1 336.8,356.2 337.8,356.3 338.8,356.4 339.8,356.5 340.8,356.5 341.8,356.6 342.8,356.6 343.9,356.7 344.9,356.7 345.9,356.8 346.9,356.8 347.9,356.8 349.0,356.8 350.0,356.9 351.0,356.9 352.1,356.9 353.1,356.9 354.1,356.9 355.2,356.9 356.2,356.9 357.2,356.8 358.3,356.8 359.3,356.8 360.3,356.8 361.4,356.8 362.4,356.8 363.4,356.7 364.5,356.7 365.5,356.7 366.6,356.7 367.6,356.6 368.6,356.6 369.7,356.6" fill="none" stroke="#b85ea8" stroke-width="2.8" stroke-linejoin="round"/>
<line x1="257.80" y1="357.60" x2="367.45" y2="357.60" stroke="#111" stroke-width="1" stroke-dasharray="2.2,1.8"/>
</g>
<path d="M310.60,373.20v-5M310.60,248.90v5M363.40,373.20v-5M363.40,248.90v5M273.69,373.20v-3M273.69,248.90v3M282.99,373.20v-3M282.99,248.90v3M289.59,373.20v-3M289.59,248.90v3M294.71,373.20v-3M294.71,248.90v3M298.89,373.20v-3M298.89,248.90v3M302.42,373.20v-3M302.42,248.90v3M305.48,373.20v-3M305.48,248.90v3M308.18,373.20v-3M308.18,248.90v3M326.49,373.20v-3M326.49,248.90v3M335.79,373.20v-3M335.79,248.90v3M342.39,373.20v-3M342.39,248.90v3M347.51,373.20v-3M347.51,248.90v3M351.69,373.20v-3M351.69,248.90v3M355.22,373.20v-3M355.22,248.90v3M358.28,373.20v-3M358.28,248.90v3M360.98,373.20v-3M360.98,248.90v3M257.80,357.60h5M367.45,357.60h-5M257.80,335.60h5M367.45,335.60h-5M257.80,313.60h5M367.45,313.60h-5M257.80,291.60h5M367.45,291.60h-5M257.80,269.60h5M367.45,269.60h-5M257.80,368.60h3M367.45,368.60h-3M257.80,346.60h3M367.45,346.60h-3M257.80,324.60h3M367.45,324.60h-3M257.80,302.60h3M367.45,302.60h-3M257.80,280.60h3M367.45,280.60h-3M257.80,258.60h3M367.45,258.60h-3" stroke="#1a1a1a" stroke-width="0.9" fill="none"/>
<rect x="257.80" y="248.90" width="109.65" height="124.30" fill="none" stroke="#1a1a1a" stroke-width="0.9"/>
<text x="316.40" y="269.60" font-family="'Liberation Serif', 'DejaVu Serif', serif" font-size="13" fill="#111">i</text>
<text x="310.60" y="385.40" font-family="'Liberation Serif', 'DejaVu Serif', serif" font-size="12.6" text-anchor="middle" fill="#111">10<tspan font-size="9" dy="-4.8">−1</tspan></text>
<text x="363.40" y="385.40" font-family="'Liberation Serif', 'DejaVu Serif', serif" font-size="12.6" text-anchor="middle" fill="#111">10<tspan font-size="9" dy="-4.8">0</tspan></text>
<g clip-path="url(#c23)">
<path d="M366.4,218.9 387.5,218.9 387.5,248.9 387.6,250.3 389.3,259.5 391.6,261.8 393.3,271.0 396.8,282.6 398.5,284.9 401.3,293.5 404.8,302.2 407.9,304.6 410.2,308.5 412.6,310.0 413.8,316.8 414.5,312.4 414.8,310.1 415.4,310.1 415.7,312.4 416.4,316.8 417.3,322.6 417.8,323.3 419.1,324.7 420.2,326.4 421.4,326.5 422.4,328.7 423.5,330.1 424.4,329.8 425.4,330.4 426.3,331.7 427.1,332.8 428.0,334.3 428.8,333.0 429.5,335.2 430.3,336.7 431.0,336.3 431.7,338.4 432.4,336.5 433.1,339.2 433.7,337.8 434.4,337.3 435.0,340.2 435.6,339.9 436.1,340.8 436.7,343.4 437.3,342.2 437.8,341.3 438.3,342.3 438.8,344.3 439.3,342.3 439.8,341.9 440.3,343.1 440.8,341.6 441.3,343.7 441.7,343.2 442.2,342.7 442.6,344.5 443.0,343.4 443.4,345.5 443.9,344.7 444.3,346.1 444.7,346.2 445.1,346.7 445.4,345.9 445.8,346.4 446.2,347.0 446.6,348.1 446.9,345.7 447.3,347.0 447.6,345.9 448.0,348.5 448.3,347.9 448.6,347.4 449.0,348.2 449.3,347.3 449.6,348.8 449.9,347.9 450.3,346.5 450.6,347.9 450.9,349.0 451.2,346.7 451.5,349.1 451.8,347.9 452.0,349.6 452.3,348.0 452.6,348.7 452.9,349.2 453.2,348.0 453.4,349.0 453.7,350.1 454.0,350.6 454.2,350.1 454.5,350.7 454.7,350.9 455.0,348.5 455.2,349.3 455.5,350.3 455.7,349.9 456.0,350.0 456.2,349.7 456.5,350.6 456.7,349.2 456.9,348.7 457.2,352.4 457.4,349.9 457.6,351.4 457.8,351.6 458.1,351.4 458.3,350.0 458.5,350.3 458.7,350.5 458.9,352.6 459.1,349.9 459.3,350.4 459.5,350.1 459.8,350.4 460.0,349.8 460.2,351.3 460.4,351.8 460.6,351.4 460.8,350.7 461.0,353.5 461.1,352.8 461.3,350.5 461.5,353.7 461.7,353.3 461.9,353.4 462.1,352.1 462.3,352.1 462.5,351.5 462.6,352.2 462.8,351.1 463.0,355.2 463.2,351.1 463.3,352.9 463.5,350.0 463.7,350.9 463.9,352.3 464.0,352.5 464.2,351.7 464.4,353.2 464.5,351.7 464.7,353.0 464.9,352.9 465.0,351.4 465.2,352.1 465.4,352.0 465.5,351.9 465.7,353.1 465.8,352.0 466.0,354.8 466.1,352.5 466.3,352.6 466.5,351.8 466.6,353.0 466.8,352.1 466.9,353.3 467.1,352.2 467.2,353.7 467.4,353.9 467.5,353.2 467.6,352.5 467.8,355.7 467.9,352.4 468.1,353.7 468.2,352.4 468.4,355.2 468.5,354.0 468.6,356.4 468.8,354.8 468.9,353.3 469.1,354.2 469.2,354.3 469.3,355.1 469.5,353.2 469.6,354.5 469.7,353.9 469.9,353.9 470.0,352.5 470.1,355.4 470.2,354.5 470.4,355.0 470.5,354.4 470.6,352.4 470.8,353.7 470.9,352.9 471.0,353.9 471.1,354.2 471.3,354.2 471.4,354.0 471.5,355.3 471.6,352.7 471.8,354.0 471.9,354.6 472.0,354.5 472.1,353.0 472.2,353.4 472.4,353.9 472.5,354.4 472.6,354.1 472.7,354.9 472.8,353.8 472.9,353.4 473.0,353.2 473.2,352.7 473.3,355.3 473.4,355.4 473.5,355.1 473.6,353.7 473.7,355.1 473.8,355.4 473.9,356.4 474.1,355.1 474.2,353.1 474.3,355.3 474.4,354.9 474.5,353.0 474.6,355.2 474.7,354.9 474.8,354.3 474.9,355.4 475.0,354.6 475.1,354.4 475.2,355.4 475.3,354.3 475.4,354.3 475.5,354.8 475.6,353.5 475.8,355.3 475.9,354.4 476.0,356.3 476.1,355.2 476.2,355.6 476.3,354.9 476.4,355.1 476.5,356.1 476.6,352.6 476.7,356.0 476.7,356.9 476.8,354.8 476.9,356.0 477.0,355.5 477.0,358.7 476.9,357.9 476.8,356.9 476.7,358.0 476.7,358.3 476.6,356.7 476.5,357.5 476.4,357.4 476.3,358.3 476.2,357.8 476.1,358.8 476.0,357.2 475.9,358.1 475.8,358.2 475.6,358.5 475.5,358.2 475.4,357.7 475.3,358.6 475.2,356.5 475.1,357.9 475.0,359.2 474.9,358.0 474.8,358.3 474.7,357.6 474.6,359.2 474.5,359.5 474.4,358.3 474.3,358.1 474.2,358.5 474.1,358.0 473.9,359.3 473.8,357.7 473.7,359.2 473.6,359.5 473.5,357.5 473.4,358.2 473.3,356.9 473.2,359.7 473.0,358.7 472.9,358.1 472.8,357.1 472.7,358.5 472.6,357.4 472.5,357.2 472.4,357.5 472.2,358.3 472.1,358.1 472.0,358.5 471.9,357.9 471.8,359.5 471.6,358.5 471.5,358.3 471.4,357.6 471.3,358.3 471.1,357.3 471.0,356.8 470.9,357.8 470.8,358.5 470.6,359.2 470.5,358.1 470.4,359.0 470.2,358.2 470.1,357.9 470.0,358.8 469.9,357.8 469.7,357.5 469.6,357.0 469.5,356.9 469.3,358.3 469.2,359.1 469.1,358.7 468.9,358.6 468.8,358.9 468.6,359.3 468.5,358.6 468.4,359.4 468.2,357.7 468.1,357.2 467.9,357.4 467.8,357.9 467.6,357.7 467.5,357.7 467.4,357.7 467.2,357.7 467.1,360.2 466.9,359.2 466.8,357.3 466.6,359.4 466.5,358.3 466.3,357.8 466.1,358.2 466.0,359.2 465.8,359.0 465.7,358.0 465.5,359.7 465.4,359.3 465.2,359.0 465.0,358.3 464.9,358.9 464.7,358.6 464.5,358.2 464.4,358.5 464.2,358.9 464.0,359.3 463.9,358.0 463.7,357.8 463.5,358.0 463.3,359.2 463.2,357.9 463.0,359.2 462.8,359.2 462.6,359.0 462.5,358.3 462.3,358.0 462.1,359.0 461.9,357.6 461.7,358.2 461.5,357.3 461.3,357.6 461.1,358.7 461.0,358.5 460.8,359.0 460.6,359.8 460.4,358.7 460.2,360.3 460.0,358.5 459.8,359.3 459.5,358.7 459.3,358.3 459.1,358.6 458.9,360.4 458.7,359.6 458.5,358.5 458.3,359.5 458.1,358.7 457.8,358.8 457.6,360.2 457.4,358.7 457.2,359.9 456.9,357.9 456.7,361.4 456.5,359.6 456.2,360.5 456.0,358.1 455.7,359.8 455.5,359.3 455.2,360.0 455.0,359.9 454.7,359.6 454.5,358.1 454.2,359.1 454.0,359.0 453.7,358.9 453.4,357.7 453.2,359.6 452.9,359.6 452.6,361.4 452.3,360.5 452.0,359.9 451.8,360.8 451.5,359.9 451.2,360.7 450.9,359.8 450.6,360.3 450.3,361.0 449.9,360.5 449.6,358.8 449.3,360.0 449.0,359.2 448.6,360.5 448.3,360.5 448.0,360.7 447.6,360.1 447.3,361.2 446.9,361.1 446.6,360.9 446.2,360.7 445.8,360.5 445.4,361.3 445.1,361.8 444.7,361.6 444.3,361.6 443.9,362.1 443.4,363.5 443.0,361.0 442.6,362.1 442.2,361.2 441.7,363.6 441.3,362.8 440.8,363.8 440.3,363.3 439.8,364.3 439.3,364.2 438.8,363.6 438.3,364.0 437.8,365.3 437.3,363.5 436.7,363.9 436.1,364.3 435.6,364.7 435.0,364.4 434.4,366.1 433.7,365.7 433.1,366.6 432.4,366.1 431.7,366.2 431.0,371.0 430.3,378.6 429.5,381.7 428.8,382.2 428.0,382.3 367.0,382.3 Z" fill="#e4dbee"/>
<path d="M366.7,190.6 366.8,191.5 367.0,192.4 367.2,193.3 367.3,194.2 367.5,195.1 367.6,196.0 367.8,197.0 367.9,197.9 368.1,198.8 368.2,199.8 368.4,200.7 368.5,201.6 368.7,202.6 368.8,203.5 368.9,204.5 369.1,205.4 369.2,206.4 369.4,207.3 369.5,208.3 369.6,209.3 369.8,210.2 369.9,211.2 370.0,212.2 370.1,213.2 370.3,214.1 370.4,215.1 370.5,216.1 370.7,217.1 370.8,218.1 370.9,219.0 371.0,220.0 371.2,221.0 371.3,222.0 371.4,223.0 371.6,224.0 371.7,225.0 371.8,226.0 372.0,227.0 372.1,228.0 372.2,229.0 372.4,230.0 372.5,231.0 372.6,232.0 372.8,233.0 372.9,234.0 373.0,235.0 373.2,236.0 373.3,237.1 373.4,238.1 373.6,239.1 373.7,240.1 373.9,241.1 374.0,242.1 374.2,243.1 374.3,244.1 374.5,245.2 374.6,246.2 374.8,247.2 375.0,248.2 375.1,249.2 375.3,250.2 375.5,251.2 375.6,252.2 375.8,253.3 376.0,254.3 376.1,255.3 376.3,256.3 376.5,257.3 376.7,258.3 376.9,259.3 377.1,260.3 377.3,261.3 377.5,262.3 377.7,263.3 377.9,264.4 378.1,265.4 378.3,266.4 378.5,267.4 378.8,268.4 379.0,269.4 379.2,270.3 379.4,271.3 379.7,272.3 379.9,273.3 380.2,274.3 380.4,275.3 380.7,276.3 380.9,277.3 381.2,278.2 381.5,279.2 381.7,280.2 382.0,281.2 382.3,282.2 382.6,283.1 382.9,284.1 383.2,285.1 383.5,286.0 383.8,287.0 384.1,287.9 384.4,288.9 384.8,289.8 385.1,290.8 385.4,291.7 385.8,292.7 386.1,293.6 386.5,294.5 386.9,295.5 387.2,296.4 387.6,297.3 388.0,298.2 388.4,299.2 388.8,300.1 389.2,301.0 389.6,301.9 390.0,302.8 390.4,303.7 390.8,304.5 391.3,305.4 391.7,306.3 392.2,307.2 392.6,308.1 393.1,308.9 393.6,309.8 394.0,310.6 394.5,311.5 395.0,312.3 395.5,313.2 396.0,314.0 396.6,314.8 397.1,315.6 397.6,316.4 398.2,317.3 398.7,318.1 399.3,318.8 399.8,319.6 400.4,320.4 401.0,321.2 401.6,322.0 402.2,322.7 402.8,323.5 403.4,324.2 404.1,325.0 404.7,325.7 405.3,326.4 406.0,327.1 406.7,327.9 407.3,328.6 408.0,329.3 408.7,329.9 409.4,330.6 410.1,331.3 410.8,332.0 411.6,332.6 412.3,333.3 413.0,333.9 413.8,334.6 414.5,335.2 415.3,335.8 416.1,336.4 416.8,337.0 417.6,337.6 418.4,338.2 419.2,338.8 420.0,339.3 420.8,339.9 421.6,340.4 422.5,341.0 423.3,341.5 424.1,342.0 425.0,342.5 425.8,343.0 426.7,343.5 427.6,344.0 428.4,344.5 429.3,345.0 430.2,345.4 431.1,345.9 432.0,346.3 432.9,346.7 433.8,347.1 434.7,347.6 435.6,348.0 436.5,348.3 437.4,348.7 438.4,349.1 439.3,349.5 440.2,349.8 441.2,350.1 442.1,350.5 443.1,350.8 444.0,351.1 445.0,351.4 446.0,351.7 446.9,352.0 447.9,352.2 448.9,352.5 449.9,352.7 450.8,353.0 451.8,353.2 452.8,353.4 453.8,353.6 454.8,353.8 455.8,354.0 456.8,354.2 457.8,354.4 458.8,354.5 459.9,354.6 460.9,354.8 461.9,354.9 462.9,355.0 463.9,355.1 464.9,355.2 466.0,355.3 467.0,355.3 468.0,355.4 469.1,355.4 470.1,355.5 471.1,355.5 472.2,355.5 473.2,355.5 474.2,355.5 475.3,355.5 476.3,355.4 477.4,355.4 478.4,355.3 479.5,355.3 479.0,357.5 478.1,357.1 477.3,356.8 476.4,356.5 475.5,356.2 474.6,355.9 473.7,355.7 472.8,355.4 471.9,355.2 471.0,355.1 470.0,354.9 469.1,354.8 468.1,354.6 467.2,354.5 466.2,354.4 465.2,354.4 464.3,354.3 463.3,354.3 462.3,354.3 461.3,354.2 460.3,354.2 459.3,354.3 458.2,354.3 457.2,354.3 456.2,354.4 455.2,354.4 454.1,354.5 453.1,354.6 452.1,354.6 451.0,354.7 450.0,354.8 448.9,354.9 447.9,355.0 446.8,355.1 445.8,355.2 444.7,355.3 443.7,355.4 442.6,355.5 441.6,355.6 440.5,355.7 439.4,355.8 438.4,355.9 437.3,356.0 436.3,356.0 435.2,356.1 434.2,356.2 433.1,356.3 432.1,356.3 431.1,356.4 430.0,356.4 429.0,356.4 428.0,356.4 426.9,356.4 425.9,356.4 424.9,356.4 423.9,356.4 422.9,356.3 421.9,356.3 420.9,356.2 419.9,356.1 418.9,355.9 417.9,355.8 416.9,355.6 416.0,355.5 415.0,355.3 414.1,355.0 413.1,354.8 412.2,354.5 411.3,354.2 410.3,353.9 409.4,353.6 408.5,353.2 407.7,352.8 406.8,352.4 405.9,351.9 405.1,351.5 404.2,351.0 403.4,350.4 402.6,349.9 401.7,349.3 400.9,348.7 400.2,348.1 399.4,347.4 398.6,346.8 397.9,346.1 397.2,345.4 396.4,344.7 395.7,344.0 395.0,343.2 394.4,342.5 393.7,341.7 393.1,341.0 392.4,340.2 391.8,339.4 391.2,338.6 390.7,337.8 390.1,337.0 389.5,336.2 389.0,335.4 388.5,334.6 388.0,333.8 387.4,332.9 386.9,332.1 386.4,331.3 386.0,330.4 385.5,329.6 385.0,328.7 384.5,327.9 384.0,327.0 383.5,326.2 383.0,325.3 382.5,324.4 382.1,323.6 381.6,322.7 381.1,321.8 380.6,320.9 380.2,320.0 379.7,319.2 379.2,318.3 378.7,317.4 378.3,316.5 377.8,315.6 377.4,314.7 376.9,313.7 376.5,312.8 376.0,311.9 375.6,311.0 375.2,310.1 374.8,309.1 374.4,308.2 374.0,307.3 373.6,306.4 373.2,305.4 372.8,304.5 372.4,303.5 372.0,302.6 371.7,301.7 371.3,300.7 371.0,299.8 370.7,298.8 370.3,297.9 370.0,296.9 369.7,296.0 369.4,295.0 369.2,294.1 368.9,293.1 368.6,292.2 368.4,291.2 368.2,290.2 368.0,289.3 367.8,288.3 367.6,287.4 367.4,286.4 367.2,285.4 367.1,284.5 367.0,283.5 366.8,282.5 366.7,281.6 366.7,280.6 366.6,279.6 Z" fill="#d4aed6"/>
<path d="M366.6,232.2 366.8,233.2 367.0,234.2 367.2,235.1 367.3,236.1 367.5,237.1 367.7,238.1 367.8,239.1 368.0,240.1 368.2,241.0 368.3,242.0 368.5,243.0 368.7,244.0 368.8,244.9 369.0,245.9 369.2,246.9 369.3,247.9 369.5,248.8 369.7,249.8 369.8,250.8 370.0,251.8 370.2,252.7 370.3,253.7 370.5,254.7 370.7,255.6 370.8,256.6 371.0,257.6 371.2,258.5 371.3,259.5 371.5,260.5 371.7,261.4 371.9,262.4 372.1,263.4 372.2,264.4 372.4,265.3 372.6,266.3 372.8,267.3 373.0,268.2 373.2,269.2 373.4,270.2 373.6,271.1 373.8,272.1 374.0,273.1 374.2,274.1 374.4,275.0 374.6,276.0 374.8,277.0 375.0,277.9 375.2,278.9 375.5,279.9 375.7,280.9 375.9,281.9 376.2,282.8 376.4,283.8 376.6,284.8 376.9,285.8 377.2,286.8 377.4,287.7 377.7,288.7 377.9,289.7 378.2,290.7 378.5,291.7 378.8,292.6 379.1,293.6 379.4,294.6 379.7,295.6 380.0,296.5 380.3,297.5 380.6,298.5 380.9,299.5 381.2,300.4 381.6,301.4 381.9,302.4 382.3,303.3 382.6,304.3 383.0,305.2 383.3,306.2 383.7,307.1 384.1,308.1 384.5,309.0 384.9,309.9 385.3,310.9 385.7,311.8 386.1,312.7 386.5,313.6 387.0,314.5 387.4,315.4 387.9,316.4 388.3,317.2 388.8,318.1 389.3,319.0 389.7,319.9 390.2,320.8 390.7,321.6 391.2,322.5 391.8,323.4 392.3,324.2 392.8,325.0 393.4,325.9 393.9,326.7 394.5,327.5 395.1,328.3 395.6,329.1 396.2,329.9 396.8,330.7 397.4,331.5 398.1,332.2 398.7,333.0 399.3,333.7 400.0,334.5 400.6,335.2 401.3,335.9 402.0,336.6 402.7,337.3 403.4,338.0 404.1,338.7 404.8,339.4 405.5,340.0 406.2,340.7 407.0,341.3 407.7,341.9 408.5,342.5 409.2,343.1 410.0,343.7 410.8,344.3 411.6,344.9 412.4,345.4 413.2,345.9 414.0,346.5 414.8,347.0 415.6,347.5 416.5,347.9 417.3,348.4 418.2,348.9 419.0,349.3 419.9,349.7 420.7,350.1 421.6,350.5 422.5,350.9 423.4,351.3 424.3,351.6 425.2,351.9 426.1,352.3 427.1,352.6 428.0,352.9 428.9,353.1 429.9,353.4 430.8,353.7 431.8,353.9 432.7,354.1 433.7,354.3 434.6,354.5 435.6,354.7 436.6,354.9 437.6,355.1 438.5,355.3 439.5,355.4 440.5,355.6 441.5,355.7 442.5,355.8 443.5,355.9 444.5,356.0 445.5,356.1 446.6,356.2 447.6,356.3 448.6,356.4 449.6,356.4 450.6,356.5 451.6,356.5 452.7,356.6 453.7,356.6 454.7,356.7 455.7,356.7 456.8,356.7 457.8,356.7 458.8,356.8 459.9,356.8 460.9,356.8 461.9,356.8 463.0,356.8 464.0,356.8 465.0,356.8 466.0,356.8 467.1,356.8 468.1,356.8 469.1,356.7 470.2,356.7 471.2,356.7 472.2,356.7 473.2,356.7 474.2,356.7 475.2,356.7 476.3,356.6 477.3,356.6 478.3,356.6 479.3,356.6" fill="none" stroke="#b85ea8" stroke-width="2.8" stroke-linejoin="round"/>
<line x1="367.45" y1="357.60" x2="477.10" y2="357.60" stroke="#111" stroke-width="1" stroke-dasharray="2.2,1.8"/>
</g>
<path d="M420.25,373.20v-5M420.25,248.90v5M473.05,373.20v-5M473.05,248.90v5M383.34,373.20v-3M383.34,248.90v3M392.64,373.20v-3M392.64,248.90v3M399.24,373.20v-3M399.24,248.90v3M404.36,373.20v-3M404.36,248.90v3M408.54,373.20v-3M408.54,248.90v3M412.07,373.20v-3M412.07,248.90v3M415.13,373.20v-3M415.13,248.90v3M417.83,373.20v-3M417.83,248.90v3M436.14,373.20v-3M436.14,248.90v3M445.44,373.20v-3M445.44,248.90v3M452.04,373.20v-3M452.04,248.90v3M457.16,373.20v-3M457.16,248.90v3M461.34,373.20v-3M461.34,248.90v3M464.87,373.20v-3M464.87,248.90v3M467.93,373.20v-3M467.93,248.90v3M470.63,373.20v-3M470.63,248.90v3M367.45,357.60h5M477.10,357.60h-5M367.45,335.60h5M477.10,335.60h-5M367.45,313.60h5M477.10,313.60h-5M367.45,291.60h5M477.10,291.60h-5M367.45,269.60h5M477.10,269.60h-5M367.45,368.60h3M477.10,368.60h-3M367.45,346.60h3M477.10,346.60h-3M367.45,324.60h3M477.10,324.60h-3M367.45,302.60h3M477.10,302.60h-3M367.45,280.60h3M477.10,280.60h-3M367.45,258.60h3M477.10,258.60h-3" stroke="#1a1a1a" stroke-width="0.9" fill="none"/>
<rect x="367.45" y="248.90" width="109.65" height="124.30" fill="none" stroke="#1a1a1a" stroke-width="0.9"/>
<text x="426.05" y="269.60" font-family="'Liberation Serif', 'DejaVu Serif', serif" font-size="13" fill="#111">I</text>
<text x="420.25" y="385.40" font-family="'Liberation Serif', 'DejaVu Serif', serif" font-size="12.6" text-anchor="middle" fill="#111">10<tspan font-size="9" dy="-4.8">−1</tspan></text>
<text x="473.05" y="385.40" font-family="'Liberation Serif', 'DejaVu Serif', serif" font-size="12.6" text-anchor="middle" fill="#111">10<tspan font-size="9" dy="-4.8">0</tspan></text>
<g clip-path="url(#c24)">
<path d="M476.1,218.9 501.1,218.9 501.2,248.9 501.2,252.6 502.9,259.5 505.2,271.0 507.0,278.0 509.3,282.6 512.1,294.0 512.7,293.0 515.6,298.8 517.9,306.2 520.2,309.3 521.8,310.0 523.5,312.8 524.2,310.0 524.5,308.5 525.1,308.5 525.4,310.0 526.1,312.8 527.5,321.3 528.7,322.3 529.9,324.6 531.0,325.8 532.1,326.2 533.1,328.6 534.1,330.0 535.0,328.8 535.9,329.4 536.8,330.2 537.6,331.5 538.4,333.0 539.2,334.8 539.9,334.0 540.7,333.9 541.4,335.6 542.1,337.3 542.7,336.3 543.4,337.8 544.0,337.4 544.6,338.9 545.2,337.7 545.8,339.6 546.4,337.9 546.9,338.8 547.5,341.0 548.0,340.0 548.5,342.4 549.0,340.2 549.5,340.6 550.0,342.4 550.4,341.5 550.9,343.7 551.4,344.4 551.8,343.2 552.2,343.4 552.7,344.1 553.1,344.2 553.5,345.7 553.9,344.7 554.3,343.4 554.7,345.4 555.1,344.7 555.5,346.2 555.8,344.8 556.2,345.7 556.6,345.7 556.9,344.0 557.3,345.8 557.6,343.9 558.0,346.0 558.3,346.0 558.6,347.0 559.0,347.7 559.3,347.3 559.6,348.6 559.9,346.0 560.2,347.8 560.5,347.7 560.8,348.8 561.1,347.9 561.4,349.4 561.7,347.1 562.0,348.3 562.3,349.0 562.5,348.6 562.8,348.3 563.1,348.8 563.3,349.2 563.6,348.2 563.9,350.7 564.1,350.5 564.4,349.2 564.6,349.6 564.9,350.7 565.1,349.7 565.4,349.5 565.6,349.8 565.9,348.9 566.1,350.1 566.3,348.4 566.6,348.1 566.8,351.4 567.0,349.3 567.3,350.9 567.5,351.2 567.7,352.3 567.9,349.6 568.1,349.9 568.4,350.7 568.6,352.9 568.8,350.4 569.0,350.4 569.2,351.3 569.4,350.7 569.6,352.3 569.8,349.7 570.0,352.0 570.2,350.3 570.4,351.1 570.6,351.6 570.8,352.1 571.0,352.4 571.2,351.4 571.4,351.4 571.6,349.8 571.7,352.9 571.9,352.0 572.1,352.3 572.3,352.0 572.5,351.6 572.6,351.7 572.8,351.6 573.0,351.7 573.2,353.2 573.3,351.8 573.5,351.4 573.7,352.5 573.9,352.4 574.0,354.1 574.2,353.2 574.4,351.3 574.5,353.4 574.7,353.8 574.8,353.5 575.0,352.4 575.2,351.6 575.3,352.4 575.5,354.6 575.6,353.1 575.8,352.6 575.9,352.6 576.1,353.1 576.3,353.3 576.4,351.9 576.6,352.2 576.7,352.2 576.9,354.2 577.0,353.9 577.1,353.7 577.3,353.2 577.4,354.7 577.6,354.3 577.7,354.5 577.9,353.8 578.0,353.5 578.1,353.4 578.3,354.3 578.4,352.8 578.6,352.1 578.7,353.2 578.8,353.2 579.0,355.0 579.1,352.3 579.2,354.9 579.4,352.7 579.5,353.8 579.6,355.3 579.8,352.4 579.9,351.6 580.0,352.2 580.2,354.7 580.3,354.0 580.4,354.8 580.5,354.7 580.7,353.2 580.8,353.9 580.9,353.6 581.0,354.2 581.2,354.7 581.3,354.1 581.4,353.9 581.5,353.7 581.6,353.7 581.8,354.5 581.9,354.1 582.0,355.4 582.1,352.0 582.2,354.3 582.4,353.8 582.5,353.7 582.6,353.7 582.7,354.9 582.8,355.5 582.9,355.2 583.0,353.2 583.2,353.1 583.3,356.7 583.4,353.2 583.5,354.2 583.6,354.5 583.7,355.0 583.8,355.4 583.9,352.4 584.0,353.9 584.1,355.6 584.3,356.0 584.4,354.7 584.5,353.9 584.6,352.4 584.7,355.0 584.8,356.9 584.9,354.2 585.0,355.0 585.1,353.4 585.2,355.0 585.3,355.9 585.4,353.6 585.5,353.9 585.6,353.5 585.7,355.5 585.8,353.0 585.9,354.8 586.0,353.6 586.1,353.4 586.2,355.6 586.3,356.1 586.4,355.2 586.5,355.1 586.6,354.6 586.7,354.4 586.7,359.0 586.6,358.1 586.5,356.2 586.4,358.2 586.3,357.5 586.2,357.7 586.1,357.6 586.0,358.6 585.9,357.2 585.8,358.0 585.7,358.1 585.6,359.1 585.5,358.5 585.4,357.9 585.3,358.3 585.2,358.0 585.1,357.6 585.0,358.1 584.9,357.7 584.8,357.8 584.7,358.3 584.6,358.6 584.5,358.0 584.4,356.7 584.3,358.0 584.1,357.1 584.0,358.9 583.9,359.2 583.8,358.8 583.7,357.2 583.6,357.1 583.5,358.2 583.4,359.0 583.3,360.6 583.2,356.8 583.0,358.9 582.9,357.2 582.8,358.7 582.7,357.6 582.6,359.0 582.5,356.9 582.4,357.8 582.2,358.7 582.1,357.9 582.0,358.5 581.9,358.2 581.8,357.9 581.6,357.7 581.5,358.3 581.4,358.5 581.3,357.7 581.2,358.2 581.0,358.8 580.9,358.8 580.8,357.5 580.7,358.6 580.5,358.2 580.4,357.6 580.3,358.3 580.2,358.1 580.0,358.2 579.9,356.6 579.8,359.5 579.6,358.0 579.5,357.8 579.4,358.4 579.2,356.6 579.1,359.1 579.0,360.3 578.8,358.7 578.7,358.6 578.6,357.2 578.4,359.5 578.3,358.3 578.1,360.0 578.0,358.3 577.9,357.7 577.7,358.2 577.6,358.5 577.4,358.4 577.3,358.8 577.1,358.7 577.0,359.7 576.9,357.7 576.7,358.5 576.6,358.2 576.4,359.1 576.3,358.1 576.1,357.1 575.9,357.7 575.8,357.1 575.6,358.1 575.5,357.5 575.3,358.9 575.2,359.0 575.0,359.2 574.8,359.6 574.7,359.0 574.5,357.6 574.4,359.2 574.2,359.0 574.0,357.4 573.9,358.5 573.7,358.5 573.5,357.9 573.3,359.9 573.2,359.1 573.0,358.4 572.8,358.6 572.6,360.3 572.5,359.1 572.3,358.1 572.1,357.8 571.9,358.6 571.7,358.5 571.6,358.4 571.4,358.6 571.2,356.7 571.0,357.7 570.8,359.3 570.6,358.3 570.4,358.6 570.2,358.5 570.0,358.2 569.8,358.3 569.6,358.6 569.4,358.1 569.2,359.7 569.0,359.0 568.8,358.7 568.6,358.6 568.4,359.1 568.1,359.2 567.9,358.9 567.7,360.1 567.5,357.8 567.3,358.6 567.0,358.8 566.8,360.2 566.6,359.5 566.3,360.0 566.1,358.8 565.9,359.9 565.6,358.1 565.4,359.2 565.1,360.6 564.9,359.8 564.6,359.0 564.4,359.2 564.1,360.7 563.9,358.9 563.6,360.9 563.3,359.2 563.1,359.0 562.8,360.1 562.5,360.3 562.3,359.8 562.0,359.6 561.7,360.0 561.4,360.9 561.1,360.1 560.8,360.5 560.5,360.5 560.2,360.0 559.9,359.7 559.6,359.7 559.3,359.5 559.0,359.4 558.6,359.8 558.3,360.4 558.0,359.1 557.6,360.2 557.3,359.5 556.9,360.5 556.6,361.4 556.2,360.0 555.8,361.3 555.5,361.2 555.1,360.1 554.7,362.6 554.3,360.4 553.9,360.6 553.5,363.0 553.1,362.6 552.7,362.6 552.2,360.9 551.8,361.2 551.4,362.6 550.9,361.9 550.4,364.5 550.0,363.6 549.5,363.3 549.0,363.7 548.5,363.8 548.0,362.6 547.5,364.2 546.9,362.0 546.4,364.4 545.8,363.2 545.2,364.3 544.6,362.6 544.0,366.1 543.4,364.1 542.7,367.0 542.1,366.9 541.4,369.4 540.7,375.9 539.9,381.7 539.2,382.6 538.4,382.1 537.6,382.4 477.0,382.3 Z" fill="#e4dbee"/>
<path d="M476.3,179.7 476.4,180.6 476.6,181.6 476.7,182.5 476.9,183.4 477.0,184.4 477.2,185.3 477.3,186.2 477.5,187.2 477.6,188.1 477.8,189.1 477.9,190.0 478.0,191.0 478.2,191.9 478.3,192.9 478.4,193.8 478.6,194.8 478.7,195.7 478.8,196.7 479.0,197.7 479.1,198.6 479.2,199.6 479.3,200.6 479.5,201.5 479.6,202.5 479.7,203.5 479.8,204.5 480.0,205.4 480.1,206.4 480.2,207.4 480.3,208.4 480.4,209.4 480.6,210.4 480.7,211.4 480.8,212.3 480.9,213.3 481.1,214.3 481.2,215.3 481.3,216.3 481.4,217.3 481.5,218.3 481.7,219.3 481.8,220.3 481.9,221.3 482.0,222.3 482.2,223.3 482.3,224.3 482.4,225.3 482.6,226.3 482.7,227.3 482.8,228.3 482.9,229.3 483.1,230.3 483.2,231.3 483.4,232.3 483.5,233.3 483.6,234.3 483.8,235.3 483.9,236.4 484.1,237.4 484.2,238.4 484.4,239.4 484.5,240.4 484.7,241.4 484.8,242.4 485.0,243.4 485.1,244.4 485.3,245.4 485.4,246.4 485.6,247.4 485.8,248.4 486.0,249.4 486.1,250.4 486.3,251.4 486.5,252.5 486.7,253.5 486.9,254.5 487.0,255.5 487.2,256.5 487.4,257.5 487.6,258.5 487.8,259.5 488.0,260.5 488.2,261.5 488.5,262.5 488.7,263.4 488.9,264.4 489.1,265.4 489.3,266.4 489.6,267.4 489.8,268.4 490.0,269.4 490.3,270.4 490.5,271.4 490.8,272.3 491.0,273.3 491.3,274.3 491.6,275.3 491.8,276.3 492.1,277.2 492.4,278.2 492.7,279.2 493.0,280.2 493.3,281.1 493.6,282.1 493.9,283.1 494.2,284.0 494.5,285.0 494.8,285.9 495.1,286.9 495.5,287.8 495.8,288.8 496.1,289.7 496.5,290.7 496.8,291.6 497.2,292.6 497.6,293.5 497.9,294.4 498.3,295.4 498.7,296.3 499.1,297.2 499.5,298.1 499.9,299.0 500.3,300.0 500.7,300.9 501.1,301.8 501.5,302.7 502.0,303.6 502.4,304.4 502.9,305.3 503.3,306.2 503.8,307.1 504.2,308.0 504.7,308.8 505.2,309.7 505.7,310.5 506.2,311.4 506.7,312.2 507.2,313.1 507.7,313.9 508.2,314.7 508.8,315.6 509.3,316.4 509.9,317.2 510.4,318.0 511.0,318.8 511.5,319.6 512.1,320.4 512.7,321.1 513.3,321.9 513.9,322.7 514.5,323.4 515.2,324.2 515.8,324.9 516.4,325.7 517.1,326.4 517.7,327.1 518.4,327.8 519.1,328.5 519.7,329.2 520.4,329.9 521.1,330.6 521.8,331.3 522.5,332.0 523.3,332.6 524.0,333.3 524.7,333.9 525.5,334.6 526.2,335.2 527.0,335.8 527.8,336.4 528.5,337.0 529.3,337.6 530.1,338.2 530.9,338.8 531.7,339.3 532.5,339.9 533.3,340.4 534.1,341.0 535.0,341.5 535.8,342.0 536.6,342.6 537.5,343.1 538.3,343.6 539.2,344.0 540.0,344.5 540.9,345.0 541.8,345.4 542.7,345.9 543.6,346.3 544.5,346.8 545.4,347.2 546.3,347.6 547.2,348.0 548.1,348.4 549.0,348.8 549.9,349.1 550.9,349.5 551.8,349.9 552.7,350.2 553.7,350.5 554.6,350.8 555.6,351.2 556.5,351.5 557.5,351.7 558.5,352.0 559.5,352.3 560.4,352.5 561.4,352.8 562.4,353.0 563.4,353.3 564.4,353.5 565.4,353.7 566.4,353.9 567.4,354.0 568.4,354.2 569.4,354.4 570.4,354.5 571.4,354.7 572.4,354.8 573.5,354.9 574.5,355.0 575.5,355.1 576.6,355.2 577.6,355.3 578.6,355.3 579.7,355.4 580.7,355.4 581.8,355.4 582.8,355.4 583.9,355.4 584.9,355.4 586.0,355.4 587.0,355.4 588.1,355.3 589.2,355.3 588.6,357.4 587.8,357.1 586.9,356.8 586.1,356.5 585.2,356.3 584.3,356.1 583.5,355.9 582.6,355.7 581.7,355.6 580.7,355.4 579.8,355.3 578.9,355.2 577.9,355.1 577.0,355.0 576.0,355.0 575.0,354.9 574.1,354.9 573.1,354.9 572.1,354.9 571.1,354.9 570.1,354.9 569.1,354.9 568.1,355.0 567.1,355.0 566.0,355.0 565.0,355.1 564.0,355.2 563.0,355.2 561.9,355.3 560.9,355.4 559.8,355.5 558.8,355.6 557.7,355.6 556.7,355.7 555.6,355.8 554.6,355.9 553.5,356.0 552.5,356.1 551.4,356.1 550.4,356.2 549.3,356.3 548.3,356.4 547.2,356.4 546.2,356.5 545.1,356.5 544.1,356.6 543.0,356.6 542.0,356.6 540.9,356.6 539.9,356.6 538.9,356.6 537.8,356.6 536.8,356.6 535.8,356.5 534.8,356.5 533.8,356.4 532.8,356.3 531.8,356.2 530.8,356.0 529.8,355.9 528.8,355.7 527.8,355.5 526.8,355.3 525.9,355.1 524.9,354.9 524.0,354.6 523.1,354.3 522.1,354.0 521.2,353.6 520.3,353.3 519.4,352.9 518.5,352.5 517.6,352.0 516.8,351.6 515.9,351.1 515.1,350.6 514.2,350.1 513.4,349.6 512.6,349.1 511.8,348.5 511.0,347.9 510.3,347.3 509.5,346.7 508.8,346.1 508.0,345.4 507.3,344.7 506.6,344.1 505.9,343.4 505.3,342.7 504.6,341.9 504.0,341.2 503.3,340.4 502.7,339.7 502.1,338.9 501.6,338.1 501.0,337.3 500.5,336.5 499.9,335.7 499.4,334.8 498.9,334.0 498.4,333.1 497.9,332.3 497.4,331.4 496.9,330.5 496.5,329.7 496.0,328.8 495.5,327.9 495.0,327.0 494.5,326.1 494.1,325.2 493.6,324.3 493.1,323.4 492.6,322.5 492.2,321.6 491.7,320.7 491.2,319.8 490.7,318.9 490.3,318.0 489.8,317.1 489.3,316.2 488.9,315.3 488.4,314.4 487.9,313.5 487.5,312.6 487.0,311.6 486.5,310.7 486.1,309.8 485.6,308.9 485.2,308.0 484.7,307.1 484.3,306.2 483.9,305.3 483.4,304.5 483.0,303.6 482.5,302.7 482.1,301.8 481.7,300.9 481.3,300.1 480.8,299.2 480.4,298.3 480.0,297.5 479.6,296.6 479.1,295.8 478.7,294.9 478.3,294.1 477.9,293.3 477.4,292.4 477.0,291.6 476.6,290.8 Z" fill="#d4aed6"/>
<path d="M476.1,229.3 476.3,230.2 476.5,231.1 476.7,232.1 477.0,233.0 477.2,233.9 477.4,234.8 477.6,235.8 477.8,236.7 478.0,237.6 478.2,238.6 478.4,239.5 478.6,240.5 478.8,241.4 479.0,242.4 479.2,243.3 479.4,244.3 479.6,245.3 479.8,246.2 480.0,247.2 480.1,248.2 480.3,249.1 480.5,250.1 480.7,251.1 480.9,252.0 481.1,253.0 481.3,254.0 481.4,255.0 481.6,256.0 481.8,257.0 482.0,257.9 482.2,258.9 482.4,259.9 482.6,260.9 482.8,261.9 482.9,262.9 483.1,263.9 483.3,264.9 483.5,265.8 483.7,266.8 483.9,267.8 484.1,268.8 484.3,269.8 484.5,270.8 484.7,271.8 484.9,272.8 485.2,273.8 485.4,274.8 485.6,275.8 485.8,276.7 486.0,277.7 486.3,278.7 486.5,279.7 486.7,280.7 486.9,281.7 487.2,282.7 487.4,283.6 487.7,284.6 487.9,285.6 488.2,286.6 488.4,287.6 488.7,288.5 489.0,289.5 489.2,290.5 489.5,291.4 489.8,292.4 490.1,293.4 490.4,294.3 490.7,295.3 491.0,296.3 491.3,297.2 491.6,298.2 491.9,299.1 492.3,300.1 492.6,301.0 492.9,301.9 493.3,302.9 493.6,303.8 494.0,304.7 494.4,305.7 494.7,306.6 495.1,307.5 495.5,308.4 495.9,309.3 496.3,310.2 496.7,311.2 497.1,312.1 497.5,312.9 498.0,313.8 498.4,314.7 498.9,315.6 499.3,316.5 499.8,317.4 500.3,318.2 500.7,319.1 501.2,319.9 501.7,320.8 502.2,321.7 502.8,322.5 503.3,323.3 503.8,324.2 504.4,325.0 504.9,325.8 505.5,326.6 506.1,327.4 506.6,328.2 507.2,329.0 507.8,329.8 508.5,330.6 509.1,331.4 509.7,332.2 510.4,332.9 511.0,333.7 511.7,334.4 512.4,335.2 513.0,335.9 513.7,336.6 514.4,337.3 515.1,338.0 515.9,338.7 516.6,339.4 517.3,340.0 518.0,340.7 518.8,341.3 519.6,341.9 520.3,342.6 521.1,343.2 521.9,343.8 522.7,344.3 523.5,344.9 524.3,345.4 525.1,346.0 525.9,346.5 526.7,347.0 527.5,347.5 528.4,348.0 529.2,348.4 530.1,348.9 530.9,349.3 531.8,349.7 532.7,350.1 533.6,350.5 534.4,350.9 535.3,351.3 536.2,351.6 537.1,351.9 538.0,352.3 538.9,352.6 539.9,352.9 540.8,353.1 541.7,353.4 542.6,353.6 543.6,353.9 544.5,354.1 545.5,354.3 546.4,354.5 547.4,354.7 548.3,354.9 549.3,355.0 550.3,355.2 551.2,355.3 552.2,355.5 553.2,355.6 554.2,355.7 555.1,355.8 556.1,355.9 557.1,356.0 558.1,356.1 559.1,356.2 560.1,356.2 561.1,356.3 562.1,356.4 563.2,356.4 564.2,356.4 565.2,356.5 566.2,356.5 567.2,356.5 568.2,356.6 569.3,356.6 570.3,356.6 571.3,356.6 572.3,356.6 573.4,356.6 574.4,356.6 575.4,356.6 576.5,356.6 577.5,356.6 578.5,356.6 579.6,356.6 580.6,356.6 581.7,356.6 582.7,356.6 583.7,356.6 584.8,356.6 585.8,356.6 586.9,356.6 587.9,356.6 588.9,356.6" fill="none" stroke="#b85ea8" stroke-width="2.8" stroke-linejoin="round"/>
<line x1="477.10" y1="357.60" x2="586.75" y2="357.60" stroke="#111" stroke-width="1" stroke-dasharray="2.2,1.8"/>
</g>
<path d="M529.90,373.20v-5M529.90,248.90v5M582.70,373.20v-5M582.70,248.90v5M492.99,373.20v-3M492.99,248.90v3M502.29,373.20v-3M502.29,248.90v3M508.89,373.20v-3M508.89,248.90v3M514.01,373.20v-3M514.01,248.90v3M518.19,373.20v-3M518.19,248.90v3M521.72,373.20v-3M521.72,248.90v3M524.78,373.20v-3M524.78,248.90v3M527.48,373.20v-3M527.48,248.90v3M545.79,373.20v-3M545.79,248.90v3M555.09,373.20v-3M555.09,248.90v3M561.69,373.20v-3M561.69,248.90v3M566.81,373.20v-3M566.81,248.90v3M570.99,373.20v-3M570.99,248.90v3M574.52,373.20v-3M574.52,248.90v3M577.58,373.20v-3M577.58,248.90v3M580.28,373.20v-3M580.28,248.90v3M477.10,357.60h5M586.75,357.60h-5M477.10,335.60h5M586.75,335.60h-5M477.10,313.60h5M586.75,313.60h-5M477.10,291.60h5M586.75,291.60h-5M477.10,269.60h5M586.75,269.60h-5M477.10,368.60h3M586.75,368.60h-3M477.10,346.60h3M586.75,346.60h-3M477.10,324.60h3M586.75,324.60h-3M477.10,302.60h3M586.75,302.60h-3M477.10,280.60h3M586.75,280.60h-3M477.10,258.60h3M586.75,258.60h-3" stroke="#1a1a1a" stroke-width="0.9" fill="none"/>
<rect x="477.10" y="248.90" width="109.65" height="124.30" fill="none" stroke="#1a1a1a" stroke-width="0.9"/>
<text x="535.70" y="269.60" font-family="'Liberation Serif', 'DejaVu Serif', serif" font-size="13" fill="#111">z</text>
<text x="529.90" y="385.40" font-family="'Liberation Serif', 'DejaVu Serif', serif" font-size="12.6" text-anchor="middle" fill="#111">10<tspan font-size="9" dy="-4.8">−1</tspan></text>
<text x="582.70" y="385.40" font-family="'Liberation Serif', 'DejaVu Serif', serif" font-size="12.6" text-anchor="middle" fill="#111">10<tspan font-size="9" dy="-4.8">0</tspan></text>
<text transform="translate(10.8,189.3) rotate(-90)" font-family="'Liberation Serif', 'DejaVu Serif', serif" font-size="14" text-anchor="middle" fill="#111"><tspan font-style="italic">T</tspan><tspan font-size="9.5" dy="2.6">lag</tspan><tspan dy="-2.6" dx="2"> [days]</tspan></text>
<text x="314.4" y="403.3" font-family="'Liberation Serif', 'DejaVu Serif', serif" font-size="14.5" fill="#111"><tspan font-style="italic">f</tspan></text>
<text x="327.2" y="403.3" font-family="'Liberation Serif', 'DejaVu Serif', serif" font-size="12.8" fill="#111">[days<tspan font-size="9.3" dy="-5.4">−1</tspan><tspan dy="5.4" dx="0.3">]</tspan></text>
</svg></body></html>
